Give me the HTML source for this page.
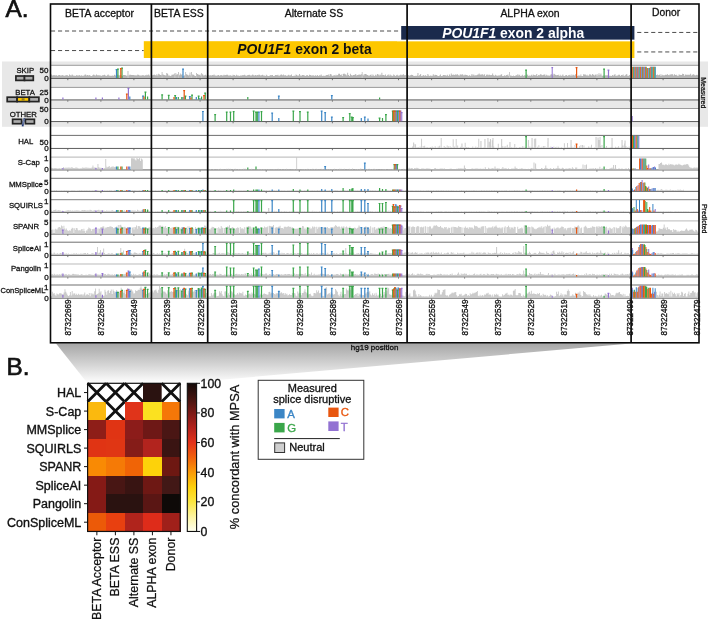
<!DOCTYPE html>
<html lang="en"><head><meta charset="utf-8"><title>POU1F1 exon 2 splice predictor comparison</title>
<style>
html,body{margin:0;padding:0;background:#fff;}
body{width:708px;height:620px;overflow:hidden;font-family:"Liberation Sans", Arial, Helvetica, sans-serif;}
svg{display:block;position:absolute;left:0;top:0;}
</style></head><body>
<svg width="708" height="620" viewBox="0 0 708 620" font-family='"Liberation Sans", Arial, Helvetica, sans-serif'><rect x="0" y="0" width="708" height="620" fill="#fff"/>
<rect x="2" y="61.5" width="706" height="65.3" fill="#e8e8e8"/>
<rect x="50.5" y="65.3" width="648.5" height="12.700000000000003" fill="#fff"/>
<rect x="50.5" y="87.4" width="648.5" height="12.099999999999994" fill="#fff"/>
<rect x="50.5" y="108.5" width="648.5" height="12.599999999999994" fill="#fff"/>
<defs><linearGradient id="wg" x1="0" y1="0" x2="0" y2="1"><stop offset="0" stop-color="#a6a6a6"/><stop offset="0.55" stop-color="#d6d6d6"/><stop offset="1" stop-color="#ffffff"/></linearGradient><linearGradient id="cb" x1="0" y1="0" x2="0" y2="1"><stop offset="0" stop-color="#140a08"/><stop offset="0.1" stop-color="#42140f"/><stop offset="0.2" stop-color="#7c1a16"/><stop offset="0.3" stop-color="#b2221c"/><stop offset="0.4" stop-color="#e2321a"/><stop offset="0.5" stop-color="#f0600c"/><stop offset="0.6" stop-color="#fa9a08"/><stop offset="0.7" stop-color="#fdd00c"/><stop offset="0.8" stop-color="#fbe640"/><stop offset="0.9" stop-color="#fdf4a0"/><stop offset="1" stop-color="#fffff0"/></linearGradient></defs>
<polygon points="56,343.5 631,343.5 180.5,383.3 87.5,383.3" fill="url(#wg)"/>
<line x1="50.5" x2="699.0" y1="65.3" y2="65.3" stroke="#8a8a8a" stroke-width="0.85"/>
<line x1="50.5" x2="699.0" y1="78.45" y2="78.45" stroke="#5e5e5e" stroke-width="1.0"/>
<line x1="67.8" x2="67.8" y1="78.9" y2="80.2" stroke="#444" stroke-width="0.7"/>
<line x1="100.9" x2="100.9" y1="78.9" y2="80.2" stroke="#444" stroke-width="0.7"/>
<line x1="133.9" x2="133.9" y1="78.9" y2="80.2" stroke="#444" stroke-width="0.7"/>
<line x1="167.0" x2="167.0" y1="78.9" y2="80.2" stroke="#444" stroke-width="0.7"/>
<line x1="200.1" x2="200.1" y1="78.9" y2="80.2" stroke="#444" stroke-width="0.7"/>
<line x1="233.1" x2="233.1" y1="78.9" y2="80.2" stroke="#444" stroke-width="0.7"/>
<line x1="266.2" x2="266.2" y1="78.9" y2="80.2" stroke="#444" stroke-width="0.7"/>
<line x1="299.3" x2="299.3" y1="78.9" y2="80.2" stroke="#444" stroke-width="0.7"/>
<line x1="332.4" x2="332.4" y1="78.9" y2="80.2" stroke="#444" stroke-width="0.7"/>
<line x1="365.4" x2="365.4" y1="78.9" y2="80.2" stroke="#444" stroke-width="0.7"/>
<line x1="398.5" x2="398.5" y1="78.9" y2="80.2" stroke="#444" stroke-width="0.7"/>
<line x1="431.6" x2="431.6" y1="78.9" y2="80.2" stroke="#444" stroke-width="0.7"/>
<line x1="464.6" x2="464.6" y1="78.9" y2="80.2" stroke="#444" stroke-width="0.7"/>
<line x1="497.7" x2="497.7" y1="78.9" y2="80.2" stroke="#444" stroke-width="0.7"/>
<line x1="530.8" x2="530.8" y1="78.9" y2="80.2" stroke="#444" stroke-width="0.7"/>
<line x1="563.9" x2="563.9" y1="78.9" y2="80.2" stroke="#444" stroke-width="0.7"/>
<line x1="596.9" x2="596.9" y1="78.9" y2="80.2" stroke="#444" stroke-width="0.7"/>
<line x1="630.0" x2="630.0" y1="78.9" y2="80.2" stroke="#444" stroke-width="0.7"/>
<line x1="663.1" x2="663.1" y1="78.9" y2="80.2" stroke="#444" stroke-width="0.7"/>
<line x1="50.5" x2="699.0" y1="87.4" y2="87.4" stroke="#8a8a8a" stroke-width="0.85"/>
<line x1="50.5" x2="699.0" y1="99.95" y2="99.95" stroke="#5e5e5e" stroke-width="1.0"/>
<line x1="67.8" x2="67.8" y1="100.4" y2="101.7" stroke="#444" stroke-width="0.7"/>
<line x1="100.9" x2="100.9" y1="100.4" y2="101.7" stroke="#444" stroke-width="0.7"/>
<line x1="133.9" x2="133.9" y1="100.4" y2="101.7" stroke="#444" stroke-width="0.7"/>
<line x1="167.0" x2="167.0" y1="100.4" y2="101.7" stroke="#444" stroke-width="0.7"/>
<line x1="200.1" x2="200.1" y1="100.4" y2="101.7" stroke="#444" stroke-width="0.7"/>
<line x1="233.1" x2="233.1" y1="100.4" y2="101.7" stroke="#444" stroke-width="0.7"/>
<line x1="266.2" x2="266.2" y1="100.4" y2="101.7" stroke="#444" stroke-width="0.7"/>
<line x1="299.3" x2="299.3" y1="100.4" y2="101.7" stroke="#444" stroke-width="0.7"/>
<line x1="332.4" x2="332.4" y1="100.4" y2="101.7" stroke="#444" stroke-width="0.7"/>
<line x1="365.4" x2="365.4" y1="100.4" y2="101.7" stroke="#444" stroke-width="0.7"/>
<line x1="398.5" x2="398.5" y1="100.4" y2="101.7" stroke="#444" stroke-width="0.7"/>
<line x1="431.6" x2="431.6" y1="100.4" y2="101.7" stroke="#444" stroke-width="0.7"/>
<line x1="464.6" x2="464.6" y1="100.4" y2="101.7" stroke="#444" stroke-width="0.7"/>
<line x1="497.7" x2="497.7" y1="100.4" y2="101.7" stroke="#444" stroke-width="0.7"/>
<line x1="530.8" x2="530.8" y1="100.4" y2="101.7" stroke="#444" stroke-width="0.7"/>
<line x1="563.9" x2="563.9" y1="100.4" y2="101.7" stroke="#444" stroke-width="0.7"/>
<line x1="596.9" x2="596.9" y1="100.4" y2="101.7" stroke="#444" stroke-width="0.7"/>
<line x1="630.0" x2="630.0" y1="100.4" y2="101.7" stroke="#444" stroke-width="0.7"/>
<line x1="663.1" x2="663.1" y1="100.4" y2="101.7" stroke="#444" stroke-width="0.7"/>
<line x1="50.5" x2="699.0" y1="108.5" y2="108.5" stroke="#8a8a8a" stroke-width="0.85"/>
<line x1="50.5" x2="699.0" y1="121.55" y2="121.55" stroke="#5e5e5e" stroke-width="1.0"/>
<line x1="67.8" x2="67.8" y1="122.0" y2="123.3" stroke="#444" stroke-width="0.7"/>
<line x1="100.9" x2="100.9" y1="122.0" y2="123.3" stroke="#444" stroke-width="0.7"/>
<line x1="133.9" x2="133.9" y1="122.0" y2="123.3" stroke="#444" stroke-width="0.7"/>
<line x1="167.0" x2="167.0" y1="122.0" y2="123.3" stroke="#444" stroke-width="0.7"/>
<line x1="200.1" x2="200.1" y1="122.0" y2="123.3" stroke="#444" stroke-width="0.7"/>
<line x1="233.1" x2="233.1" y1="122.0" y2="123.3" stroke="#444" stroke-width="0.7"/>
<line x1="266.2" x2="266.2" y1="122.0" y2="123.3" stroke="#444" stroke-width="0.7"/>
<line x1="299.3" x2="299.3" y1="122.0" y2="123.3" stroke="#444" stroke-width="0.7"/>
<line x1="332.4" x2="332.4" y1="122.0" y2="123.3" stroke="#444" stroke-width="0.7"/>
<line x1="365.4" x2="365.4" y1="122.0" y2="123.3" stroke="#444" stroke-width="0.7"/>
<line x1="398.5" x2="398.5" y1="122.0" y2="123.3" stroke="#444" stroke-width="0.7"/>
<line x1="431.6" x2="431.6" y1="122.0" y2="123.3" stroke="#444" stroke-width="0.7"/>
<line x1="464.6" x2="464.6" y1="122.0" y2="123.3" stroke="#444" stroke-width="0.7"/>
<line x1="497.7" x2="497.7" y1="122.0" y2="123.3" stroke="#444" stroke-width="0.7"/>
<line x1="530.8" x2="530.8" y1="122.0" y2="123.3" stroke="#444" stroke-width="0.7"/>
<line x1="563.9" x2="563.9" y1="122.0" y2="123.3" stroke="#444" stroke-width="0.7"/>
<line x1="596.9" x2="596.9" y1="122.0" y2="123.3" stroke="#444" stroke-width="0.7"/>
<line x1="630.0" x2="630.0" y1="122.0" y2="123.3" stroke="#444" stroke-width="0.7"/>
<line x1="663.1" x2="663.1" y1="122.0" y2="123.3" stroke="#444" stroke-width="0.7"/>
<line x1="50.5" x2="699.0" y1="135.4" y2="135.4" stroke="#555" stroke-width="0.85"/>
<line x1="50.5" x2="699.0" y1="148.45" y2="148.45" stroke="#5e5e5e" stroke-width="1.0"/>
<line x1="67.8" x2="67.8" y1="148.9" y2="150.2" stroke="#444" stroke-width="0.7"/>
<line x1="100.9" x2="100.9" y1="148.9" y2="150.2" stroke="#444" stroke-width="0.7"/>
<line x1="133.9" x2="133.9" y1="148.9" y2="150.2" stroke="#444" stroke-width="0.7"/>
<line x1="167.0" x2="167.0" y1="148.9" y2="150.2" stroke="#444" stroke-width="0.7"/>
<line x1="200.1" x2="200.1" y1="148.9" y2="150.2" stroke="#444" stroke-width="0.7"/>
<line x1="233.1" x2="233.1" y1="148.9" y2="150.2" stroke="#444" stroke-width="0.7"/>
<line x1="266.2" x2="266.2" y1="148.9" y2="150.2" stroke="#444" stroke-width="0.7"/>
<line x1="299.3" x2="299.3" y1="148.9" y2="150.2" stroke="#444" stroke-width="0.7"/>
<line x1="332.4" x2="332.4" y1="148.9" y2="150.2" stroke="#444" stroke-width="0.7"/>
<line x1="365.4" x2="365.4" y1="148.9" y2="150.2" stroke="#444" stroke-width="0.7"/>
<line x1="398.5" x2="398.5" y1="148.9" y2="150.2" stroke="#444" stroke-width="0.7"/>
<line x1="431.6" x2="431.6" y1="148.9" y2="150.2" stroke="#444" stroke-width="0.7"/>
<line x1="464.6" x2="464.6" y1="148.9" y2="150.2" stroke="#444" stroke-width="0.7"/>
<line x1="497.7" x2="497.7" y1="148.9" y2="150.2" stroke="#444" stroke-width="0.7"/>
<line x1="530.8" x2="530.8" y1="148.9" y2="150.2" stroke="#444" stroke-width="0.7"/>
<line x1="563.9" x2="563.9" y1="148.9" y2="150.2" stroke="#444" stroke-width="0.7"/>
<line x1="596.9" x2="596.9" y1="148.9" y2="150.2" stroke="#444" stroke-width="0.7"/>
<line x1="630.0" x2="630.0" y1="148.9" y2="150.2" stroke="#444" stroke-width="0.7"/>
<line x1="663.1" x2="663.1" y1="148.9" y2="150.2" stroke="#444" stroke-width="0.7"/>
<line x1="50.5" x2="699.0" y1="157.1" y2="157.1" stroke="#a8a8a8" stroke-width="0.85"/>
<line x1="50.5" x2="699.0" y1="169.95" y2="169.95" stroke="#5e5e5e" stroke-width="1.0"/>
<line x1="67.8" x2="67.8" y1="170.4" y2="171.7" stroke="#444" stroke-width="0.7"/>
<line x1="100.9" x2="100.9" y1="170.4" y2="171.7" stroke="#444" stroke-width="0.7"/>
<line x1="133.9" x2="133.9" y1="170.4" y2="171.7" stroke="#444" stroke-width="0.7"/>
<line x1="167.0" x2="167.0" y1="170.4" y2="171.7" stroke="#444" stroke-width="0.7"/>
<line x1="200.1" x2="200.1" y1="170.4" y2="171.7" stroke="#444" stroke-width="0.7"/>
<line x1="233.1" x2="233.1" y1="170.4" y2="171.7" stroke="#444" stroke-width="0.7"/>
<line x1="266.2" x2="266.2" y1="170.4" y2="171.7" stroke="#444" stroke-width="0.7"/>
<line x1="299.3" x2="299.3" y1="170.4" y2="171.7" stroke="#444" stroke-width="0.7"/>
<line x1="332.4" x2="332.4" y1="170.4" y2="171.7" stroke="#444" stroke-width="0.7"/>
<line x1="365.4" x2="365.4" y1="170.4" y2="171.7" stroke="#444" stroke-width="0.7"/>
<line x1="398.5" x2="398.5" y1="170.4" y2="171.7" stroke="#444" stroke-width="0.7"/>
<line x1="431.6" x2="431.6" y1="170.4" y2="171.7" stroke="#444" stroke-width="0.7"/>
<line x1="464.6" x2="464.6" y1="170.4" y2="171.7" stroke="#444" stroke-width="0.7"/>
<line x1="497.7" x2="497.7" y1="170.4" y2="171.7" stroke="#444" stroke-width="0.7"/>
<line x1="530.8" x2="530.8" y1="170.4" y2="171.7" stroke="#444" stroke-width="0.7"/>
<line x1="563.9" x2="563.9" y1="170.4" y2="171.7" stroke="#444" stroke-width="0.7"/>
<line x1="596.9" x2="596.9" y1="170.4" y2="171.7" stroke="#444" stroke-width="0.7"/>
<line x1="630.0" x2="630.0" y1="170.4" y2="171.7" stroke="#444" stroke-width="0.7"/>
<line x1="663.1" x2="663.1" y1="170.4" y2="171.7" stroke="#444" stroke-width="0.7"/>
<line x1="50.5" x2="699.0" y1="178.3" y2="178.3" stroke="#555" stroke-width="0.85"/>
<line x1="50.5" x2="699.0" y1="191.35" y2="191.35" stroke="#5e5e5e" stroke-width="1.0"/>
<line x1="67.8" x2="67.8" y1="191.8" y2="193.1" stroke="#444" stroke-width="0.7"/>
<line x1="100.9" x2="100.9" y1="191.8" y2="193.1" stroke="#444" stroke-width="0.7"/>
<line x1="133.9" x2="133.9" y1="191.8" y2="193.1" stroke="#444" stroke-width="0.7"/>
<line x1="167.0" x2="167.0" y1="191.8" y2="193.1" stroke="#444" stroke-width="0.7"/>
<line x1="200.1" x2="200.1" y1="191.8" y2="193.1" stroke="#444" stroke-width="0.7"/>
<line x1="233.1" x2="233.1" y1="191.8" y2="193.1" stroke="#444" stroke-width="0.7"/>
<line x1="266.2" x2="266.2" y1="191.8" y2="193.1" stroke="#444" stroke-width="0.7"/>
<line x1="299.3" x2="299.3" y1="191.8" y2="193.1" stroke="#444" stroke-width="0.7"/>
<line x1="332.4" x2="332.4" y1="191.8" y2="193.1" stroke="#444" stroke-width="0.7"/>
<line x1="365.4" x2="365.4" y1="191.8" y2="193.1" stroke="#444" stroke-width="0.7"/>
<line x1="398.5" x2="398.5" y1="191.8" y2="193.1" stroke="#444" stroke-width="0.7"/>
<line x1="431.6" x2="431.6" y1="191.8" y2="193.1" stroke="#444" stroke-width="0.7"/>
<line x1="464.6" x2="464.6" y1="191.8" y2="193.1" stroke="#444" stroke-width="0.7"/>
<line x1="497.7" x2="497.7" y1="191.8" y2="193.1" stroke="#444" stroke-width="0.7"/>
<line x1="530.8" x2="530.8" y1="191.8" y2="193.1" stroke="#444" stroke-width="0.7"/>
<line x1="563.9" x2="563.9" y1="191.8" y2="193.1" stroke="#444" stroke-width="0.7"/>
<line x1="596.9" x2="596.9" y1="191.8" y2="193.1" stroke="#444" stroke-width="0.7"/>
<line x1="630.0" x2="630.0" y1="191.8" y2="193.1" stroke="#444" stroke-width="0.7"/>
<line x1="663.1" x2="663.1" y1="191.8" y2="193.1" stroke="#444" stroke-width="0.7"/>
<line x1="50.5" x2="699.0" y1="199.7" y2="199.7" stroke="#666" stroke-width="0.85"/>
<line x1="50.5" x2="699.0" y1="212.35" y2="212.35" stroke="#5e5e5e" stroke-width="1.0"/>
<line x1="67.8" x2="67.8" y1="212.8" y2="214.1" stroke="#444" stroke-width="0.7"/>
<line x1="100.9" x2="100.9" y1="212.8" y2="214.1" stroke="#444" stroke-width="0.7"/>
<line x1="133.9" x2="133.9" y1="212.8" y2="214.1" stroke="#444" stroke-width="0.7"/>
<line x1="167.0" x2="167.0" y1="212.8" y2="214.1" stroke="#444" stroke-width="0.7"/>
<line x1="200.1" x2="200.1" y1="212.8" y2="214.1" stroke="#444" stroke-width="0.7"/>
<line x1="233.1" x2="233.1" y1="212.8" y2="214.1" stroke="#444" stroke-width="0.7"/>
<line x1="266.2" x2="266.2" y1="212.8" y2="214.1" stroke="#444" stroke-width="0.7"/>
<line x1="299.3" x2="299.3" y1="212.8" y2="214.1" stroke="#444" stroke-width="0.7"/>
<line x1="332.4" x2="332.4" y1="212.8" y2="214.1" stroke="#444" stroke-width="0.7"/>
<line x1="365.4" x2="365.4" y1="212.8" y2="214.1" stroke="#444" stroke-width="0.7"/>
<line x1="398.5" x2="398.5" y1="212.8" y2="214.1" stroke="#444" stroke-width="0.7"/>
<line x1="431.6" x2="431.6" y1="212.8" y2="214.1" stroke="#444" stroke-width="0.7"/>
<line x1="464.6" x2="464.6" y1="212.8" y2="214.1" stroke="#444" stroke-width="0.7"/>
<line x1="497.7" x2="497.7" y1="212.8" y2="214.1" stroke="#444" stroke-width="0.7"/>
<line x1="530.8" x2="530.8" y1="212.8" y2="214.1" stroke="#444" stroke-width="0.7"/>
<line x1="563.9" x2="563.9" y1="212.8" y2="214.1" stroke="#444" stroke-width="0.7"/>
<line x1="596.9" x2="596.9" y1="212.8" y2="214.1" stroke="#444" stroke-width="0.7"/>
<line x1="630.0" x2="630.0" y1="212.8" y2="214.1" stroke="#444" stroke-width="0.7"/>
<line x1="663.1" x2="663.1" y1="212.8" y2="214.1" stroke="#444" stroke-width="0.7"/>
<line x1="50.5" x2="699.0" y1="220.9" y2="220.9" stroke="#aeaeae" stroke-width="0.85"/>
<line x1="50.5" x2="699.0" y1="234.04999999999998" y2="234.04999999999998" stroke="#5e5e5e" stroke-width="1.0"/>
<line x1="67.8" x2="67.8" y1="234.5" y2="235.79999999999998" stroke="#444" stroke-width="0.7"/>
<line x1="100.9" x2="100.9" y1="234.5" y2="235.79999999999998" stroke="#444" stroke-width="0.7"/>
<line x1="133.9" x2="133.9" y1="234.5" y2="235.79999999999998" stroke="#444" stroke-width="0.7"/>
<line x1="167.0" x2="167.0" y1="234.5" y2="235.79999999999998" stroke="#444" stroke-width="0.7"/>
<line x1="200.1" x2="200.1" y1="234.5" y2="235.79999999999998" stroke="#444" stroke-width="0.7"/>
<line x1="233.1" x2="233.1" y1="234.5" y2="235.79999999999998" stroke="#444" stroke-width="0.7"/>
<line x1="266.2" x2="266.2" y1="234.5" y2="235.79999999999998" stroke="#444" stroke-width="0.7"/>
<line x1="299.3" x2="299.3" y1="234.5" y2="235.79999999999998" stroke="#444" stroke-width="0.7"/>
<line x1="332.4" x2="332.4" y1="234.5" y2="235.79999999999998" stroke="#444" stroke-width="0.7"/>
<line x1="365.4" x2="365.4" y1="234.5" y2="235.79999999999998" stroke="#444" stroke-width="0.7"/>
<line x1="398.5" x2="398.5" y1="234.5" y2="235.79999999999998" stroke="#444" stroke-width="0.7"/>
<line x1="431.6" x2="431.6" y1="234.5" y2="235.79999999999998" stroke="#444" stroke-width="0.7"/>
<line x1="464.6" x2="464.6" y1="234.5" y2="235.79999999999998" stroke="#444" stroke-width="0.7"/>
<line x1="497.7" x2="497.7" y1="234.5" y2="235.79999999999998" stroke="#444" stroke-width="0.7"/>
<line x1="530.8" x2="530.8" y1="234.5" y2="235.79999999999998" stroke="#444" stroke-width="0.7"/>
<line x1="563.9" x2="563.9" y1="234.5" y2="235.79999999999998" stroke="#444" stroke-width="0.7"/>
<line x1="596.9" x2="596.9" y1="234.5" y2="235.79999999999998" stroke="#444" stroke-width="0.7"/>
<line x1="630.0" x2="630.0" y1="234.5" y2="235.79999999999998" stroke="#444" stroke-width="0.7"/>
<line x1="663.1" x2="663.1" y1="234.5" y2="235.79999999999998" stroke="#444" stroke-width="0.7"/>
<line x1="50.5" x2="699.0" y1="242.2" y2="242.2" stroke="#555" stroke-width="0.85"/>
<line x1="50.5" x2="699.0" y1="255.35" y2="255.35" stroke="#5e5e5e" stroke-width="1.0"/>
<line x1="67.8" x2="67.8" y1="255.8" y2="257.1" stroke="#444" stroke-width="0.7"/>
<line x1="100.9" x2="100.9" y1="255.8" y2="257.1" stroke="#444" stroke-width="0.7"/>
<line x1="133.9" x2="133.9" y1="255.8" y2="257.1" stroke="#444" stroke-width="0.7"/>
<line x1="167.0" x2="167.0" y1="255.8" y2="257.1" stroke="#444" stroke-width="0.7"/>
<line x1="200.1" x2="200.1" y1="255.8" y2="257.1" stroke="#444" stroke-width="0.7"/>
<line x1="233.1" x2="233.1" y1="255.8" y2="257.1" stroke="#444" stroke-width="0.7"/>
<line x1="266.2" x2="266.2" y1="255.8" y2="257.1" stroke="#444" stroke-width="0.7"/>
<line x1="299.3" x2="299.3" y1="255.8" y2="257.1" stroke="#444" stroke-width="0.7"/>
<line x1="332.4" x2="332.4" y1="255.8" y2="257.1" stroke="#444" stroke-width="0.7"/>
<line x1="365.4" x2="365.4" y1="255.8" y2="257.1" stroke="#444" stroke-width="0.7"/>
<line x1="398.5" x2="398.5" y1="255.8" y2="257.1" stroke="#444" stroke-width="0.7"/>
<line x1="431.6" x2="431.6" y1="255.8" y2="257.1" stroke="#444" stroke-width="0.7"/>
<line x1="464.6" x2="464.6" y1="255.8" y2="257.1" stroke="#444" stroke-width="0.7"/>
<line x1="497.7" x2="497.7" y1="255.8" y2="257.1" stroke="#444" stroke-width="0.7"/>
<line x1="530.8" x2="530.8" y1="255.8" y2="257.1" stroke="#444" stroke-width="0.7"/>
<line x1="563.9" x2="563.9" y1="255.8" y2="257.1" stroke="#444" stroke-width="0.7"/>
<line x1="596.9" x2="596.9" y1="255.8" y2="257.1" stroke="#444" stroke-width="0.7"/>
<line x1="630.0" x2="630.0" y1="255.8" y2="257.1" stroke="#444" stroke-width="0.7"/>
<line x1="663.1" x2="663.1" y1="255.8" y2="257.1" stroke="#444" stroke-width="0.7"/>
<line x1="50.5" x2="699.0" y1="264.0" y2="264.0" stroke="#aeaeae" stroke-width="0.85"/>
<line x1="50.5" x2="699.0" y1="276.84999999999997" y2="276.84999999999997" stroke="#5e5e5e" stroke-width="1.0"/>
<line x1="67.8" x2="67.8" y1="277.29999999999995" y2="278.59999999999997" stroke="#444" stroke-width="0.7"/>
<line x1="100.9" x2="100.9" y1="277.29999999999995" y2="278.59999999999997" stroke="#444" stroke-width="0.7"/>
<line x1="133.9" x2="133.9" y1="277.29999999999995" y2="278.59999999999997" stroke="#444" stroke-width="0.7"/>
<line x1="167.0" x2="167.0" y1="277.29999999999995" y2="278.59999999999997" stroke="#444" stroke-width="0.7"/>
<line x1="200.1" x2="200.1" y1="277.29999999999995" y2="278.59999999999997" stroke="#444" stroke-width="0.7"/>
<line x1="233.1" x2="233.1" y1="277.29999999999995" y2="278.59999999999997" stroke="#444" stroke-width="0.7"/>
<line x1="266.2" x2="266.2" y1="277.29999999999995" y2="278.59999999999997" stroke="#444" stroke-width="0.7"/>
<line x1="299.3" x2="299.3" y1="277.29999999999995" y2="278.59999999999997" stroke="#444" stroke-width="0.7"/>
<line x1="332.4" x2="332.4" y1="277.29999999999995" y2="278.59999999999997" stroke="#444" stroke-width="0.7"/>
<line x1="365.4" x2="365.4" y1="277.29999999999995" y2="278.59999999999997" stroke="#444" stroke-width="0.7"/>
<line x1="398.5" x2="398.5" y1="277.29999999999995" y2="278.59999999999997" stroke="#444" stroke-width="0.7"/>
<line x1="431.6" x2="431.6" y1="277.29999999999995" y2="278.59999999999997" stroke="#444" stroke-width="0.7"/>
<line x1="464.6" x2="464.6" y1="277.29999999999995" y2="278.59999999999997" stroke="#444" stroke-width="0.7"/>
<line x1="497.7" x2="497.7" y1="277.29999999999995" y2="278.59999999999997" stroke="#444" stroke-width="0.7"/>
<line x1="530.8" x2="530.8" y1="277.29999999999995" y2="278.59999999999997" stroke="#444" stroke-width="0.7"/>
<line x1="563.9" x2="563.9" y1="277.29999999999995" y2="278.59999999999997" stroke="#444" stroke-width="0.7"/>
<line x1="596.9" x2="596.9" y1="277.29999999999995" y2="278.59999999999997" stroke="#444" stroke-width="0.7"/>
<line x1="630.0" x2="630.0" y1="277.29999999999995" y2="278.59999999999997" stroke="#444" stroke-width="0.7"/>
<line x1="663.1" x2="663.1" y1="277.29999999999995" y2="278.59999999999997" stroke="#444" stroke-width="0.7"/>
<line x1="50.5" x2="699.0" y1="285.0" y2="285.0" stroke="#555" stroke-width="0.85"/>
<line x1="50.5" x2="699.0" y1="298.15" y2="298.15" stroke="#5e5e5e" stroke-width="1.0"/>
<line x1="67.8" x2="67.8" y1="298.59999999999997" y2="299.9" stroke="#444" stroke-width="0.7"/>
<line x1="100.9" x2="100.9" y1="298.59999999999997" y2="299.9" stroke="#444" stroke-width="0.7"/>
<line x1="133.9" x2="133.9" y1="298.59999999999997" y2="299.9" stroke="#444" stroke-width="0.7"/>
<line x1="167.0" x2="167.0" y1="298.59999999999997" y2="299.9" stroke="#444" stroke-width="0.7"/>
<line x1="200.1" x2="200.1" y1="298.59999999999997" y2="299.9" stroke="#444" stroke-width="0.7"/>
<line x1="233.1" x2="233.1" y1="298.59999999999997" y2="299.9" stroke="#444" stroke-width="0.7"/>
<line x1="266.2" x2="266.2" y1="298.59999999999997" y2="299.9" stroke="#444" stroke-width="0.7"/>
<line x1="299.3" x2="299.3" y1="298.59999999999997" y2="299.9" stroke="#444" stroke-width="0.7"/>
<line x1="332.4" x2="332.4" y1="298.59999999999997" y2="299.9" stroke="#444" stroke-width="0.7"/>
<line x1="365.4" x2="365.4" y1="298.59999999999997" y2="299.9" stroke="#444" stroke-width="0.7"/>
<line x1="398.5" x2="398.5" y1="298.59999999999997" y2="299.9" stroke="#444" stroke-width="0.7"/>
<line x1="431.6" x2="431.6" y1="298.59999999999997" y2="299.9" stroke="#444" stroke-width="0.7"/>
<line x1="464.6" x2="464.6" y1="298.59999999999997" y2="299.9" stroke="#444" stroke-width="0.7"/>
<line x1="497.7" x2="497.7" y1="298.59999999999997" y2="299.9" stroke="#444" stroke-width="0.7"/>
<line x1="530.8" x2="530.8" y1="298.59999999999997" y2="299.9" stroke="#444" stroke-width="0.7"/>
<line x1="563.9" x2="563.9" y1="298.59999999999997" y2="299.9" stroke="#444" stroke-width="0.7"/>
<line x1="596.9" x2="596.9" y1="298.59999999999997" y2="299.9" stroke="#444" stroke-width="0.7"/>
<line x1="630.0" x2="630.0" y1="298.59999999999997" y2="299.9" stroke="#444" stroke-width="0.7"/>
<line x1="663.1" x2="663.1" y1="298.59999999999997" y2="299.9" stroke="#444" stroke-width="0.7"/>
<path fill="#b6b6b6" d="M51.0 74.6h0.95v3.5h-0.95zM51.9 75.5h0.95v2.6h-0.95zM52.8 75.3h0.95v2.8h-0.95zM53.7 75.1h0.95v3.0h-0.95zM54.6 75.6h0.95v2.5h-0.95zM55.5 75.3h0.95v2.8h-0.95zM56.4 75.3h0.95v2.8h-0.95zM57.3 75.9h0.95v2.2h-0.95zM58.2 74.9h0.95v3.2h-0.95zM59.1 75.1h0.95v3.0h-0.95zM60.0 75.6h0.95v2.5h-0.95zM60.9 75.4h0.95v2.7h-0.95zM61.8 75.1h0.95v3.0h-0.95zM62.7 75.4h0.95v2.7h-0.95zM63.6 75.4h0.95v2.7h-0.95zM64.5 75.9h0.95v2.2h-0.95zM65.4 75.1h0.95v3.0h-0.95zM66.3 75.3h0.95v2.8h-0.95zM67.2 75.2h0.95v2.9h-0.95zM68.1 75.9h0.95v2.2h-0.95zM69.0 74.6h0.95v3.5h-0.95zM69.9 75.2h0.95v2.9h-0.95zM70.8 75.5h0.95v2.6h-0.95zM71.7 74.5h0.95v3.6h-0.95zM72.6 75.3h0.95v2.8h-0.95zM73.5 75.9h0.95v2.2h-0.95zM74.4 75.5h0.95v2.6h-0.95zM75.3 75.9h0.95v2.2h-0.95zM76.2 74.9h0.95v3.2h-0.95zM77.1 75.5h0.95v2.6h-0.95zM78.0 75.6h0.95v2.5h-0.95zM78.9 74.9h0.95v3.2h-0.95zM79.8 75.9h0.95v2.2h-0.95zM80.7 75.1h0.95v3.0h-0.95zM81.6 75.9h0.95v2.2h-0.95zM82.5 75.6h0.95v2.5h-0.95zM83.4 75.8h0.95v2.3h-0.95zM84.3 74.7h0.95v3.4h-0.95zM85.2 74.6h0.95v3.5h-0.95zM86.1 75.4h0.95v2.7h-0.95zM87.0 75.0h0.95v3.1h-0.95zM87.9 75.4h0.95v2.7h-0.95zM88.8 75.1h0.95v3.0h-0.95zM89.7 75.6h0.95v2.5h-0.95zM90.6 75.9h0.95v2.2h-0.95zM91.5 75.9h0.95v2.2h-0.95zM92.4 75.1h0.95v3.0h-0.95zM93.3 74.4h0.95v3.7h-0.95zM94.2 75.2h0.95v2.9h-0.95zM95.1 75.5h0.95v2.6h-0.95zM96.0 74.5h0.95v3.6h-0.95zM96.9 75.2h0.95v2.9h-0.95zM97.8 75.3h0.95v2.8h-0.95zM98.7 75.2h0.95v2.9h-0.95zM99.6 75.4h0.95v2.7h-0.95zM100.5 75.4h0.95v2.7h-0.95zM101.4 75.9h0.95v2.2h-0.95zM102.3 75.1h0.95v3.0h-0.95zM103.2 75.3h0.95v2.8h-0.95zM104.1 74.8h0.95v3.3h-0.95zM105.0 75.4h0.95v2.7h-0.95zM105.9 75.9h0.95v2.2h-0.95zM106.8 75.3h0.95v2.8h-0.95zM107.7 74.6h0.95v3.5h-0.95zM108.6 75.5h0.95v2.6h-0.95zM109.5 75.7h0.95v2.4h-0.95zM110.4 75.8h0.95v2.3h-0.95zM111.3 75.7h0.95v2.4h-0.95zM112.2 75.4h0.95v2.7h-0.95zM113.1 75.8h0.95v2.3h-0.95zM114.0 74.7h0.95v3.4h-0.95zM114.9 75.4h0.95v2.7h-0.95zM115.8 75.3h0.95v2.8h-0.95zM116.7 74.7h0.95v3.4h-0.95zM117.6 74.7h0.95v3.4h-0.95zM118.5 75.4h0.95v2.7h-0.95zM119.4 75.2h0.95v2.9h-0.95zM120.3 75.0h0.95v3.1h-0.95zM121.2 75.4h0.95v2.7h-0.95zM122.1 75.9h0.95v2.2h-0.95zM123.0 75.0h0.95v3.1h-0.95zM123.9 74.9h0.95v3.2h-0.95zM124.8 75.1h0.95v3.0h-0.95zM125.7 75.7h0.95v2.4h-0.95zM126.6 75.4h0.95v2.7h-0.95zM127.5 75.5h0.95v2.6h-0.95zM128.4 75.4h0.95v2.7h-0.95zM129.3 74.8h0.95v3.3h-0.95zM130.2 74.7h0.95v3.4h-0.95zM131.1 75.0h0.95v3.1h-0.95zM132.0 75.1h0.95v3.0h-0.95zM132.9 75.0h0.95v3.1h-0.95zM133.8 75.3h0.95v2.8h-0.95zM134.7 75.3h0.95v2.8h-0.95zM135.6 75.6h0.95v2.5h-0.95zM136.5 75.3h0.95v2.8h-0.95zM137.4 74.4h0.95v3.7h-0.95zM138.3 75.0h0.95v3.1h-0.95zM139.2 75.4h0.95v2.7h-0.95zM140.1 75.5h0.95v2.6h-0.95zM141.0 75.6h0.95v2.5h-0.95zM141.9 75.2h0.95v2.9h-0.95zM142.8 75.1h0.95v3.0h-0.95zM143.7 75.9h0.95v2.2h-0.95zM144.6 75.1h0.95v3.0h-0.95zM145.5 75.5h0.95v2.6h-0.95zM146.4 74.7h0.95v3.4h-0.95zM147.3 75.2h0.95v2.9h-0.95zM148.2 74.6h0.95v3.5h-0.95zM149.1 75.5h0.95v2.6h-0.95zM151.9 75.3h0.95v2.8h-0.95zM152.8 74.9h0.95v3.2h-0.95zM153.7 74.6h0.95v3.5h-0.95zM154.6 75.0h0.95v3.1h-0.95zM155.5 75.6h0.95v2.5h-0.95zM156.4 74.2h0.95v3.9h-0.95zM157.3 75.6h0.95v2.5h-0.95zM158.2 73.7h0.95v4.4h-0.95zM159.1 74.6h0.95v3.5h-0.95zM160.0 75.0h0.95v3.1h-0.95zM160.9 75.2h0.95v2.9h-0.95zM161.8 74.5h0.95v3.6h-0.95zM162.7 74.6h0.95v3.5h-0.95zM163.6 74.9h0.95v3.2h-0.95zM164.5 75.3h0.95v2.8h-0.95zM165.4 75.6h0.95v2.5h-0.95zM166.3 72.9h0.95v5.2h-0.95zM167.2 73.8h0.95v4.3h-0.95zM168.1 75.4h0.95v2.7h-0.95zM169.0 75.5h0.95v2.6h-0.95zM169.9 75.9h0.95v2.2h-0.95zM170.8 75.6h0.95v2.5h-0.95zM171.7 74.4h0.95v3.7h-0.95zM172.6 75.1h0.95v3.0h-0.95zM173.5 73.9h0.95v4.2h-0.95zM174.4 74.7h0.95v3.4h-0.95zM175.3 75.0h0.95v3.1h-0.95zM176.2 74.6h0.95v3.5h-0.95zM177.1 74.3h0.95v3.8h-0.95zM178.0 74.1h0.95v4.0h-0.95zM178.9 75.2h0.95v2.9h-0.95zM179.8 73.5h0.95v4.6h-0.95zM180.7 74.7h0.95v3.4h-0.95zM181.6 74.2h0.95v3.9h-0.95zM182.5 75.9h0.95v2.2h-0.95zM183.4 75.7h0.95v2.4h-0.95zM184.3 75.2h0.95v2.9h-0.95zM185.2 74.3h0.95v3.8h-0.95zM186.1 74.3h0.95v3.8h-0.95zM187.0 74.7h0.95v3.4h-0.95zM187.9 75.5h0.95v2.6h-0.95zM188.8 74.8h0.95v3.3h-0.95zM189.7 75.0h0.95v3.1h-0.95zM190.6 75.9h0.95v2.2h-0.95zM191.5 75.3h0.95v2.8h-0.95zM192.4 74.2h0.95v3.9h-0.95zM193.3 74.9h0.95v3.2h-0.95zM194.2 75.7h0.95v2.4h-0.95zM195.1 75.9h0.95v2.2h-0.95zM196.0 73.4h0.95v4.7h-0.95zM196.9 73.9h0.95v4.2h-0.95zM197.8 74.6h0.95v3.5h-0.95zM198.7 74.9h0.95v3.2h-0.95zM199.6 74.4h0.95v3.7h-0.95zM200.5 75.7h0.95v2.4h-0.95zM201.4 74.0h0.95v4.1h-0.95zM202.3 74.5h0.95v3.6h-0.95zM203.2 75.4h0.95v2.7h-0.95zM204.1 75.2h0.95v2.9h-0.95zM205.0 74.8h0.95v3.3h-0.95zM205.9 75.5h0.95v2.6h-0.95zM208.2 75.1h0.95v3.0h-0.95zM209.1 75.6h0.95v2.5h-0.95zM210.0 75.3h0.95v2.8h-0.95zM210.9 75.4h0.95v2.7h-0.95zM211.8 75.0h0.95v3.1h-0.95zM212.7 75.2h0.95v2.9h-0.95zM213.6 74.4h0.95v3.7h-0.95zM214.5 75.4h0.95v2.7h-0.95zM215.4 75.4h0.95v2.7h-0.95zM216.3 75.8h0.95v2.3h-0.95zM217.2 75.3h0.95v2.8h-0.95zM218.1 75.0h0.95v3.1h-0.95zM219.0 75.7h0.95v2.4h-0.95zM219.9 75.3h0.95v2.8h-0.95zM220.8 74.9h0.95v3.2h-0.95zM221.7 75.4h0.95v2.7h-0.95zM222.6 75.6h0.95v2.5h-0.95zM223.5 74.8h0.95v3.3h-0.95zM224.4 75.3h0.95v2.8h-0.95zM225.3 75.1h0.95v3.0h-0.95zM226.2 74.7h0.95v3.4h-0.95zM227.1 74.7h0.95v3.4h-0.95zM228.0 75.5h0.95v2.6h-0.95zM228.9 75.6h0.95v2.5h-0.95zM229.8 75.2h0.95v2.9h-0.95zM230.7 75.4h0.95v2.7h-0.95zM231.6 75.9h0.95v2.2h-0.95zM232.5 74.7h0.95v3.4h-0.95zM233.4 75.3h0.95v2.8h-0.95zM234.3 74.9h0.95v3.2h-0.95zM235.2 75.9h0.95v2.2h-0.95zM236.1 74.7h0.95v3.4h-0.95zM237.0 75.6h0.95v2.5h-0.95zM237.9 75.4h0.95v2.7h-0.95zM238.8 75.9h0.95v2.2h-0.95zM239.7 75.4h0.95v2.7h-0.95zM240.6 75.4h0.95v2.7h-0.95zM241.5 75.4h0.95v2.7h-0.95zM242.4 75.1h0.95v3.0h-0.95zM243.3 75.3h0.95v2.8h-0.95zM244.2 74.8h0.95v3.3h-0.95zM245.1 75.5h0.95v2.6h-0.95zM246.0 75.8h0.95v2.3h-0.95zM246.9 75.3h0.95v2.8h-0.95zM247.8 75.0h0.95v3.1h-0.95zM248.7 74.7h0.95v3.4h-0.95zM249.6 74.9h0.95v3.2h-0.95zM250.5 75.9h0.95v2.2h-0.95zM251.4 75.1h0.95v3.0h-0.95zM252.3 74.6h0.95v3.5h-0.95zM253.2 75.3h0.95v2.8h-0.95zM254.1 75.6h0.95v2.5h-0.95zM255.0 75.1h0.95v3.0h-0.95zM255.9 75.6h0.95v2.5h-0.95zM256.8 75.0h0.95v3.1h-0.95zM257.7 75.3h0.95v2.8h-0.95zM258.6 74.6h0.95v3.5h-0.95zM259.5 75.1h0.95v3.0h-0.95zM260.4 75.7h0.95v2.4h-0.95zM261.3 75.0h0.95v3.1h-0.95zM262.2 74.8h0.95v3.3h-0.95zM263.1 75.6h0.95v2.5h-0.95zM264.0 75.5h0.95v2.6h-0.95zM264.9 75.9h0.95v2.2h-0.95zM265.8 74.8h0.95v3.3h-0.95zM266.7 75.6h0.95v2.5h-0.95zM267.6 75.9h0.95v2.2h-0.95zM268.5 75.9h0.95v2.2h-0.95zM269.4 75.4h0.95v2.7h-0.95zM270.3 74.9h0.95v3.2h-0.95zM271.2 75.3h0.95v2.8h-0.95zM272.1 75.1h0.95v3.0h-0.95zM273.0 75.9h0.95v2.2h-0.95zM273.9 75.9h0.95v2.2h-0.95zM274.8 74.9h0.95v3.2h-0.95zM275.7 75.1h0.95v3.0h-0.95zM276.6 75.3h0.95v2.8h-0.95zM277.5 74.7h0.95v3.4h-0.95zM278.4 75.8h0.95v2.3h-0.95zM279.3 75.5h0.95v2.6h-0.95zM280.2 74.8h0.95v3.3h-0.95zM281.1 74.4h0.95v3.7h-0.95zM282.0 75.3h0.95v2.8h-0.95zM282.9 74.5h0.95v3.6h-0.95zM283.8 75.6h0.95v2.5h-0.95zM284.7 75.1h0.95v3.0h-0.95zM285.6 75.4h0.95v2.7h-0.95zM286.5 75.9h0.95v2.2h-0.95zM287.4 75.2h0.95v2.9h-0.95zM288.3 74.8h0.95v3.3h-0.95zM289.2 75.4h0.95v2.7h-0.95zM290.1 75.3h0.95v2.8h-0.95zM291.0 74.6h0.95v3.5h-0.95zM291.9 75.9h0.95v2.2h-0.95zM292.8 75.9h0.95v2.2h-0.95zM293.7 75.6h0.95v2.5h-0.95zM294.6 75.9h0.95v2.2h-0.95zM295.5 74.6h0.95v3.5h-0.95zM296.4 75.1h0.95v3.0h-0.95zM297.3 75.7h0.95v2.4h-0.95zM298.2 75.6h0.95v2.5h-0.95zM299.1 73.9h0.95v4.2h-0.95zM300.0 75.6h0.95v2.5h-0.95zM300.9 75.7h0.95v2.4h-0.95zM301.8 75.1h0.95v3.0h-0.95zM302.7 75.0h0.95v3.1h-0.95zM303.6 75.2h0.95v2.9h-0.95zM304.5 75.8h0.95v2.3h-0.95zM305.4 75.9h0.95v2.2h-0.95zM306.3 75.0h0.95v3.1h-0.95zM307.2 75.3h0.95v2.8h-0.95zM308.1 75.9h0.95v2.2h-0.95zM309.0 74.7h0.95v3.4h-0.95zM309.9 74.9h0.95v3.2h-0.95zM310.8 75.4h0.95v2.7h-0.95zM311.7 75.4h0.95v2.7h-0.95zM312.6 75.2h0.95v2.9h-0.95zM313.5 75.6h0.95v2.5h-0.95zM314.4 75.9h0.95v2.2h-0.95zM315.3 75.1h0.95v3.0h-0.95zM316.2 75.9h0.95v2.2h-0.95zM317.1 75.1h0.95v3.0h-0.95zM318.0 75.9h0.95v2.2h-0.95zM318.9 75.3h0.95v2.8h-0.95zM319.8 75.4h0.95v2.7h-0.95zM320.7 74.4h0.95v3.7h-0.95zM321.6 75.8h0.95v2.3h-0.95zM322.5 75.9h0.95v2.2h-0.95zM323.4 75.6h0.95v2.5h-0.95zM324.3 75.9h0.95v2.2h-0.95zM325.2 75.6h0.95v2.5h-0.95zM326.1 75.1h0.95v3.0h-0.95zM327.0 74.9h0.95v3.2h-0.95zM327.9 74.5h0.95v3.6h-0.95zM328.8 75.7h0.95v2.4h-0.95zM329.7 74.0h0.95v4.1h-0.95zM330.6 74.3h0.95v3.8h-0.95zM331.5 75.4h0.95v2.7h-0.95zM332.4 75.9h0.95v2.2h-0.95zM333.3 75.3h0.95v2.8h-0.95zM334.2 75.3h0.95v2.8h-0.95zM335.1 75.9h0.95v2.2h-0.95zM335.5 74.7h0.95v3.4h-0.95zM336.4 75.4h0.95v2.7h-0.95zM337.3 75.0h0.95v3.1h-0.95zM338.2 73.8h0.95v4.3h-0.95zM339.1 73.8h0.95v4.3h-0.95zM340.0 74.9h0.95v3.2h-0.95zM340.9 74.6h0.95v3.5h-0.95zM341.8 75.9h0.95v2.2h-0.95zM342.7 73.9h0.95v4.2h-0.95zM343.6 73.4h0.95v4.7h-0.95zM344.5 74.3h0.95v3.8h-0.95zM345.4 74.6h0.95v3.5h-0.95zM346.3 75.6h0.95v2.5h-0.95zM347.2 72.7h0.95v5.4h-0.95zM348.1 74.9h0.95v3.2h-0.95zM349.0 75.9h0.95v2.2h-0.95zM349.9 73.7h0.95v4.4h-0.95zM350.8 75.1h0.95v3.0h-0.95zM351.7 75.7h0.95v2.4h-0.95zM352.6 74.9h0.95v3.2h-0.95zM353.5 75.0h0.95v3.1h-0.95zM354.4 74.7h0.95v3.4h-0.95zM355.3 74.1h0.95v4.0h-0.95zM356.2 75.6h0.95v2.5h-0.95zM357.1 75.1h0.95v3.0h-0.95zM358.0 74.8h0.95v3.3h-0.95zM358.9 74.4h0.95v3.7h-0.95zM359.8 74.9h0.95v3.2h-0.95zM360.7 74.1h0.95v4.0h-0.95zM361.6 74.7h0.95v3.4h-0.95zM362.5 74.4h0.95v3.7h-0.95zM363.4 75.6h0.95v2.5h-0.95zM364.3 73.9h0.95v4.2h-0.95zM365.2 74.1h0.95v4.0h-0.95zM366.1 74.5h0.95v3.6h-0.95zM367.0 75.1h0.95v3.0h-0.95zM367.9 75.4h0.95v2.7h-0.95zM368.8 75.7h0.95v2.4h-0.95zM369.7 75.0h0.95v3.1h-0.95zM370.6 74.4h0.95v3.7h-0.95zM371.5 75.9h0.95v2.2h-0.95zM372.4 74.5h0.95v3.6h-0.95zM373.3 75.5h0.95v2.6h-0.95zM374.2 75.9h0.95v2.2h-0.95zM375.1 74.8h0.95v3.3h-0.95zM376.0 75.4h0.95v2.7h-0.95zM376.9 74.0h0.95v4.1h-0.95zM377.8 74.4h0.95v3.7h-0.95zM378.7 75.5h0.95v2.6h-0.95zM379.6 74.5h0.95v3.6h-0.95zM380.5 75.2h0.95v2.9h-0.95zM381.4 72.8h0.95v5.3h-0.95zM381.5 75.8h0.95v2.3h-0.95zM382.4 75.1h0.95v3.0h-0.95zM383.3 74.9h0.95v3.2h-0.95zM384.2 75.4h0.95v2.7h-0.95zM385.1 74.6h0.95v3.5h-0.95zM386.0 75.9h0.95v2.2h-0.95zM386.9 75.2h0.95v2.9h-0.95zM387.8 74.6h0.95v3.5h-0.95zM388.7 75.8h0.95v2.3h-0.95zM389.6 74.5h0.95v3.6h-0.95zM390.5 75.5h0.95v2.6h-0.95zM391.4 75.4h0.95v2.7h-0.95zM392.3 75.9h0.95v2.2h-0.95zM393.2 74.6h0.95v3.5h-0.95zM394.1 75.3h0.95v2.8h-0.95zM395.0 75.9h0.95v2.2h-0.95zM395.9 75.2h0.95v2.9h-0.95zM396.8 74.7h0.95v3.4h-0.95zM397.7 75.7h0.95v2.4h-0.95zM398.6 75.6h0.95v2.5h-0.95zM399.5 75.2h0.95v2.9h-0.95zM400.4 74.5h0.95v3.6h-0.95zM401.3 75.2h0.95v2.9h-0.95zM402.2 74.8h0.95v3.3h-0.95zM403.1 74.3h0.95v3.8h-0.95zM404.0 75.2h0.95v2.9h-0.95zM404.9 75.0h0.95v3.1h-0.95zM407.6 75.1h0.95v3.0h-0.95zM408.5 75.6h0.95v2.5h-0.95zM409.4 75.8h0.95v2.3h-0.95zM410.3 74.9h0.95v3.2h-0.95zM411.2 74.8h0.95v3.3h-0.95zM412.1 74.9h0.95v3.2h-0.95zM413.0 75.7h0.95v2.4h-0.95zM413.9 75.9h0.95v2.2h-0.95zM414.8 75.8h0.95v2.3h-0.95zM415.7 75.9h0.95v2.2h-0.95zM416.6 75.5h0.95v2.6h-0.95zM417.5 73.0h0.95v5.1h-0.95zM418.4 75.9h0.95v2.2h-0.95zM419.3 75.0h0.95v3.1h-0.95zM420.2 74.1h0.95v4.0h-0.95zM421.1 75.9h0.95v2.2h-0.95zM422.0 75.8h0.95v2.3h-0.95zM422.9 74.9h0.95v3.2h-0.95zM423.8 75.9h0.95v2.2h-0.95zM424.7 75.0h0.95v3.1h-0.95zM425.6 75.8h0.95v2.3h-0.95zM426.5 75.9h0.95v2.2h-0.95zM427.4 74.1h0.95v4.0h-0.95zM428.3 75.4h0.95v2.7h-0.95zM429.2 75.9h0.95v2.2h-0.95zM430.1 75.4h0.95v2.7h-0.95zM431.0 75.7h0.95v2.4h-0.95zM431.9 75.7h0.95v2.4h-0.95zM432.8 74.3h0.95v3.8h-0.95zM433.7 75.5h0.95v2.6h-0.95zM434.6 74.8h0.95v3.3h-0.95zM435.5 75.0h0.95v3.1h-0.95zM436.4 75.1h0.95v3.0h-0.95zM437.3 75.9h0.95v2.2h-0.95zM438.2 75.9h0.95v2.2h-0.95zM439.1 75.4h0.95v2.7h-0.95zM440.0 74.5h0.95v3.6h-0.95zM440.9 75.9h0.95v2.2h-0.95zM441.8 75.9h0.95v2.2h-0.95zM442.7 75.0h0.95v3.1h-0.95zM443.6 74.9h0.95v3.2h-0.95zM444.5 75.3h0.95v2.8h-0.95zM445.4 75.2h0.95v2.9h-0.95zM446.3 75.8h0.95v2.3h-0.95zM447.2 74.8h0.95v3.3h-0.95zM448.1 75.9h0.95v2.2h-0.95zM449.0 74.5h0.95v3.6h-0.95zM449.9 75.7h0.95v2.4h-0.95zM450.8 73.4h0.95v4.7h-0.95zM451.7 74.9h0.95v3.2h-0.95zM452.6 74.5h0.95v3.6h-0.95zM453.5 74.8h0.95v3.3h-0.95zM454.4 75.1h0.95v3.0h-0.95zM455.3 74.3h0.95v3.8h-0.95zM456.2 74.7h0.95v3.4h-0.95zM457.1 74.3h0.95v3.8h-0.95zM458.0 75.3h0.95v2.8h-0.95zM458.9 75.5h0.95v2.6h-0.95zM459.8 74.3h0.95v3.8h-0.95zM460.7 75.0h0.95v3.1h-0.95zM461.6 74.0h0.95v4.1h-0.95zM462.5 74.8h0.95v3.3h-0.95zM463.4 75.5h0.95v2.6h-0.95zM464.3 74.7h0.95v3.4h-0.95zM465.2 74.8h0.95v3.3h-0.95zM466.1 75.0h0.95v3.1h-0.95zM467.0 75.2h0.95v2.9h-0.95zM467.9 75.9h0.95v2.2h-0.95zM468.8 74.9h0.95v3.2h-0.95zM469.7 75.9h0.95v2.2h-0.95zM470.6 75.4h0.95v2.7h-0.95zM471.5 74.0h0.95v4.1h-0.95zM472.4 75.4h0.95v2.7h-0.95zM473.3 74.5h0.95v3.6h-0.95zM474.2 75.5h0.95v2.6h-0.95zM475.1 75.3h0.95v2.8h-0.95zM476.0 75.3h0.95v2.8h-0.95zM476.9 74.7h0.95v3.4h-0.95zM477.8 74.6h0.95v3.5h-0.95zM478.7 73.4h0.95v4.7h-0.95zM479.6 74.7h0.95v3.4h-0.95zM480.5 74.5h0.95v3.6h-0.95zM481.4 74.6h0.95v3.5h-0.95zM482.3 74.3h0.95v3.8h-0.95zM483.2 75.3h0.95v2.8h-0.95zM484.1 74.3h0.95v3.8h-0.95zM485.0 75.9h0.95v2.2h-0.95zM485.9 74.7h0.95v3.4h-0.95zM486.8 74.6h0.95v3.5h-0.95zM487.7 75.3h0.95v2.8h-0.95zM488.6 74.4h0.95v3.7h-0.95zM489.5 75.0h0.95v3.1h-0.95zM490.4 75.2h0.95v2.9h-0.95zM491.3 75.1h0.95v3.0h-0.95zM492.2 73.6h0.95v4.5h-0.95zM493.1 75.3h0.95v2.8h-0.95zM494.0 75.7h0.95v2.4h-0.95zM494.9 74.7h0.95v3.4h-0.95zM495.8 75.5h0.95v2.6h-0.95zM496.7 75.6h0.95v2.5h-0.95zM497.6 75.9h0.95v2.2h-0.95zM498.5 74.9h0.95v3.2h-0.95zM499.4 75.7h0.95v2.4h-0.95zM500.3 74.8h0.95v3.3h-0.95zM501.2 74.3h0.95v3.8h-0.95zM502.1 75.9h0.95v2.2h-0.95zM503.0 75.9h0.95v2.2h-0.95zM503.9 75.2h0.95v2.9h-0.95zM504.8 75.9h0.95v2.2h-0.95zM505.7 75.0h0.95v3.1h-0.95zM506.6 75.3h0.95v2.8h-0.95zM507.5 74.4h0.95v3.7h-0.95zM508.4 75.9h0.95v2.2h-0.95zM509.3 75.5h0.95v2.6h-0.95zM510.2 75.5h0.95v2.6h-0.95zM511.1 75.7h0.95v2.4h-0.95zM512.0 75.9h0.95v2.2h-0.95zM512.9 75.4h0.95v2.7h-0.95zM513.8 75.9h0.95v2.2h-0.95zM514.7 75.9h0.95v2.2h-0.95zM515.6 75.1h0.95v3.0h-0.95zM516.5 75.5h0.95v2.6h-0.95zM517.4 74.3h0.95v3.8h-0.95zM518.3 75.4h0.95v2.7h-0.95zM519.2 74.7h0.95v3.4h-0.95zM520.1 75.9h0.95v2.2h-0.95zM521.0 75.8h0.95v2.3h-0.95zM521.9 74.7h0.95v3.4h-0.95zM522.8 75.9h0.95v2.2h-0.95zM523.7 75.4h0.95v2.7h-0.95zM524.6 75.1h0.95v3.0h-0.95zM525.5 75.9h0.95v2.2h-0.95zM526.4 74.4h0.95v3.7h-0.95zM527.3 74.8h0.95v3.3h-0.95zM528.2 75.9h0.95v2.2h-0.95zM529.1 75.6h0.95v2.5h-0.95zM530.0 75.7h0.95v2.4h-0.95zM530.9 74.8h0.95v3.3h-0.95zM531.8 75.8h0.95v2.3h-0.95zM532.7 74.6h0.95v3.5h-0.95zM533.6 75.3h0.95v2.8h-0.95zM534.5 75.0h0.95v3.1h-0.95zM535.4 75.4h0.95v2.7h-0.95zM536.3 74.0h0.95v4.1h-0.95zM537.2 75.9h0.95v2.2h-0.95zM538.1 75.1h0.95v3.0h-0.95zM539.0 75.2h0.95v2.9h-0.95zM539.9 74.2h0.95v3.9h-0.95zM540.8 74.6h0.95v3.5h-0.95zM541.7 75.3h0.95v2.8h-0.95zM542.6 74.9h0.95v3.2h-0.95zM543.5 74.6h0.95v3.5h-0.95zM544.4 74.5h0.95v3.6h-0.95zM545.3 75.8h0.95v2.3h-0.95zM546.2 74.8h0.95v3.3h-0.95zM547.1 75.6h0.95v2.5h-0.95zM548.0 75.6h0.95v2.5h-0.95zM548.9 75.7h0.95v2.4h-0.95zM549.8 75.2h0.95v2.9h-0.95zM550.7 74.0h0.95v4.1h-0.95zM551.6 74.7h0.95v3.4h-0.95zM552.5 75.4h0.95v2.7h-0.95zM553.4 73.8h0.95v4.3h-0.95zM554.3 74.2h0.95v3.9h-0.95zM555.2 75.0h0.95v3.1h-0.95zM556.1 75.3h0.95v2.8h-0.95zM557.0 75.0h0.95v3.1h-0.95zM557.9 74.8h0.95v3.3h-0.95zM558.8 75.9h0.95v2.2h-0.95zM559.7 74.8h0.95v3.3h-0.95zM560.6 75.9h0.95v2.2h-0.95zM561.5 75.4h0.95v2.7h-0.95zM562.4 74.6h0.95v3.5h-0.95zM563.3 75.7h0.95v2.4h-0.95zM564.2 75.9h0.95v2.2h-0.95zM565.1 75.2h0.95v2.9h-0.95zM566.0 75.1h0.95v3.0h-0.95zM566.9 75.9h0.95v2.2h-0.95zM567.8 75.3h0.95v2.8h-0.95zM568.7 75.3h0.95v2.8h-0.95zM569.6 74.8h0.95v3.3h-0.95zM570.5 75.9h0.95v2.2h-0.95zM571.4 74.6h0.95v3.5h-0.95zM572.3 75.5h0.95v2.6h-0.95zM573.2 74.8h0.95v3.3h-0.95zM574.1 75.6h0.95v2.5h-0.95zM575.0 74.3h0.95v3.8h-0.95zM575.9 74.8h0.95v3.3h-0.95zM576.8 75.9h0.95v2.2h-0.95zM577.7 75.8h0.95v2.3h-0.95zM578.6 75.2h0.95v2.9h-0.95zM579.5 75.9h0.95v2.2h-0.95zM580.4 74.5h0.95v3.6h-0.95zM581.3 75.9h0.95v2.2h-0.95zM582.2 75.9h0.95v2.2h-0.95zM583.1 74.2h0.95v3.9h-0.95zM584.0 74.5h0.95v3.6h-0.95zM584.9 74.6h0.95v3.5h-0.95zM585.8 75.5h0.95v2.6h-0.95zM586.7 74.8h0.95v3.3h-0.95zM587.6 75.9h0.95v2.2h-0.95zM588.5 75.2h0.95v2.9h-0.95zM589.4 73.9h0.95v4.2h-0.95zM590.3 74.8h0.95v3.3h-0.95zM591.2 75.5h0.95v2.6h-0.95zM592.1 74.1h0.95v4.0h-0.95zM593.0 74.7h0.95v3.4h-0.95zM593.9 75.4h0.95v2.7h-0.95zM594.8 74.5h0.95v3.6h-0.95zM595.7 74.9h0.95v3.2h-0.95zM596.6 75.9h0.95v2.2h-0.95zM597.5 74.5h0.95v3.6h-0.95zM598.4 75.2h0.95v2.9h-0.95zM599.3 74.7h0.95v3.4h-0.95zM600.2 74.6h0.95v3.5h-0.95zM601.1 75.5h0.95v2.6h-0.95zM602.0 75.7h0.95v2.4h-0.95zM602.9 75.6h0.95v2.5h-0.95zM603.8 75.8h0.95v2.3h-0.95zM604.7 75.4h0.95v2.7h-0.95zM605.6 75.0h0.95v3.1h-0.95zM606.5 75.8h0.95v2.3h-0.95zM607.4 74.9h0.95v3.2h-0.95zM608.3 75.0h0.95v3.1h-0.95zM609.2 75.9h0.95v2.2h-0.95zM610.1 75.7h0.95v2.4h-0.95zM611.0 75.9h0.95v2.2h-0.95zM611.9 74.9h0.95v3.2h-0.95zM612.8 75.7h0.95v2.4h-0.95zM613.7 74.7h0.95v3.4h-0.95zM614.6 74.3h0.95v3.8h-0.95zM615.5 75.9h0.95v2.2h-0.95zM616.4 75.5h0.95v2.6h-0.95zM617.3 75.6h0.95v2.5h-0.95zM618.2 74.7h0.95v3.4h-0.95zM619.1 74.7h0.95v3.4h-0.95zM620.0 75.9h0.95v2.2h-0.95zM620.9 75.0h0.95v3.1h-0.95zM621.8 75.3h0.95v2.8h-0.95zM622.7 74.6h0.95v3.5h-0.95zM623.6 75.9h0.95v2.2h-0.95zM624.5 75.4h0.95v2.7h-0.95zM625.4 74.7h0.95v3.4h-0.95zM626.3 73.9h0.95v4.2h-0.95zM627.2 75.7h0.95v2.4h-0.95zM628.1 75.7h0.95v2.4h-0.95zM629.0 74.9h0.95v3.2h-0.95zM656.0 75.0h0.95v3.1h-0.95zM656.9 74.5h0.95v3.6h-0.95zM657.8 75.2h0.95v2.9h-0.95zM658.7 74.9h0.95v3.2h-0.95zM659.6 74.3h0.95v3.8h-0.95zM660.5 75.9h0.95v2.2h-0.95zM661.4 74.5h0.95v3.6h-0.95zM662.3 75.2h0.95v2.9h-0.95zM663.2 75.2h0.95v2.9h-0.95zM664.1 75.3h0.95v2.8h-0.95zM665.0 74.7h0.95v3.4h-0.95zM665.9 75.0h0.95v3.1h-0.95zM666.8 74.1h0.95v4.0h-0.95zM667.7 75.0h0.95v3.1h-0.95zM668.6 75.3h0.95v2.8h-0.95zM669.5 74.4h0.95v3.7h-0.95zM670.4 74.4h0.95v3.7h-0.95zM671.3 74.3h0.95v3.8h-0.95zM672.2 74.3h0.95v3.8h-0.95zM673.1 75.5h0.95v2.6h-0.95zM674.0 74.2h0.95v3.9h-0.95zM674.9 75.1h0.95v3.0h-0.95zM675.8 74.7h0.95v3.4h-0.95zM676.7 75.4h0.95v2.7h-0.95zM677.6 75.9h0.95v2.2h-0.95zM678.5 74.4h0.95v3.7h-0.95zM679.4 74.7h0.95v3.4h-0.95zM680.3 75.1h0.95v3.0h-0.95zM681.2 75.1h0.95v3.0h-0.95zM682.1 73.8h0.95v4.3h-0.95zM683.0 74.0h0.95v4.1h-0.95zM683.9 75.7h0.95v2.4h-0.95zM684.8 74.5h0.95v3.6h-0.95zM685.7 74.7h0.95v3.4h-0.95zM686.6 74.7h0.95v3.4h-0.95zM687.5 74.8h0.95v3.3h-0.95zM688.4 74.7h0.95v3.4h-0.95zM689.3 74.7h0.95v3.4h-0.95zM690.2 73.8h0.95v4.3h-0.95zM691.1 75.4h0.95v2.7h-0.95zM692.0 74.7h0.95v3.4h-0.95zM692.9 74.3h0.95v3.8h-0.95zM693.8 74.7h0.95v3.4h-0.95zM694.7 75.4h0.95v2.7h-0.95zM695.6 74.9h0.95v3.2h-0.95zM696.5 74.8h0.95v3.3h-0.95zM697.4 75.2h0.95v2.9h-0.95z"/>
<path fill="#c4c4c4" d="M161.6 72.0h1v6.1h-1zM174.0 73.5h1v4.6h-1zM175.3 73.0h1v5.1h-1zM178.0 72.0h1v6.1h-1zM185.1 72.0h1v6.1h-1zM189.5 72.5h1v5.6h-1zM191.0 72.0h1v6.1h-1zM196.0 73.0h1v5.1h-1zM201.1 73.0h1v5.1h-1z"/>
<path fill="#cbcbcb" d="M127.4 71.0h1.2v7.1h-1.2zM361.7 72.0h1v6.1h-1zM509.0 72.0h1v6.1h-1zM596.5 74.0h1v4.1h-1zM598.5 73.0h1v5.1h-1zM600.5 73.5h1v4.6h-1zM410.6 147.4h0.95v0.7h-0.95zM412.1 146.6h0.95v1.5h-0.95zM413.6 143.9h0.95v4.2h-0.95zM415.1 144.3h0.95v3.8h-0.95zM416.6 146.9h0.95v1.2h-0.95zM418.1 147.3h0.95v0.8h-0.95zM419.6 146.6h0.95v1.5h-0.95zM421.1 138.7h0.95v9.4h-0.95zM422.7 145.9h0.95v2.2h-0.95zM424.2 145.7h0.95v2.4h-0.95zM425.7 147.2h0.95v0.9h-0.95zM427.2 147.3h0.95v0.8h-0.95zM428.7 147.5h0.95v0.6h-0.95zM430.2 147.0h0.95v1.1h-0.95zM431.7 146.6h0.95v1.5h-0.95zM433.2 147.4h0.95v0.7h-0.95zM434.7 146.3h0.95v1.8h-0.95zM436.2 147.7h0.95v0.4h-0.95zM437.7 146.4h0.95v1.7h-0.95zM439.2 145.8h0.95v2.3h-0.95zM440.7 138.0h0.95v10.1h-0.95zM442.2 147.7h0.95v0.4h-0.95zM443.7 146.1h0.95v2.0h-0.95zM445.2 146.9h0.95v1.2h-0.95zM446.7 145.5h0.95v2.6h-0.95zM448.2 146.3h0.95v1.8h-0.95zM449.7 146.3h0.95v1.8h-0.95zM451.2 147.3h0.95v0.8h-0.95zM452.7 139.2h0.95v8.9h-0.95zM454.2 146.5h0.95v1.6h-0.95zM455.7 139.1h0.95v9.0h-0.95zM457.2 145.6h0.95v2.5h-0.95zM458.7 147.7h0.95v0.4h-0.95zM460.2 146.7h0.95v1.4h-0.95zM461.7 147.2h0.95v0.9h-0.95zM463.2 147.3h0.95v0.8h-0.95zM464.7 142.7h0.95v5.4h-0.95zM466.2 147.1h0.95v1.0h-0.95zM467.7 147.1h0.95v1.0h-0.95zM469.2 147.7h0.95v0.4h-0.95zM470.8 147.7h0.95v0.4h-0.95zM472.3 146.5h0.95v1.6h-0.95zM473.8 147.7h0.95v0.4h-0.95zM475.3 146.4h0.95v1.7h-0.95zM476.8 147.0h0.95v1.1h-0.95zM478.3 138.7h0.95v9.4h-0.95zM479.8 147.7h0.95v0.4h-0.95zM481.3 147.7h0.95v0.4h-0.95zM482.8 147.4h0.95v0.7h-0.95zM484.3 147.3h0.95v0.8h-0.95zM485.8 147.7h0.95v0.4h-0.95zM487.3 145.5h0.95v2.6h-0.95zM488.8 141.7h0.95v6.4h-0.95zM490.3 145.7h0.95v2.4h-0.95zM491.8 140.2h0.95v7.9h-0.95zM493.3 146.5h0.95v1.6h-0.95zM494.8 147.7h0.95v0.4h-0.95zM496.3 147.7h0.95v0.4h-0.95zM497.8 143.8h0.95v4.3h-0.95zM499.3 147.7h0.95v0.4h-0.95zM500.8 147.1h0.95v1.0h-0.95zM502.3 146.2h0.95v1.9h-0.95zM503.8 146.5h0.95v1.6h-0.95zM505.3 146.3h0.95v1.8h-0.95zM506.8 144.8h0.95v3.3h-0.95zM508.3 147.2h0.95v0.9h-0.95zM509.8 147.4h0.95v0.7h-0.95zM511.3 146.9h0.95v1.2h-0.95zM512.8 147.6h0.95v0.5h-0.95zM514.3 143.9h0.95v4.2h-0.95zM515.8 147.2h0.95v0.9h-0.95zM517.4 147.7h0.95v0.4h-0.95zM518.9 147.0h0.95v1.1h-0.95zM520.4 147.1h0.95v1.0h-0.95zM521.9 146.2h0.95v1.9h-0.95zM523.4 146.6h0.95v1.5h-0.95zM524.9 146.9h0.95v1.2h-0.95zM526.4 147.7h0.95v0.4h-0.95zM527.9 140.0h0.95v8.1h-0.95zM529.4 146.4h0.95v1.7h-0.95zM530.9 147.3h0.95v0.8h-0.95zM532.4 146.9h0.95v1.2h-0.95zM533.9 138.8h0.95v9.3h-0.95zM535.4 147.6h0.95v0.5h-0.95zM536.9 146.7h0.95v1.4h-0.95zM538.4 145.2h0.95v2.9h-0.95zM539.9 147.4h0.95v0.7h-0.95zM541.4 146.8h0.95v1.3h-0.95zM542.9 146.1h0.95v2.0h-0.95zM544.4 146.0h0.95v2.1h-0.95zM545.9 147.5h0.95v0.6h-0.95zM547.4 141.9h0.95v6.2h-0.95zM548.9 147.4h0.95v0.7h-0.95zM550.4 146.4h0.95v1.7h-0.95zM551.9 147.7h0.95v0.4h-0.95zM553.4 146.6h0.95v1.5h-0.95zM554.9 147.1h0.95v1.0h-0.95zM556.4 146.8h0.95v1.3h-0.95zM557.9 146.7h0.95v1.4h-0.95zM559.4 147.4h0.95v0.7h-0.95zM560.9 147.2h0.95v0.9h-0.95zM562.4 147.7h0.95v0.4h-0.95zM563.9 143.2h0.95v4.9h-0.95zM565.5 147.2h0.95v0.9h-0.95zM567.0 142.9h0.95v5.2h-0.95zM568.5 146.9h0.95v1.2h-0.95zM570.0 147.5h0.95v0.6h-0.95zM571.5 146.8h0.95v1.3h-0.95zM573.0 147.5h0.95v0.6h-0.95zM574.5 145.1h0.95v3.0h-0.95zM576.0 147.7h0.95v0.4h-0.95zM577.5 147.7h0.95v0.4h-0.95zM579.0 146.2h0.95v1.9h-0.95zM580.5 145.1h0.95v3.0h-0.95zM582.0 145.1h0.95v3.0h-0.95zM583.5 145.6h0.95v2.5h-0.95zM585.0 147.7h0.95v0.4h-0.95zM586.5 147.4h0.95v0.7h-0.95zM588.0 146.4h0.95v1.7h-0.95zM589.5 146.7h0.95v1.4h-0.95zM591.0 144.7h0.95v3.4h-0.95zM592.5 147.7h0.95v0.4h-0.95zM594.0 147.4h0.95v0.7h-0.95zM595.5 147.1h0.95v1.0h-0.95zM597.0 147.7h0.95v0.4h-0.95zM598.5 140.0h0.95v8.1h-0.95zM600.0 146.0h0.95v2.1h-0.95zM601.5 145.0h0.95v3.1h-0.95zM603.0 147.5h0.95v0.6h-0.95zM604.5 147.0h0.95v1.1h-0.95zM606.0 146.1h0.95v2.0h-0.95zM607.5 147.6h0.95v0.5h-0.95zM609.0 147.7h0.95v0.4h-0.95zM610.5 147.0h0.95v1.1h-0.95zM612.1 147.2h0.95v0.9h-0.95zM613.6 147.7h0.95v0.4h-0.95zM615.1 146.7h0.95v1.4h-0.95zM616.6 146.9h0.95v1.2h-0.95zM618.1 146.3h0.95v1.8h-0.95zM619.6 147.4h0.95v0.7h-0.95zM621.1 146.9h0.95v1.2h-0.95zM622.6 145.5h0.95v2.6h-0.95zM624.1 143.6h0.95v4.5h-0.95zM625.6 146.2h0.95v1.9h-0.95zM627.1 147.3h0.95v0.8h-0.95zM628.6 146.6h0.95v1.5h-0.95zM413.1 142.5h1.1v5.6h-1.1zM461.4 143.5h1.1v4.6h-1.1zM480.4 141.0h1.1v7.1h-1.1zM484.4 139.0h1.1v9.1h-1.1zM487.4 138.0h1.1v10.1h-1.1zM489.9 139.0h1.1v9.1h-1.1zM492.4 138.0h1.1v10.1h-1.1zM501.1 139.0h1.1v9.1h-1.1zM509.4 142.0h1.1v6.1h-1.1zM531.5 138.0h1.1v10.1h-1.1zM535.1 138.5h1.1v9.6h-1.1zM547.5 138.0h1.1v10.1h-1.1zM570.5 140.0h1.1v8.1h-1.1zM595.5 137.0h1.1v11.1h-1.1zM597.5 137.5h1.1v10.6h-1.1zM599.5 137.0h1.1v11.1h-1.1zM611.5 138.0h1.1v10.1h-1.1zM621.5 140.0h1.1v8.1h-1.1zM624.5 140.5h1.1v7.6h-1.1zM51.0 167.7h0.95v1.9h-0.95zM52.1 168.0h0.95v1.6h-0.95zM53.2 168.2h0.95v1.4h-0.95zM54.3 167.9h0.95v1.7h-0.95zM55.4 168.0h0.95v1.6h-0.95zM56.5 168.3h0.95v1.3h-0.95zM57.6 168.5h0.95v1.1h-0.95zM58.7 168.0h0.95v1.6h-0.95zM59.8 168.5h0.95v1.1h-0.95zM60.9 168.0h0.95v1.6h-0.95zM62.0 168.4h0.95v1.2h-0.95zM63.2 167.1h0.95v2.5h-0.95zM64.3 167.9h0.95v1.7h-0.95zM65.4 167.6h0.95v2.0h-0.95zM66.5 167.7h0.95v1.9h-0.95zM67.6 167.6h0.95v2.0h-0.95zM68.7 167.6h0.95v2.0h-0.95zM69.8 167.8h0.95v1.8h-0.95zM70.9 167.2h0.95v2.4h-0.95zM72.0 167.5h0.95v2.1h-0.95zM73.1 168.0h0.95v1.6h-0.95zM74.2 168.1h0.95v1.5h-0.95zM75.3 167.4h0.95v2.2h-0.95zM76.4 167.6h0.95v2.0h-0.95zM77.5 167.9h0.95v1.7h-0.95zM78.6 168.5h0.95v1.1h-0.95zM79.7 168.2h0.95v1.4h-0.95zM80.8 168.2h0.95v1.4h-0.95zM81.9 167.5h0.95v2.1h-0.95zM83.0 167.7h0.95v1.9h-0.95zM84.1 167.8h0.95v1.8h-0.95zM85.2 167.6h0.95v2.0h-0.95zM86.3 167.6h0.95v2.0h-0.95zM87.4 167.7h0.95v1.9h-0.95zM88.5 167.7h0.95v1.9h-0.95zM89.6 167.9h0.95v1.7h-0.95zM90.7 167.7h0.95v1.9h-0.95zM91.8 167.5h0.95v2.1h-0.95zM92.9 167.6h0.95v2.0h-0.95zM94.0 167.4h0.95v2.2h-0.95zM95.1 167.5h0.95v2.1h-0.95zM96.2 167.7h0.95v1.9h-0.95zM97.3 168.0h0.95v1.6h-0.95zM98.4 167.2h0.95v2.4h-0.95zM99.5 167.7h0.95v1.9h-0.95zM100.6 167.8h0.95v1.8h-0.95zM101.7 168.1h0.95v1.5h-0.95zM102.8 168.4h0.95v1.2h-0.95zM103.9 168.0h0.95v1.6h-0.95zM105.0 168.2h0.95v1.4h-0.95zM106.1 168.3h0.95v1.3h-0.95zM107.2 167.7h0.95v1.9h-0.95zM108.3 167.0h0.95v2.6h-0.95zM109.4 168.3h0.95v1.3h-0.95zM110.6 167.2h0.95v2.4h-0.95zM111.7 168.0h0.95v1.6h-0.95zM112.8 168.5h0.95v1.1h-0.95zM113.9 167.7h0.95v1.9h-0.95zM115.0 167.6h0.95v2.0h-0.95zM105.5 165.8h0.95v3.8h-0.95zM106.6 167.3h0.95v2.3h-0.95zM107.7 166.8h0.95v2.8h-0.95zM108.8 166.0h0.95v3.6h-0.95zM109.9 167.6h0.95v2.0h-0.95zM111.0 166.8h0.95v2.8h-0.95zM112.1 166.5h0.95v3.1h-0.95zM113.2 166.5h0.95v3.1h-0.95zM114.3 167.0h0.95v2.6h-0.95zM115.4 166.7h0.95v2.9h-0.95zM92.5 165.5h0.9v4.1h-0.9zM97.5 164.0h0.9v5.6h-0.9zM105.3 159.0h0.9v10.6h-0.9zM131.0 158.3h1v11.3h-1zM131.9 158.2h1v11.4h-1zM132.8 158.6h1v11.0h-1zM133.7 158.2h1v11.4h-1zM134.6 159.4h1v10.2h-1zM135.5 160.6h1v9.0h-1zM136.4 158.0h1v11.6h-1zM137.3 158.8h1v10.8h-1zM138.2 159.2h1v10.4h-1zM139.1 158.1h1v11.5h-1zM140.0 161.1h1v8.5h-1zM140.9 158.6h1v11.0h-1zM141.8 159.6h1v10.0h-1zM208.2 169.1h0.95v0.5h-0.95zM209.9 169.1h0.95v0.5h-0.95zM213.2 168.9h0.95v0.7h-0.95zM216.5 169.2h0.95v0.4h-0.95zM218.1 169.1h0.95v0.5h-0.95zM219.8 168.7h0.95v0.9h-0.95zM221.5 168.9h0.95v0.7h-0.95zM223.1 169.2h0.95v0.4h-0.95zM224.8 169.3h0.95v0.3h-0.95zM226.4 168.8h0.95v0.8h-0.95zM228.1 168.8h0.95v0.8h-0.95zM229.7 168.8h0.95v0.8h-0.95zM233.0 169.1h0.95v0.5h-0.95zM234.7 168.8h0.95v0.8h-0.95zM236.3 169.3h0.95v0.3h-0.95zM238.0 168.9h0.95v0.7h-0.95zM239.6 168.9h0.95v0.7h-0.95zM241.3 168.9h0.95v0.7h-0.95zM242.9 168.8h0.95v0.8h-0.95zM244.6 168.6h0.95v1.0h-0.95zM246.3 169.0h0.95v0.6h-0.95zM247.9 169.2h0.95v0.4h-0.95zM249.6 169.2h0.95v0.4h-0.95zM251.2 168.8h0.95v0.8h-0.95zM254.5 169.2h0.95v0.4h-0.95zM256.2 168.9h0.95v0.7h-0.95zM257.8 169.1h0.95v0.5h-0.95zM259.5 169.1h0.95v0.5h-0.95zM261.1 168.9h0.95v0.7h-0.95zM262.8 169.0h0.95v0.6h-0.95zM264.4 168.9h0.95v0.7h-0.95zM266.1 169.0h0.95v0.6h-0.95zM267.8 169.1h0.95v0.5h-0.95zM269.4 169.1h0.95v0.5h-0.95zM271.1 169.2h0.95v0.4h-0.95zM272.7 169.0h0.95v0.6h-0.95zM274.4 168.9h0.95v0.7h-0.95zM276.0 169.2h0.95v0.4h-0.95zM277.7 168.7h0.95v0.9h-0.95zM279.3 169.2h0.95v0.4h-0.95zM281.0 169.1h0.95v0.5h-0.95zM282.6 169.2h0.95v0.4h-0.95zM284.3 169.0h0.95v0.6h-0.95zM285.9 168.8h0.95v0.8h-0.95zM287.6 169.0h0.95v0.6h-0.95zM289.2 169.2h0.95v0.4h-0.95zM290.9 169.2h0.95v0.4h-0.95zM292.6 169.0h0.95v0.6h-0.95zM294.2 169.0h0.95v0.6h-0.95zM295.9 169.2h0.95v0.4h-0.95zM297.5 169.1h0.95v0.5h-0.95zM299.2 169.2h0.95v0.4h-0.95zM300.8 169.3h0.95v0.3h-0.95zM302.5 169.1h0.95v0.5h-0.95zM304.1 169.0h0.95v0.6h-0.95zM305.8 168.9h0.95v0.7h-0.95zM307.4 168.7h0.95v0.9h-0.95zM309.1 169.1h0.95v0.5h-0.95zM310.7 168.9h0.95v0.7h-0.95zM312.4 168.8h0.95v0.8h-0.95zM314.0 169.0h0.95v0.6h-0.95zM315.7 168.8h0.95v0.8h-0.95zM317.4 168.9h0.95v0.7h-0.95zM319.0 169.2h0.95v0.4h-0.95zM320.7 168.7h0.95v0.9h-0.95zM322.3 169.0h0.95v0.6h-0.95zM324.0 168.8h0.95v0.8h-0.95zM325.6 169.2h0.95v0.4h-0.95zM327.3 169.1h0.95v0.5h-0.95zM328.9 169.1h0.95v0.5h-0.95zM330.6 168.9h0.95v0.7h-0.95zM332.2 168.9h0.95v0.7h-0.95zM333.9 168.8h0.95v0.8h-0.95zM335.5 169.2h0.95v0.4h-0.95zM337.2 169.0h0.95v0.6h-0.95zM338.9 168.8h0.95v0.8h-0.95zM340.5 168.7h0.95v0.9h-0.95zM342.2 169.2h0.95v0.4h-0.95zM343.8 168.7h0.95v0.9h-0.95zM347.1 169.3h0.95v0.3h-0.95zM348.8 168.8h0.95v0.8h-0.95zM350.4 169.0h0.95v0.6h-0.95zM352.1 168.6h0.95v1.0h-0.95zM355.4 168.9h0.95v0.7h-0.95zM357.0 169.1h0.95v0.5h-0.95zM358.7 168.9h0.95v0.7h-0.95zM360.3 168.4h0.95v1.2h-0.95zM363.7 169.2h0.95v0.4h-0.95zM365.3 169.0h0.95v0.6h-0.95zM367.0 168.9h0.95v0.7h-0.95zM368.6 168.8h0.95v0.8h-0.95zM370.3 168.9h0.95v0.7h-0.95zM371.9 168.9h0.95v0.7h-0.95zM373.6 168.7h0.95v0.9h-0.95zM375.2 169.0h0.95v0.6h-0.95zM376.9 169.2h0.95v0.4h-0.95zM380.2 169.3h0.95v0.3h-0.95zM381.8 169.2h0.95v0.4h-0.95zM383.5 169.0h0.95v0.6h-0.95zM385.1 168.9h0.95v0.7h-0.95zM388.5 169.0h0.95v0.6h-0.95zM390.1 169.2h0.95v0.4h-0.95zM391.8 169.1h0.95v0.5h-0.95zM393.4 168.5h0.95v1.1h-0.95zM395.1 169.1h0.95v0.5h-0.95zM396.7 169.1h0.95v0.5h-0.95zM398.4 168.8h0.95v0.8h-0.95zM400.0 169.0h0.95v0.6h-0.95zM403.3 168.7h0.95v0.9h-0.95zM405.0 169.0h0.95v0.6h-0.95zM407.6 168.5h0.95v1.1h-0.95zM408.7 167.8h0.95v1.8h-0.95zM409.8 168.6h0.95v1.0h-0.95zM410.9 168.1h0.95v1.5h-0.95zM412.0 168.3h0.95v1.3h-0.95zM413.1 169.1h0.95v0.5h-0.95zM414.2 167.9h0.95v1.7h-0.95zM415.3 168.2h0.95v1.4h-0.95zM416.4 167.8h0.95v1.8h-0.95zM417.5 168.1h0.95v1.5h-0.95zM418.6 168.8h0.95v0.8h-0.95zM419.8 168.9h0.95v0.7h-0.95zM420.9 168.5h0.95v1.1h-0.95zM422.0 168.6h0.95v1.0h-0.95zM423.1 168.4h0.95v1.2h-0.95zM424.2 168.7h0.95v0.9h-0.95zM425.3 168.7h0.95v0.9h-0.95zM426.4 168.3h0.95v1.3h-0.95zM427.5 168.6h0.95v1.0h-0.95zM428.6 168.4h0.95v1.2h-0.95zM429.7 168.7h0.95v0.9h-0.95zM430.8 169.1h0.95v0.5h-0.95zM431.9 168.9h0.95v0.7h-0.95zM433.0 169.0h0.95v0.6h-0.95zM434.1 168.3h0.95v1.3h-0.95zM435.2 168.1h0.95v1.5h-0.95zM436.3 169.1h0.95v0.5h-0.95zM437.4 168.7h0.95v0.9h-0.95zM438.5 168.9h0.95v0.7h-0.95zM439.6 168.5h0.95v1.1h-0.95zM440.7 168.4h0.95v1.2h-0.95zM441.8 168.4h0.95v1.2h-0.95zM442.9 168.8h0.95v0.8h-0.95zM444.0 168.5h0.95v1.1h-0.95zM445.1 168.9h0.95v0.7h-0.95zM446.2 168.9h0.95v0.7h-0.95zM447.3 169.1h0.95v0.5h-0.95zM448.4 169.1h0.95v0.5h-0.95zM449.5 168.7h0.95v0.9h-0.95zM450.6 168.6h0.95v1.0h-0.95zM451.7 169.1h0.95v0.5h-0.95zM452.8 169.1h0.95v0.5h-0.95zM453.9 168.9h0.95v0.7h-0.95zM455.0 169.1h0.95v0.5h-0.95zM456.1 168.8h0.95v0.8h-0.95zM457.2 168.7h0.95v0.9h-0.95zM458.3 168.2h0.95v1.4h-0.95zM459.4 168.4h0.95v1.2h-0.95zM460.5 168.3h0.95v1.3h-0.95zM461.6 168.5h0.95v1.1h-0.95zM462.7 168.6h0.95v1.0h-0.95zM463.8 168.7h0.95v0.9h-0.95zM464.9 167.9h0.95v1.7h-0.95zM466.0 169.1h0.95v0.5h-0.95zM467.2 169.0h0.95v0.6h-0.95zM468.3 168.9h0.95v0.7h-0.95zM469.4 169.1h0.95v0.5h-0.95zM470.5 169.0h0.95v0.6h-0.95zM471.6 168.3h0.95v1.3h-0.95zM472.7 168.8h0.95v0.8h-0.95zM473.8 168.7h0.95v0.9h-0.95zM474.9 168.4h0.95v1.2h-0.95zM476.0 168.6h0.95v1.0h-0.95zM477.1 168.6h0.95v1.0h-0.95zM478.2 168.7h0.95v0.9h-0.95zM479.3 168.8h0.95v0.8h-0.95zM480.4 168.6h0.95v1.0h-0.95zM481.5 168.9h0.95v0.7h-0.95zM482.6 168.5h0.95v1.1h-0.95zM483.7 169.1h0.95v0.5h-0.95zM484.8 167.3h0.95v2.3h-0.95zM485.9 169.0h0.95v0.6h-0.95zM487.0 169.1h0.95v0.5h-0.95zM488.1 167.7h0.95v1.9h-0.95zM489.2 168.6h0.95v1.0h-0.95zM490.3 168.7h0.95v0.9h-0.95zM491.4 168.3h0.95v1.3h-0.95zM492.5 168.1h0.95v1.5h-0.95zM493.6 168.7h0.95v0.9h-0.95zM494.7 168.5h0.95v1.1h-0.95zM495.8 168.5h0.95v1.1h-0.95zM496.9 168.3h0.95v1.3h-0.95zM498.0 168.6h0.95v1.0h-0.95zM499.1 168.4h0.95v1.2h-0.95zM500.2 169.1h0.95v0.5h-0.95zM501.3 168.5h0.95v1.1h-0.95zM502.4 167.1h0.95v2.5h-0.95zM503.5 168.5h0.95v1.1h-0.95zM504.6 168.2h0.95v1.4h-0.95zM505.7 168.3h0.95v1.3h-0.95zM506.8 169.1h0.95v0.5h-0.95zM507.9 168.2h0.95v1.4h-0.95zM509.0 169.1h0.95v0.5h-0.95zM510.1 169.1h0.95v0.5h-0.95zM511.2 168.4h0.95v1.2h-0.95zM512.3 168.5h0.95v1.1h-0.95zM513.4 168.5h0.95v1.1h-0.95zM514.6 166.5h0.95v3.1h-0.95zM515.7 167.9h0.95v1.7h-0.95zM516.8 168.5h0.95v1.1h-0.95zM517.9 168.9h0.95v0.7h-0.95zM519.0 168.7h0.95v0.9h-0.95zM520.1 168.7h0.95v0.9h-0.95zM521.2 168.3h0.95v1.3h-0.95zM522.3 168.5h0.95v1.1h-0.95zM523.4 169.1h0.95v0.5h-0.95zM524.5 168.7h0.95v0.9h-0.95zM525.6 169.0h0.95v0.6h-0.95zM526.7 169.1h0.95v0.5h-0.95zM527.8 168.8h0.95v0.8h-0.95zM528.9 168.9h0.95v0.7h-0.95zM530.0 168.8h0.95v0.8h-0.95zM531.1 168.3h0.95v1.3h-0.95zM532.2 168.4h0.95v1.2h-0.95zM533.3 169.0h0.95v0.6h-0.95zM534.4 168.9h0.95v0.7h-0.95zM535.5 168.3h0.95v1.3h-0.95zM536.6 168.9h0.95v0.7h-0.95zM537.7 169.0h0.95v0.6h-0.95zM538.8 168.9h0.95v0.7h-0.95zM539.9 168.9h0.95v0.7h-0.95zM541.0 168.0h0.95v1.6h-0.95zM542.1 168.4h0.95v1.2h-0.95zM543.2 168.9h0.95v0.7h-0.95zM544.3 168.1h0.95v1.5h-0.95zM545.4 168.0h0.95v1.6h-0.95zM546.5 167.9h0.95v1.7h-0.95zM547.6 168.7h0.95v0.9h-0.95zM548.7 169.0h0.95v0.6h-0.95zM549.8 168.1h0.95v1.5h-0.95zM550.9 168.7h0.95v0.9h-0.95zM552.0 169.1h0.95v0.5h-0.95zM553.1 168.1h0.95v1.5h-0.95zM554.2 168.8h0.95v0.8h-0.95zM555.3 168.4h0.95v1.2h-0.95zM556.4 167.9h0.95v1.7h-0.95zM557.5 165.7h0.95v3.9h-0.95zM558.6 168.1h0.95v1.5h-0.95zM559.7 168.8h0.95v0.8h-0.95zM560.8 168.4h0.95v1.2h-0.95zM562.0 167.8h0.95v1.8h-0.95zM563.1 168.3h0.95v1.3h-0.95zM564.2 168.9h0.95v0.7h-0.95zM565.3 168.6h0.95v1.0h-0.95zM566.4 168.4h0.95v1.2h-0.95zM567.5 168.7h0.95v0.9h-0.95zM568.6 168.1h0.95v1.5h-0.95zM569.7 168.2h0.95v1.4h-0.95zM570.8 168.7h0.95v0.9h-0.95zM571.9 167.3h0.95v2.3h-0.95zM573.0 168.4h0.95v1.2h-0.95zM574.1 168.9h0.95v0.7h-0.95zM575.2 167.6h0.95v2.0h-0.95zM576.3 167.6h0.95v2.0h-0.95zM577.4 169.1h0.95v0.5h-0.95zM578.5 168.7h0.95v0.9h-0.95zM579.6 169.0h0.95v0.6h-0.95zM580.7 168.4h0.95v1.2h-0.95zM581.8 169.0h0.95v0.6h-0.95zM582.9 168.9h0.95v0.7h-0.95zM584.0 169.1h0.95v0.5h-0.95zM585.1 169.1h0.95v0.5h-0.95zM586.2 169.1h0.95v0.5h-0.95zM587.3 168.9h0.95v0.7h-0.95zM588.4 168.8h0.95v0.8h-0.95zM589.5 168.5h0.95v1.1h-0.95zM590.6 168.5h0.95v1.1h-0.95zM591.7 168.6h0.95v1.0h-0.95zM592.8 168.2h0.95v1.4h-0.95zM593.9 168.8h0.95v0.8h-0.95zM595.0 168.0h0.95v1.6h-0.95zM596.1 168.8h0.95v0.8h-0.95zM597.2 168.6h0.95v1.0h-0.95zM598.3 168.8h0.95v0.8h-0.95zM599.4 166.8h0.95v2.8h-0.95zM600.5 169.0h0.95v0.6h-0.95zM601.6 168.1h0.95v1.5h-0.95zM602.7 169.1h0.95v0.5h-0.95zM603.8 168.7h0.95v0.9h-0.95zM604.9 169.1h0.95v0.5h-0.95zM606.0 168.7h0.95v0.9h-0.95zM607.1 169.0h0.95v0.6h-0.95zM608.2 169.1h0.95v0.5h-0.95zM609.4 168.5h0.95v1.1h-0.95zM610.5 168.1h0.95v1.5h-0.95zM611.6 167.4h0.95v2.2h-0.95zM612.7 168.4h0.95v1.2h-0.95zM613.8 168.6h0.95v1.0h-0.95zM614.9 169.1h0.95v0.5h-0.95zM616.0 168.8h0.95v0.8h-0.95zM617.1 168.9h0.95v0.7h-0.95zM618.2 168.4h0.95v1.2h-0.95zM619.3 168.4h0.95v1.2h-0.95zM620.4 169.1h0.95v0.5h-0.95zM621.5 168.3h0.95v1.3h-0.95zM622.6 169.0h0.95v0.6h-0.95zM623.7 169.1h0.95v0.5h-0.95zM624.8 168.5h0.95v1.1h-0.95zM625.9 168.4h0.95v1.2h-0.95zM627.0 168.9h0.95v0.7h-0.95zM628.1 168.0h0.95v1.6h-0.95zM629.2 169.1h0.95v0.5h-0.95zM463.9 165.5h1v4.1h-1zM494.5 166.5h1v3.1h-1zM533.5 162.5h1v7.1h-1zM535.1 163.5h1v6.1h-1zM545.3 165.5h1v4.1h-1zM582.5 164.5h1v5.1h-1zM584.5 165.0h1v4.6h-1zM586.0 164.5h1v5.1h-1zM613.1 165.0h1v4.6h-1zM615.0 165.0h1v4.6h-1zM658.5 164.1h1v5.5h-1zM659.4 164.1h1v5.5h-1zM660.3 164.6h1v5.0h-1zM661.2 163.4h1v6.2h-1zM662.1 164.7h1v4.9h-1zM663.0 164.7h1v4.9h-1zM663.9 165.3h1v4.3h-1zM664.8 164.5h1v5.1h-1zM665.7 164.3h1v5.3h-1zM666.6 164.9h1v4.7h-1zM667.5 165.3h1v4.3h-1zM668.4 163.8h1v5.8h-1zM669.3 165.0h1v4.6h-1zM670.2 163.9h1v5.7h-1zM671.1 164.5h1v5.1h-1zM672.0 164.4h1v5.2h-1zM672.9 164.7h1v4.9h-1zM673.8 165.6h1v4.0h-1zM674.7 164.8h1v4.8h-1zM675.6 164.4h1v5.2h-1zM676.5 164.4h1v5.2h-1zM677.4 165.0h1v4.6h-1zM678.3 163.7h1v5.9h-1zM679.2 164.5h1v5.1h-1zM680.1 164.8h1v4.8h-1zM681.0 165.2h1v4.4h-1zM681.9 165.5h1v4.1h-1zM682.8 165.1h1v4.5h-1zM683.7 164.6h1v5.0h-1zM684.6 164.8h1v4.8h-1zM685.5 164.5h1v5.1h-1zM686.4 163.9h1v5.7h-1zM687.3 164.3h1v5.3h-1zM688.2 165.4h1v4.2h-1zM660.0 163.0h1v6.6h-1zM661.0 162.5h1v7.1h-1zM688.5 167.0h1v2.6h-1zM689.4 167.2h1v2.4h-1zM690.3 167.7h1v1.9h-1zM691.2 167.8h1v1.8h-1zM692.1 168.2h1v1.4h-1zM693.0 167.7h1v1.9h-1zM693.9 167.5h1v2.1h-1zM694.8 167.8h1v1.8h-1zM695.7 167.6h1v2.0h-1zM696.6 167.7h1v1.9h-1zM697.5 167.6h1v2.0h-1zM51.0 190.5h0.95v0.5h-0.95zM52.7 190.4h0.95v0.6h-0.95zM54.3 190.0h0.95v1.0h-0.95zM56.0 190.1h0.95v0.9h-0.95zM57.6 190.4h0.95v0.6h-0.95zM59.3 190.6h0.95v0.4h-0.95zM60.9 190.6h0.95v0.4h-0.95zM62.6 190.5h0.95v0.5h-0.95zM64.3 190.3h0.95v0.7h-0.95zM65.9 190.4h0.95v0.6h-0.95zM67.6 190.6h0.95v0.4h-0.95zM70.9 190.6h0.95v0.4h-0.95zM72.5 190.3h0.95v0.7h-0.95zM74.2 190.5h0.95v0.5h-0.95zM77.5 190.6h0.95v0.4h-0.95zM79.1 190.3h0.95v0.7h-0.95zM80.8 190.3h0.95v0.7h-0.95zM82.4 190.4h0.95v0.6h-0.95zM84.1 190.6h0.95v0.4h-0.95zM85.7 190.3h0.95v0.7h-0.95zM87.4 190.6h0.95v0.4h-0.95zM89.1 190.5h0.95v0.5h-0.95zM90.7 190.7h0.95v0.3h-0.95zM92.4 190.2h0.95v0.8h-0.95zM94.0 190.2h0.95v0.8h-0.95zM95.7 190.4h0.95v0.6h-0.95zM97.3 190.3h0.95v0.7h-0.95zM100.6 190.3h0.95v0.7h-0.95zM103.9 190.5h0.95v0.5h-0.95zM105.6 190.5h0.95v0.5h-0.95zM107.2 190.5h0.95v0.5h-0.95zM108.9 190.2h0.95v0.8h-0.95zM110.6 189.9h0.95v1.1h-0.95zM113.9 190.3h0.95v0.7h-0.95zM115.5 190.2h0.95v0.8h-0.95zM117.2 190.4h0.95v0.6h-0.95zM118.8 190.3h0.95v0.7h-0.95zM120.5 190.7h0.95v0.3h-0.95zM122.1 190.5h0.95v0.5h-0.95zM123.8 190.2h0.95v0.8h-0.95zM125.4 190.2h0.95v0.8h-0.95zM127.1 190.4h0.95v0.6h-0.95zM128.7 190.2h0.95v0.8h-0.95zM130.4 190.2h0.95v0.8h-0.95zM132.0 190.3h0.95v0.7h-0.95zM133.7 190.0h0.95v1.0h-0.95zM135.4 190.3h0.95v0.7h-0.95zM137.0 190.7h0.95v0.3h-0.95zM138.7 190.1h0.95v0.9h-0.95zM140.3 190.7h0.95v0.3h-0.95zM142.0 190.3h0.95v0.7h-0.95zM143.6 190.6h0.95v0.4h-0.95zM145.3 190.5h0.95v0.5h-0.95zM146.9 190.2h0.95v0.8h-0.95zM148.6 190.6h0.95v0.4h-0.95zM150.2 190.5h0.95v0.5h-0.95zM151.9 190.5h0.95v0.5h-0.95zM153.5 190.7h0.95v0.3h-0.95zM155.2 190.4h0.95v0.6h-0.95zM158.5 190.5h0.95v0.5h-0.95zM161.8 190.4h0.95v0.6h-0.95zM163.5 190.5h0.95v0.5h-0.95zM165.1 190.2h0.95v0.8h-0.95zM166.8 190.4h0.95v0.6h-0.95zM168.4 190.5h0.95v0.5h-0.95zM170.1 190.4h0.95v0.6h-0.95zM171.7 190.1h0.95v0.9h-0.95zM173.4 190.5h0.95v0.5h-0.95zM175.0 190.4h0.95v0.6h-0.95zM176.7 190.4h0.95v0.6h-0.95zM178.3 190.4h0.95v0.6h-0.95zM180.0 190.5h0.95v0.5h-0.95zM181.7 190.6h0.95v0.4h-0.95zM183.3 190.4h0.95v0.6h-0.95zM185.0 190.6h0.95v0.4h-0.95zM186.6 190.7h0.95v0.3h-0.95zM188.3 190.5h0.95v0.5h-0.95zM189.9 190.2h0.95v0.8h-0.95zM191.6 190.3h0.95v0.7h-0.95zM193.2 190.3h0.95v0.7h-0.95zM194.9 190.3h0.95v0.7h-0.95zM196.5 190.5h0.95v0.5h-0.95zM198.2 190.4h0.95v0.6h-0.95zM199.8 190.5h0.95v0.5h-0.95zM201.5 190.5h0.95v0.5h-0.95zM203.1 190.5h0.95v0.5h-0.95zM204.8 190.2h0.95v0.8h-0.95zM206.5 190.6h0.95v0.4h-0.95zM208.1 190.5h0.95v0.5h-0.95zM209.8 190.2h0.95v0.8h-0.95zM211.4 190.4h0.95v0.6h-0.95zM213.1 190.4h0.95v0.6h-0.95zM214.7 190.4h0.95v0.6h-0.95zM216.4 190.6h0.95v0.4h-0.95zM218.0 190.1h0.95v0.9h-0.95zM219.7 190.2h0.95v0.8h-0.95zM221.3 190.5h0.95v0.5h-0.95zM223.0 190.6h0.95v0.4h-0.95zM224.6 190.3h0.95v0.7h-0.95zM226.3 190.5h0.95v0.5h-0.95zM227.9 190.2h0.95v0.8h-0.95zM229.6 190.3h0.95v0.7h-0.95zM231.3 190.5h0.95v0.5h-0.95zM232.9 190.4h0.95v0.6h-0.95zM234.6 190.1h0.95v0.9h-0.95zM236.2 190.6h0.95v0.4h-0.95zM237.9 190.4h0.95v0.6h-0.95zM239.5 190.2h0.95v0.8h-0.95zM241.2 190.4h0.95v0.6h-0.95zM242.8 190.4h0.95v0.6h-0.95zM244.5 190.3h0.95v0.7h-0.95zM246.1 190.5h0.95v0.5h-0.95zM247.8 190.2h0.95v0.8h-0.95zM249.4 190.5h0.95v0.5h-0.95zM251.1 190.6h0.95v0.4h-0.95zM252.8 189.9h0.95v1.1h-0.95zM254.4 190.5h0.95v0.5h-0.95zM256.1 190.3h0.95v0.7h-0.95zM257.7 190.3h0.95v0.7h-0.95zM259.4 190.4h0.95v0.6h-0.95zM262.7 190.1h0.95v0.9h-0.95zM264.3 190.1h0.95v0.9h-0.95zM266.0 190.3h0.95v0.7h-0.95zM267.6 190.4h0.95v0.6h-0.95zM269.3 190.0h0.95v1.0h-0.95zM270.9 190.7h0.95v0.3h-0.95zM272.6 190.3h0.95v0.7h-0.95zM274.2 190.2h0.95v0.8h-0.95zM275.9 190.4h0.95v0.6h-0.95zM277.6 190.6h0.95v0.4h-0.95zM279.2 190.6h0.95v0.4h-0.95zM280.9 190.6h0.95v0.4h-0.95zM282.5 190.6h0.95v0.4h-0.95zM284.2 190.4h0.95v0.6h-0.95zM287.5 190.2h0.95v0.8h-0.95zM289.1 190.6h0.95v0.4h-0.95zM290.8 190.3h0.95v0.7h-0.95zM292.4 190.3h0.95v0.7h-0.95zM295.7 190.5h0.95v0.5h-0.95zM297.4 190.6h0.95v0.4h-0.95zM299.1 190.3h0.95v0.7h-0.95zM300.7 190.2h0.95v0.8h-0.95zM304.0 190.4h0.95v0.6h-0.95zM305.7 190.5h0.95v0.5h-0.95zM307.3 190.0h0.95v1.0h-0.95zM310.6 190.3h0.95v0.7h-0.95zM312.3 190.3h0.95v0.7h-0.95zM313.9 190.5h0.95v0.5h-0.95zM315.6 190.5h0.95v0.5h-0.95zM317.2 190.1h0.95v0.9h-0.95zM318.9 190.5h0.95v0.5h-0.95zM320.5 190.3h0.95v0.7h-0.95zM322.2 190.6h0.95v0.4h-0.95zM323.9 190.1h0.95v0.9h-0.95zM325.5 190.7h0.95v0.3h-0.95zM327.2 190.7h0.95v0.3h-0.95zM328.8 190.3h0.95v0.7h-0.95zM330.5 190.4h0.95v0.6h-0.95zM332.1 190.4h0.95v0.6h-0.95zM333.8 190.4h0.95v0.6h-0.95zM335.4 190.1h0.95v0.9h-0.95zM337.1 190.5h0.95v0.5h-0.95zM340.4 190.6h0.95v0.4h-0.95zM342.0 190.5h0.95v0.5h-0.95zM343.7 190.1h0.95v0.9h-0.95zM345.3 190.6h0.95v0.4h-0.95zM347.0 190.4h0.95v0.6h-0.95zM348.7 190.4h0.95v0.6h-0.95zM350.3 190.3h0.95v0.7h-0.95zM352.0 190.3h0.95v0.7h-0.95zM353.6 190.4h0.95v0.6h-0.95zM355.3 190.6h0.95v0.4h-0.95zM356.9 190.6h0.95v0.4h-0.95zM358.6 190.6h0.95v0.4h-0.95zM360.2 190.2h0.95v0.8h-0.95zM365.2 190.7h0.95v0.3h-0.95zM366.8 190.2h0.95v0.8h-0.95zM368.5 190.4h0.95v0.6h-0.95zM370.2 190.3h0.95v0.7h-0.95zM371.8 190.2h0.95v0.8h-0.95zM373.5 190.5h0.95v0.5h-0.95zM375.1 190.5h0.95v0.5h-0.95zM378.4 190.2h0.95v0.8h-0.95zM380.1 190.6h0.95v0.4h-0.95zM381.7 190.2h0.95v0.8h-0.95zM385.0 190.1h0.95v0.9h-0.95zM386.7 190.3h0.95v0.7h-0.95zM388.3 190.5h0.95v0.5h-0.95zM390.0 190.4h0.95v0.6h-0.95zM393.3 190.2h0.95v0.8h-0.95zM395.0 190.7h0.95v0.3h-0.95zM396.6 190.4h0.95v0.6h-0.95zM398.3 189.9h0.95v1.1h-0.95zM399.9 190.5h0.95v0.5h-0.95zM401.6 190.4h0.95v0.6h-0.95zM403.2 190.5h0.95v0.5h-0.95zM404.9 190.2h0.95v0.8h-0.95zM406.5 190.2h0.95v0.8h-0.95zM408.2 190.1h0.95v0.9h-0.95zM409.8 190.5h0.95v0.5h-0.95zM411.5 190.0h0.95v1.0h-0.95zM413.1 190.7h0.95v0.3h-0.95zM414.8 190.4h0.95v0.6h-0.95zM416.4 190.3h0.95v0.7h-0.95zM418.1 190.5h0.95v0.5h-0.95zM419.8 190.3h0.95v0.7h-0.95zM421.4 190.4h0.95v0.6h-0.95zM423.1 190.4h0.95v0.6h-0.95zM424.7 190.7h0.95v0.3h-0.95zM426.4 190.1h0.95v0.9h-0.95zM428.0 190.2h0.95v0.8h-0.95zM429.7 190.3h0.95v0.7h-0.95zM431.3 190.3h0.95v0.7h-0.95zM433.0 190.3h0.95v0.7h-0.95zM434.6 190.6h0.95v0.4h-0.95zM436.3 190.0h0.95v1.0h-0.95zM437.9 190.3h0.95v0.7h-0.95zM439.6 190.2h0.95v0.8h-0.95zM441.3 190.0h0.95v1.0h-0.95zM442.9 190.3h0.95v0.7h-0.95zM444.6 190.5h0.95v0.5h-0.95zM446.2 190.3h0.95v0.7h-0.95zM447.9 190.2h0.95v0.8h-0.95zM449.5 190.4h0.95v0.6h-0.95zM451.2 190.3h0.95v0.7h-0.95zM452.8 190.6h0.95v0.4h-0.95zM456.1 190.4h0.95v0.6h-0.95zM459.4 190.2h0.95v0.8h-0.95zM461.1 190.0h0.95v1.0h-0.95zM462.7 190.3h0.95v0.7h-0.95zM464.4 190.6h0.95v0.4h-0.95zM466.1 190.2h0.95v0.8h-0.95zM467.7 190.5h0.95v0.5h-0.95zM469.4 190.3h0.95v0.7h-0.95zM471.0 190.5h0.95v0.5h-0.95zM472.7 190.1h0.95v0.9h-0.95zM474.3 190.3h0.95v0.7h-0.95zM476.0 190.5h0.95v0.5h-0.95zM477.6 190.4h0.95v0.6h-0.95zM479.3 190.4h0.95v0.6h-0.95zM480.9 190.1h0.95v0.9h-0.95zM482.6 190.3h0.95v0.7h-0.95zM484.2 190.2h0.95v0.8h-0.95zM485.9 190.2h0.95v0.8h-0.95zM487.5 190.3h0.95v0.7h-0.95zM489.2 190.3h0.95v0.7h-0.95zM490.9 190.1h0.95v0.9h-0.95zM492.5 190.3h0.95v0.7h-0.95zM494.2 190.1h0.95v0.9h-0.95zM495.8 190.3h0.95v0.7h-0.95zM497.5 190.4h0.95v0.6h-0.95zM499.1 190.6h0.95v0.4h-0.95zM500.8 190.4h0.95v0.6h-0.95zM502.4 190.4h0.95v0.6h-0.95zM504.1 190.5h0.95v0.5h-0.95zM505.7 190.0h0.95v1.0h-0.95zM509.0 190.4h0.95v0.6h-0.95zM510.7 190.6h0.95v0.4h-0.95zM512.4 190.4h0.95v0.6h-0.95zM514.0 190.0h0.95v1.0h-0.95zM515.7 190.3h0.95v0.7h-0.95zM517.3 190.2h0.95v0.8h-0.95zM519.0 190.4h0.95v0.6h-0.95zM522.3 190.6h0.95v0.4h-0.95zM523.9 190.7h0.95v0.3h-0.95zM527.2 190.3h0.95v0.7h-0.95zM528.9 190.4h0.95v0.6h-0.95zM530.5 190.1h0.95v0.9h-0.95zM532.2 190.3h0.95v0.7h-0.95zM533.8 190.5h0.95v0.5h-0.95zM535.5 190.6h0.95v0.4h-0.95zM537.2 190.4h0.95v0.6h-0.95zM538.8 190.5h0.95v0.5h-0.95zM540.5 190.3h0.95v0.7h-0.95zM542.1 190.0h0.95v1.0h-0.95zM543.8 190.3h0.95v0.7h-0.95zM545.4 190.2h0.95v0.8h-0.95zM547.1 190.2h0.95v0.8h-0.95zM548.7 190.3h0.95v0.7h-0.95zM550.4 190.3h0.95v0.7h-0.95zM552.0 190.4h0.95v0.6h-0.95zM553.7 190.7h0.95v0.3h-0.95zM555.3 190.6h0.95v0.4h-0.95zM557.0 190.4h0.95v0.6h-0.95zM558.6 190.1h0.95v0.9h-0.95zM560.3 190.5h0.95v0.5h-0.95zM563.6 190.6h0.95v0.4h-0.95zM565.3 189.9h0.95v1.1h-0.95zM566.9 190.6h0.95v0.4h-0.95zM568.6 190.3h0.95v0.7h-0.95zM570.2 190.3h0.95v0.7h-0.95zM571.9 190.6h0.95v0.4h-0.95zM573.5 190.6h0.95v0.4h-0.95zM575.2 190.2h0.95v0.8h-0.95zM576.8 190.5h0.95v0.5h-0.95zM578.5 190.5h0.95v0.5h-0.95zM580.1 190.3h0.95v0.7h-0.95zM581.8 190.4h0.95v0.6h-0.95zM583.5 190.2h0.95v0.8h-0.95zM585.1 190.4h0.95v0.6h-0.95zM586.8 190.3h0.95v0.7h-0.95zM588.4 190.4h0.95v0.6h-0.95zM590.1 190.2h0.95v0.8h-0.95zM591.7 190.2h0.95v0.8h-0.95zM593.4 190.5h0.95v0.5h-0.95zM595.0 190.2h0.95v0.8h-0.95zM596.7 190.5h0.95v0.5h-0.95zM600.0 190.3h0.95v0.7h-0.95zM601.6 190.2h0.95v0.8h-0.95zM603.3 190.4h0.95v0.6h-0.95zM604.9 190.5h0.95v0.5h-0.95zM606.6 190.5h0.95v0.5h-0.95zM608.3 190.4h0.95v0.6h-0.95zM611.6 190.5h0.95v0.5h-0.95zM613.2 190.5h0.95v0.5h-0.95zM614.9 190.5h0.95v0.5h-0.95zM616.5 190.2h0.95v0.8h-0.95zM618.2 190.3h0.95v0.7h-0.95zM619.8 190.5h0.95v0.5h-0.95zM621.5 190.5h0.95v0.5h-0.95zM623.1 190.6h0.95v0.4h-0.95zM624.8 190.7h0.95v0.3h-0.95zM626.4 190.6h0.95v0.4h-0.95zM628.1 190.5h0.95v0.5h-0.95zM656.5 190.2h0.95v0.8h-0.95zM657.6 189.8h0.95v1.2h-0.95zM658.7 190.4h0.95v0.6h-0.95zM659.8 189.8h0.95v1.2h-0.95zM660.9 189.1h0.95v1.9h-0.95zM662.0 189.8h0.95v1.2h-0.95zM663.1 190.2h0.95v0.8h-0.95zM664.2 190.2h0.95v0.8h-0.95zM665.3 189.7h0.95v1.3h-0.95zM666.4 189.7h0.95v1.3h-0.95zM667.5 189.9h0.95v1.1h-0.95zM668.7 190.0h0.95v1.0h-0.95zM669.8 189.4h0.95v1.6h-0.95zM670.9 190.2h0.95v0.8h-0.95zM672.0 190.1h0.95v0.9h-0.95zM673.1 190.1h0.95v0.9h-0.95zM674.2 190.4h0.95v0.6h-0.95zM675.3 190.0h0.95v1.0h-0.95zM676.4 190.4h0.95v0.6h-0.95zM677.5 189.4h0.95v1.6h-0.95zM678.6 190.0h0.95v1.0h-0.95zM679.7 189.4h0.95v1.6h-0.95zM680.8 189.9h0.95v1.1h-0.95zM681.9 190.2h0.95v0.8h-0.95zM683.0 189.8h0.95v1.2h-0.95zM51.0 210.5h0.95v1.5h-0.95zM52.1 210.9h0.95v1.1h-0.95zM53.2 210.2h0.95v1.8h-0.95zM54.3 210.1h0.95v1.9h-0.95zM55.4 209.6h0.95v2.4h-0.95zM56.5 210.8h0.95v1.2h-0.95zM57.6 210.1h0.95v1.9h-0.95zM58.7 210.2h0.95v1.8h-0.95zM59.8 210.6h0.95v1.4h-0.95zM60.9 211.1h0.95v0.9h-0.95zM62.0 210.7h0.95v1.3h-0.95zM63.2 211.1h0.95v0.9h-0.95zM64.3 210.9h0.95v1.1h-0.95zM65.4 210.7h0.95v1.3h-0.95zM66.5 210.6h0.95v1.4h-0.95zM67.6 210.0h0.95v2.0h-0.95zM68.7 210.6h0.95v1.4h-0.95zM69.8 210.2h0.95v1.8h-0.95zM70.9 210.7h0.95v1.3h-0.95zM72.0 210.5h0.95v1.5h-0.95zM73.1 210.7h0.95v1.3h-0.95zM74.2 210.5h0.95v1.5h-0.95zM75.3 210.6h0.95v1.4h-0.95zM76.4 210.2h0.95v1.8h-0.95zM77.5 210.6h0.95v1.4h-0.95zM78.6 210.4h0.95v1.6h-0.95zM79.7 211.1h0.95v0.9h-0.95zM80.8 210.5h0.95v1.5h-0.95zM81.9 210.1h0.95v1.9h-0.95zM83.0 210.3h0.95v1.7h-0.95zM84.1 210.0h0.95v2.0h-0.95zM85.2 210.2h0.95v1.8h-0.95zM86.3 210.5h0.95v1.5h-0.95zM87.4 210.3h0.95v1.7h-0.95zM88.5 210.4h0.95v1.6h-0.95zM89.6 209.7h0.95v2.3h-0.95zM90.7 209.9h0.95v2.1h-0.95zM91.8 210.7h0.95v1.3h-0.95zM92.9 210.4h0.95v1.6h-0.95zM94.0 210.3h0.95v1.7h-0.95zM95.1 210.7h0.95v1.3h-0.95zM96.2 210.8h0.95v1.2h-0.95zM97.3 210.1h0.95v1.9h-0.95zM98.4 209.8h0.95v2.2h-0.95zM99.5 210.5h0.95v1.5h-0.95zM100.6 210.3h0.95v1.7h-0.95zM101.7 210.3h0.95v1.7h-0.95zM102.8 210.4h0.95v1.6h-0.95zM103.9 210.8h0.95v1.2h-0.95zM105.0 210.9h0.95v1.1h-0.95zM106.1 210.6h0.95v1.4h-0.95zM107.2 210.7h0.95v1.3h-0.95zM108.3 210.7h0.95v1.3h-0.95zM109.4 210.7h0.95v1.3h-0.95zM110.6 210.8h0.95v1.2h-0.95zM111.7 210.1h0.95v1.9h-0.95zM112.8 210.8h0.95v1.2h-0.95zM113.9 211.1h0.95v0.9h-0.95zM115.0 210.9h0.95v1.1h-0.95zM116.1 210.9h0.95v1.1h-0.95zM117.2 209.9h0.95v2.1h-0.95zM118.3 210.3h0.95v1.7h-0.95zM119.4 210.5h0.95v1.5h-0.95zM120.5 211.1h0.95v0.9h-0.95zM121.6 210.5h0.95v1.5h-0.95zM122.7 211.0h0.95v1.0h-0.95zM123.8 210.2h0.95v1.8h-0.95zM124.9 211.0h0.95v1.0h-0.95zM126.0 211.1h0.95v0.9h-0.95zM127.1 210.7h0.95v1.3h-0.95zM128.2 210.1h0.95v1.9h-0.95zM129.3 210.5h0.95v1.5h-0.95zM130.4 211.1h0.95v0.9h-0.95zM131.5 210.3h0.95v1.7h-0.95zM132.6 210.4h0.95v1.6h-0.95zM133.7 210.5h0.95v1.5h-0.95zM134.8 210.4h0.95v1.6h-0.95zM135.9 211.0h0.95v1.0h-0.95zM137.0 209.8h0.95v2.2h-0.95zM138.1 210.6h0.95v1.4h-0.95zM139.2 210.8h0.95v1.2h-0.95zM140.3 210.8h0.95v1.2h-0.95zM141.4 210.2h0.95v1.8h-0.95zM142.5 210.8h0.95v1.2h-0.95zM143.6 211.1h0.95v0.9h-0.95zM144.7 211.0h0.95v1.0h-0.95zM145.8 210.8h0.95v1.2h-0.95zM146.9 210.4h0.95v1.6h-0.95zM148.0 210.4h0.95v1.6h-0.95zM149.1 211.1h0.95v0.9h-0.95zM151.9 211.0h0.95v1.0h-0.95zM155.2 211.6h0.95v0.4h-0.95zM156.9 211.2h0.95v0.8h-0.95zM158.5 211.2h0.95v0.8h-0.95zM160.2 211.4h0.95v0.6h-0.95zM161.8 211.6h0.95v0.4h-0.95zM163.5 211.4h0.95v0.6h-0.95zM165.2 211.3h0.95v0.7h-0.95zM166.8 211.5h0.95v0.5h-0.95zM168.5 211.4h0.95v0.6h-0.95zM170.1 211.2h0.95v0.8h-0.95zM171.8 210.9h0.95v1.1h-0.95zM173.4 211.1h0.95v0.9h-0.95zM176.7 211.2h0.95v0.8h-0.95zM178.4 211.2h0.95v0.8h-0.95zM181.7 211.3h0.95v0.7h-0.95zM183.3 211.1h0.95v0.9h-0.95zM185.0 211.6h0.95v0.4h-0.95zM188.3 211.2h0.95v0.8h-0.95zM190.0 211.3h0.95v0.7h-0.95zM191.6 211.1h0.95v0.9h-0.95zM193.3 211.4h0.95v0.6h-0.95zM194.9 211.3h0.95v0.7h-0.95zM196.6 211.3h0.95v0.7h-0.95zM198.2 211.4h0.95v0.6h-0.95zM201.5 211.2h0.95v0.8h-0.95zM203.2 211.0h0.95v1.0h-0.95zM206.5 211.4h0.95v0.6h-0.95zM208.1 211.4h0.95v0.6h-0.95zM209.8 210.9h0.95v1.1h-0.95zM211.5 211.4h0.95v0.6h-0.95zM213.1 211.7h0.95v0.3h-0.95zM214.8 211.0h0.95v1.0h-0.95zM216.4 211.5h0.95v0.5h-0.95zM218.1 211.6h0.95v0.4h-0.95zM219.7 210.8h0.95v1.2h-0.95zM221.4 210.9h0.95v1.1h-0.95zM223.0 211.5h0.95v0.5h-0.95zM224.7 211.2h0.95v0.8h-0.95zM226.3 211.4h0.95v0.6h-0.95zM228.0 211.5h0.95v0.5h-0.95zM229.6 210.8h0.95v1.2h-0.95zM231.3 211.5h0.95v0.5h-0.95zM232.9 211.0h0.95v1.0h-0.95zM234.6 211.4h0.95v0.6h-0.95zM236.3 211.1h0.95v0.9h-0.95zM237.9 211.1h0.95v0.9h-0.95zM239.6 211.3h0.95v0.7h-0.95zM241.2 211.3h0.95v0.7h-0.95zM242.9 211.3h0.95v0.7h-0.95zM244.5 211.1h0.95v0.9h-0.95zM246.2 211.3h0.95v0.7h-0.95zM247.8 211.3h0.95v0.7h-0.95zM249.5 211.5h0.95v0.5h-0.95zM251.1 211.4h0.95v0.6h-0.95zM252.8 210.9h0.95v1.1h-0.95zM254.4 211.1h0.95v0.9h-0.95zM256.1 211.3h0.95v0.7h-0.95zM257.7 210.8h0.95v1.2h-0.95zM259.4 211.2h0.95v0.8h-0.95zM261.1 211.1h0.95v0.9h-0.95zM262.7 211.2h0.95v0.8h-0.95zM264.4 211.2h0.95v0.8h-0.95zM267.7 211.5h0.95v0.5h-0.95zM269.3 211.6h0.95v0.4h-0.95zM271.0 211.0h0.95v1.0h-0.95zM272.6 211.5h0.95v0.5h-0.95zM274.3 210.8h0.95v1.2h-0.95zM275.9 211.2h0.95v0.8h-0.95zM277.6 211.7h0.95v0.3h-0.95zM279.2 211.6h0.95v0.4h-0.95zM280.9 211.3h0.95v0.7h-0.95zM282.6 211.7h0.95v0.3h-0.95zM284.2 211.1h0.95v0.9h-0.95zM285.9 211.6h0.95v0.4h-0.95zM289.2 211.3h0.95v0.7h-0.95zM290.8 211.4h0.95v0.6h-0.95zM292.5 211.2h0.95v0.8h-0.95zM294.1 210.8h0.95v1.2h-0.95zM295.8 211.4h0.95v0.6h-0.95zM297.4 211.2h0.95v0.8h-0.95zM299.1 211.4h0.95v0.6h-0.95zM300.7 211.4h0.95v0.6h-0.95zM302.4 211.3h0.95v0.7h-0.95zM304.0 211.2h0.95v0.8h-0.95zM305.7 211.4h0.95v0.6h-0.95zM307.4 211.2h0.95v0.8h-0.95zM309.0 211.6h0.95v0.4h-0.95zM310.7 211.5h0.95v0.5h-0.95zM312.3 210.8h0.95v1.2h-0.95zM314.0 211.4h0.95v0.6h-0.95zM315.6 211.2h0.95v0.8h-0.95zM317.3 211.7h0.95v0.3h-0.95zM318.9 210.9h0.95v1.1h-0.95zM320.6 211.4h0.95v0.6h-0.95zM322.2 211.0h0.95v1.0h-0.95zM323.9 211.4h0.95v0.6h-0.95zM325.5 211.6h0.95v0.4h-0.95zM327.2 211.5h0.95v0.5h-0.95zM328.8 211.3h0.95v0.7h-0.95zM330.5 211.2h0.95v0.8h-0.95zM332.2 211.1h0.95v0.9h-0.95zM333.8 211.1h0.95v0.9h-0.95zM335.5 211.7h0.95v0.3h-0.95zM337.1 211.3h0.95v0.7h-0.95zM338.8 211.2h0.95v0.8h-0.95zM340.4 210.9h0.95v1.1h-0.95zM342.1 211.5h0.95v0.5h-0.95zM343.7 211.1h0.95v0.9h-0.95zM345.4 211.0h0.95v1.0h-0.95zM347.0 211.5h0.95v0.5h-0.95zM350.3 211.5h0.95v0.5h-0.95zM355.3 211.4h0.95v0.6h-0.95zM357.0 211.3h0.95v0.7h-0.95zM358.6 211.2h0.95v0.8h-0.95zM360.3 211.1h0.95v0.9h-0.95zM363.6 211.1h0.95v0.9h-0.95zM365.2 211.2h0.95v0.8h-0.95zM366.9 211.3h0.95v0.7h-0.95zM368.5 211.1h0.95v0.9h-0.95zM370.2 210.9h0.95v1.1h-0.95zM371.8 211.2h0.95v0.8h-0.95zM375.1 211.4h0.95v0.6h-0.95zM376.8 211.6h0.95v0.4h-0.95zM378.5 211.6h0.95v0.4h-0.95zM380.1 210.8h0.95v1.2h-0.95zM381.8 211.1h0.95v0.9h-0.95zM383.4 211.1h0.95v0.9h-0.95zM385.1 211.1h0.95v0.9h-0.95zM386.7 211.2h0.95v0.8h-0.95zM388.4 210.6h0.95v1.4h-0.95zM390.0 210.9h0.95v1.1h-0.95zM391.7 211.1h0.95v0.9h-0.95zM393.3 211.4h0.95v0.6h-0.95zM395.0 211.1h0.95v0.9h-0.95zM396.6 211.4h0.95v0.6h-0.95zM398.3 211.2h0.95v0.8h-0.95zM400.0 211.2h0.95v0.8h-0.95zM401.6 211.4h0.95v0.6h-0.95zM403.3 211.6h0.95v0.4h-0.95zM404.9 211.6h0.95v0.4h-0.95zM406.6 211.2h0.95v0.8h-0.95zM408.2 211.2h0.95v0.8h-0.95zM409.9 211.1h0.95v0.9h-0.95zM411.5 211.6h0.95v0.4h-0.95zM413.2 211.1h0.95v0.9h-0.95zM414.8 211.3h0.95v0.7h-0.95zM416.5 211.6h0.95v0.4h-0.95zM418.1 211.1h0.95v0.9h-0.95zM419.8 211.3h0.95v0.7h-0.95zM421.4 211.2h0.95v0.8h-0.95zM423.1 211.5h0.95v0.5h-0.95zM426.4 211.2h0.95v0.8h-0.95zM428.1 211.6h0.95v0.4h-0.95zM429.7 211.6h0.95v0.4h-0.95zM431.4 211.2h0.95v0.8h-0.95zM433.0 211.7h0.95v0.3h-0.95zM434.7 211.4h0.95v0.6h-0.95zM436.3 211.3h0.95v0.7h-0.95zM438.0 211.3h0.95v0.7h-0.95zM439.6 210.9h0.95v1.1h-0.95zM441.3 211.0h0.95v1.0h-0.95zM444.6 211.0h0.95v1.0h-0.95zM446.2 211.2h0.95v0.8h-0.95zM447.9 211.4h0.95v0.6h-0.95zM449.6 211.2h0.95v0.8h-0.95zM452.9 211.4h0.95v0.6h-0.95zM454.5 211.3h0.95v0.7h-0.95zM456.2 211.3h0.95v0.7h-0.95zM457.8 211.3h0.95v0.7h-0.95zM461.1 211.5h0.95v0.5h-0.95zM464.4 211.1h0.95v0.9h-0.95zM466.1 211.5h0.95v0.5h-0.95zM467.7 211.6h0.95v0.4h-0.95zM469.4 211.2h0.95v0.8h-0.95zM471.1 211.4h0.95v0.6h-0.95zM472.7 211.4h0.95v0.6h-0.95zM474.4 211.4h0.95v0.6h-0.95zM476.0 211.2h0.95v0.8h-0.95zM477.7 211.4h0.95v0.6h-0.95zM479.3 211.1h0.95v0.9h-0.95zM481.0 211.4h0.95v0.6h-0.95zM482.6 211.3h0.95v0.7h-0.95zM484.3 211.5h0.95v0.5h-0.95zM487.6 210.8h0.95v1.2h-0.95zM489.2 210.9h0.95v1.1h-0.95zM490.9 211.3h0.95v0.7h-0.95zM492.5 211.4h0.95v0.6h-0.95zM494.2 211.2h0.95v0.8h-0.95zM495.9 211.6h0.95v0.4h-0.95zM497.5 211.6h0.95v0.4h-0.95zM499.2 211.4h0.95v0.6h-0.95zM500.8 211.4h0.95v0.6h-0.95zM502.5 211.3h0.95v0.7h-0.95zM504.1 211.7h0.95v0.3h-0.95zM505.8 211.3h0.95v0.7h-0.95zM507.4 211.3h0.95v0.7h-0.95zM509.1 211.5h0.95v0.5h-0.95zM510.7 211.1h0.95v0.9h-0.95zM512.4 211.2h0.95v0.8h-0.95zM514.0 211.0h0.95v1.0h-0.95zM515.7 211.0h0.95v1.0h-0.95zM517.3 211.1h0.95v0.9h-0.95zM519.0 211.6h0.95v0.4h-0.95zM520.7 211.2h0.95v0.8h-0.95zM522.3 211.2h0.95v0.8h-0.95zM524.0 211.0h0.95v1.0h-0.95zM525.6 211.2h0.95v0.8h-0.95zM527.3 211.6h0.95v0.4h-0.95zM528.9 211.4h0.95v0.6h-0.95zM530.6 211.0h0.95v1.0h-0.95zM532.2 211.3h0.95v0.7h-0.95zM533.9 211.4h0.95v0.6h-0.95zM535.5 211.6h0.95v0.4h-0.95zM537.2 211.6h0.95v0.4h-0.95zM540.5 211.0h0.95v1.0h-0.95zM542.2 211.0h0.95v1.0h-0.95zM543.8 211.5h0.95v0.5h-0.95zM545.5 211.2h0.95v0.8h-0.95zM547.1 211.2h0.95v0.8h-0.95zM548.8 211.1h0.95v0.9h-0.95zM550.4 211.5h0.95v0.5h-0.95zM553.7 211.0h0.95v1.0h-0.95zM555.4 211.3h0.95v0.7h-0.95zM557.0 211.0h0.95v1.0h-0.95zM558.7 211.1h0.95v0.9h-0.95zM560.3 211.3h0.95v0.7h-0.95zM562.0 211.2h0.95v0.8h-0.95zM563.6 210.7h0.95v1.3h-0.95zM565.3 211.0h0.95v1.0h-0.95zM567.0 210.9h0.95v1.1h-0.95zM568.6 211.7h0.95v0.3h-0.95zM570.3 211.4h0.95v0.6h-0.95zM571.9 211.1h0.95v0.9h-0.95zM573.6 211.3h0.95v0.7h-0.95zM575.2 211.2h0.95v0.8h-0.95zM576.9 211.1h0.95v0.9h-0.95zM578.5 211.7h0.95v0.3h-0.95zM580.2 211.5h0.95v0.5h-0.95zM581.8 211.3h0.95v0.7h-0.95zM583.5 211.4h0.95v0.6h-0.95zM585.1 211.2h0.95v0.8h-0.95zM586.8 211.3h0.95v0.7h-0.95zM588.4 210.8h0.95v1.2h-0.95zM590.1 210.9h0.95v1.1h-0.95zM591.8 211.4h0.95v0.6h-0.95zM593.4 211.3h0.95v0.7h-0.95zM595.1 211.1h0.95v0.9h-0.95zM596.7 211.6h0.95v0.4h-0.95zM598.4 211.3h0.95v0.7h-0.95zM600.0 211.3h0.95v0.7h-0.95zM601.7 210.8h0.95v1.2h-0.95zM603.3 211.3h0.95v0.7h-0.95zM605.0 211.1h0.95v0.9h-0.95zM606.6 211.1h0.95v0.9h-0.95zM608.3 211.1h0.95v0.9h-0.95zM609.9 211.0h0.95v1.0h-0.95zM611.6 211.5h0.95v0.5h-0.95zM613.3 211.2h0.95v0.8h-0.95zM614.9 211.6h0.95v0.4h-0.95zM616.6 211.2h0.95v0.8h-0.95zM618.2 211.3h0.95v0.7h-0.95zM619.9 211.4h0.95v0.6h-0.95zM621.5 211.3h0.95v0.7h-0.95zM623.2 210.9h0.95v1.1h-0.95zM624.8 211.4h0.95v0.6h-0.95zM626.5 211.5h0.95v0.5h-0.95zM628.1 211.4h0.95v0.6h-0.95zM268.1 207.9h1.2v4.1h-1.2zM656.5 211.6h0.95v0.4h-0.95zM658.2 211.5h0.95v0.5h-0.95zM659.8 211.6h0.95v0.4h-0.95zM661.5 211.5h0.95v0.5h-0.95zM663.1 211.2h0.95v0.8h-0.95zM664.8 211.7h0.95v0.3h-0.95zM666.4 211.4h0.95v0.6h-0.95zM668.1 211.5h0.95v0.5h-0.95zM669.8 211.3h0.95v0.7h-0.95zM671.4 211.5h0.95v0.5h-0.95zM674.7 211.3h0.95v0.7h-0.95zM676.4 211.5h0.95v0.5h-0.95zM678.0 211.6h0.95v0.4h-0.95zM679.7 211.5h0.95v0.5h-0.95zM681.3 211.6h0.95v0.4h-0.95zM683.0 211.5h0.95v0.5h-0.95zM684.6 211.2h0.95v0.8h-0.95zM686.3 211.5h0.95v0.5h-0.95zM687.9 211.4h0.95v0.6h-0.95zM691.2 211.7h0.95v0.3h-0.95zM692.9 211.5h0.95v0.5h-0.95zM694.6 211.4h0.95v0.6h-0.95zM696.2 211.4h0.95v0.6h-0.95zM656.0 231.6h0.95v2.1h-0.95zM656.9 231.6h0.95v2.1h-0.95zM657.7 230.5h0.95v3.2h-0.95zM658.6 228.1h0.95v5.6h-0.95zM659.4 229.1h0.95v4.6h-0.95zM660.3 228.7h0.95v5.0h-0.95zM661.1 229.1h0.95v4.6h-0.95zM662.0 229.3h0.95v4.4h-0.95zM662.8 227.7h0.95v6.0h-0.95zM663.7 224.4h0.95v9.3h-0.95zM664.5 228.7h0.95v5.0h-0.95zM665.4 227.6h0.95v6.1h-0.95zM666.2 230.0h0.95v3.7h-0.95zM667.1 227.2h0.95v6.5h-0.95zM667.9 229.3h0.95v4.4h-0.95zM668.8 229.1h0.95v4.6h-0.95zM669.6 230.0h0.95v3.7h-0.95zM670.5 230.4h0.95v3.3h-0.95zM671.3 230.1h0.95v3.6h-0.95zM671.5 231.8h0.95v1.9h-0.95zM672.4 232.1h0.95v1.6h-0.95zM673.2 229.0h0.95v4.7h-0.95zM674.1 230.3h0.95v3.4h-0.95zM674.9 229.8h0.95v3.9h-0.95zM675.8 230.3h0.95v3.4h-0.95zM676.6 232.1h0.95v1.6h-0.95zM677.5 230.8h0.95v2.9h-0.95zM678.3 231.7h0.95v2.0h-0.95zM679.2 231.6h0.95v2.1h-0.95zM680.0 230.9h0.95v2.8h-0.95zM680.9 230.6h0.95v3.1h-0.95zM681.7 230.7h0.95v3.0h-0.95zM682.6 230.7h0.95v3.0h-0.95zM683.4 231.1h0.95v2.6h-0.95zM684.3 230.8h0.95v2.9h-0.95zM685.1 229.5h0.95v4.2h-0.95zM686.0 228.6h0.95v5.1h-0.95zM686.8 229.7h0.95v4.0h-0.95zM687.7 231.0h0.95v2.7h-0.95zM688.5 230.4h0.95v3.3h-0.95zM689.4 229.8h0.95v3.9h-0.95zM690.2 229.8h0.95v3.9h-0.95zM691.1 229.6h0.95v4.1h-0.95zM691.9 229.6h0.95v4.1h-0.95zM692.8 230.4h0.95v3.3h-0.95zM693.6 231.1h0.95v2.6h-0.95zM694.5 232.1h0.95v1.6h-0.95zM695.3 229.7h0.95v4.0h-0.95zM696.2 230.2h0.95v3.5h-0.95zM697.0 231.6h0.95v2.1h-0.95zM51.0 253.5h0.95v1.5h-0.95zM51.9 253.7h0.95v1.3h-0.95zM52.8 253.7h0.95v1.3h-0.95zM53.7 252.6h0.95v2.4h-0.95zM54.6 253.6h0.95v1.4h-0.95zM55.5 253.9h0.95v1.1h-0.95zM56.4 253.6h0.95v1.4h-0.95zM57.3 253.2h0.95v1.8h-0.95zM58.2 254.0h0.95v1.0h-0.95zM59.1 253.6h0.95v1.4h-0.95zM60.0 253.1h0.95v1.9h-0.95zM60.9 253.6h0.95v1.4h-0.95zM61.8 253.0h0.95v2.0h-0.95zM62.7 253.5h0.95v1.5h-0.95zM63.6 253.5h0.95v1.5h-0.95zM64.5 254.0h0.95v1.0h-0.95zM65.4 253.6h0.95v1.4h-0.95zM66.3 253.4h0.95v1.6h-0.95zM67.2 253.9h0.95v1.1h-0.95zM68.1 253.4h0.95v1.6h-0.95zM69.0 254.0h0.95v1.0h-0.95zM69.9 253.9h0.95v1.1h-0.95zM70.8 253.7h0.95v1.3h-0.95zM71.7 254.0h0.95v1.0h-0.95zM72.6 253.7h0.95v1.3h-0.95zM73.5 253.2h0.95v1.8h-0.95zM74.4 253.8h0.95v1.2h-0.95zM75.3 253.8h0.95v1.2h-0.95zM76.2 253.3h0.95v1.7h-0.95zM77.1 254.0h0.95v1.0h-0.95zM78.0 253.7h0.95v1.3h-0.95zM78.9 254.0h0.95v1.0h-0.95zM79.8 253.4h0.95v1.6h-0.95zM80.7 253.8h0.95v1.2h-0.95zM81.6 253.4h0.95v1.6h-0.95zM82.5 253.9h0.95v1.1h-0.95zM83.4 253.0h0.95v2.0h-0.95zM84.3 253.2h0.95v1.8h-0.95zM85.2 252.9h0.95v2.1h-0.95zM86.1 254.0h0.95v1.0h-0.95zM87.0 253.0h0.95v2.0h-0.95zM87.9 253.7h0.95v1.3h-0.95zM88.8 254.0h0.95v1.0h-0.95zM89.7 254.0h0.95v1.0h-0.95zM90.6 254.0h0.95v1.0h-0.95zM91.5 253.1h0.95v1.9h-0.95zM92.4 253.4h0.95v1.6h-0.95zM93.3 253.4h0.95v1.6h-0.95zM94.2 254.0h0.95v1.0h-0.95zM95.1 253.4h0.95v1.6h-0.95zM96.0 253.3h0.95v1.7h-0.95zM96.9 253.1h0.95v1.9h-0.95zM97.8 253.4h0.95v1.6h-0.95zM98.7 252.8h0.95v2.2h-0.95zM99.6 252.4h0.95v2.6h-0.95zM100.5 253.4h0.95v1.6h-0.95zM101.4 253.7h0.95v1.3h-0.95zM102.3 254.0h0.95v1.0h-0.95zM103.2 248.4h0.95v6.6h-0.95zM104.1 253.0h0.95v2.0h-0.95zM105.0 253.9h0.95v1.1h-0.95zM105.9 253.9h0.95v1.1h-0.95zM106.8 254.0h0.95v1.0h-0.95zM107.7 253.2h0.95v1.8h-0.95zM108.6 253.4h0.95v1.6h-0.95zM109.5 253.4h0.95v1.6h-0.95zM110.4 254.0h0.95v1.0h-0.95zM111.3 253.1h0.95v1.9h-0.95zM112.2 253.6h0.95v1.4h-0.95zM113.1 254.0h0.95v1.0h-0.95zM114.0 254.0h0.95v1.0h-0.95zM114.9 253.7h0.95v1.3h-0.95zM115.8 253.8h0.95v1.2h-0.95zM116.7 253.8h0.95v1.2h-0.95zM117.6 254.0h0.95v1.0h-0.95zM118.5 253.0h0.95v2.0h-0.95zM119.4 253.7h0.95v1.3h-0.95zM120.3 247.9h0.95v7.1h-0.95zM121.2 253.7h0.95v1.3h-0.95zM122.1 254.0h0.95v1.0h-0.95zM123.0 250.4h0.95v4.6h-0.95zM123.9 254.0h0.95v1.0h-0.95zM124.8 253.8h0.95v1.2h-0.95zM125.7 253.9h0.95v1.1h-0.95zM126.6 254.0h0.95v1.0h-0.95zM127.5 253.4h0.95v1.6h-0.95zM128.4 253.5h0.95v1.5h-0.95zM129.3 253.5h0.95v1.5h-0.95zM130.2 253.3h0.95v1.7h-0.95zM131.1 253.2h0.95v1.8h-0.95zM132.0 253.8h0.95v1.2h-0.95zM132.9 253.6h0.95v1.4h-0.95zM133.8 252.5h0.95v2.5h-0.95zM134.7 252.5h0.95v2.5h-0.95zM135.6 253.1h0.95v1.9h-0.95zM136.5 253.1h0.95v1.9h-0.95zM137.4 254.0h0.95v1.0h-0.95zM138.3 253.5h0.95v1.5h-0.95zM139.2 253.2h0.95v1.8h-0.95zM140.1 253.4h0.95v1.6h-0.95zM141.0 253.6h0.95v1.4h-0.95zM141.9 253.8h0.95v1.2h-0.95zM142.8 253.3h0.95v1.7h-0.95zM143.7 253.6h0.95v1.4h-0.95zM144.6 249.2h0.95v5.8h-0.95zM145.5 253.5h0.95v1.5h-0.95zM146.4 253.6h0.95v1.4h-0.95zM147.3 254.0h0.95v1.0h-0.95zM148.2 253.4h0.95v1.6h-0.95zM149.1 253.8h0.95v1.2h-0.95zM150.0 253.9h0.95v1.1h-0.95zM150.9 253.8h0.95v1.2h-0.95zM151.8 254.0h0.95v1.0h-0.95zM152.7 252.9h0.95v2.1h-0.95zM153.6 253.2h0.95v1.8h-0.95zM154.5 254.0h0.95v1.0h-0.95zM155.4 254.0h0.95v1.0h-0.95zM156.3 253.8h0.95v1.2h-0.95zM157.2 253.2h0.95v1.8h-0.95zM158.1 253.9h0.95v1.1h-0.95zM159.0 253.4h0.95v1.6h-0.95zM159.9 254.0h0.95v1.0h-0.95zM160.8 254.0h0.95v1.0h-0.95zM161.7 253.7h0.95v1.3h-0.95zM162.6 253.6h0.95v1.4h-0.95zM163.5 253.2h0.95v1.8h-0.95zM164.4 253.6h0.95v1.4h-0.95zM165.3 253.5h0.95v1.5h-0.95zM166.2 254.0h0.95v1.0h-0.95zM167.1 253.6h0.95v1.4h-0.95zM168.0 254.0h0.95v1.0h-0.95zM168.9 252.6h0.95v2.4h-0.95zM169.8 253.9h0.95v1.1h-0.95zM170.7 253.7h0.95v1.3h-0.95zM171.6 253.3h0.95v1.7h-0.95zM172.5 253.0h0.95v2.0h-0.95zM173.4 253.7h0.95v1.3h-0.95zM174.3 253.0h0.95v2.0h-0.95zM175.2 253.7h0.95v1.3h-0.95zM176.1 253.8h0.95v1.2h-0.95zM177.0 253.8h0.95v1.2h-0.95zM177.9 253.6h0.95v1.4h-0.95zM178.8 254.0h0.95v1.0h-0.95zM179.7 253.9h0.95v1.1h-0.95zM180.6 253.7h0.95v1.3h-0.95zM181.5 253.8h0.95v1.2h-0.95zM182.4 253.7h0.95v1.3h-0.95zM183.3 253.7h0.95v1.3h-0.95zM184.2 248.8h0.95v6.2h-0.95zM185.1 252.9h0.95v2.1h-0.95zM186.0 253.0h0.95v2.0h-0.95zM186.9 253.1h0.95v1.9h-0.95zM187.8 253.6h0.95v1.4h-0.95zM188.7 254.0h0.95v1.0h-0.95zM189.6 253.3h0.95v1.7h-0.95zM190.5 252.9h0.95v2.1h-0.95zM191.4 253.9h0.95v1.1h-0.95zM192.3 252.6h0.95v2.4h-0.95zM193.2 253.0h0.95v2.0h-0.95zM194.1 253.2h0.95v1.8h-0.95zM195.0 253.6h0.95v1.4h-0.95zM195.9 253.0h0.95v2.0h-0.95zM196.8 253.4h0.95v1.6h-0.95zM197.7 254.0h0.95v1.0h-0.95zM198.6 253.3h0.95v1.7h-0.95zM199.5 253.7h0.95v1.3h-0.95zM200.4 253.3h0.95v1.7h-0.95zM201.3 253.7h0.95v1.3h-0.95zM202.2 253.9h0.95v1.1h-0.95zM203.1 253.6h0.95v1.4h-0.95zM204.0 253.3h0.95v1.7h-0.95zM204.9 252.9h0.95v2.1h-0.95zM205.8 254.0h0.95v1.0h-0.95zM206.7 253.0h0.95v2.0h-0.95zM207.6 253.1h0.95v1.9h-0.95zM208.5 253.7h0.95v1.3h-0.95zM209.4 254.0h0.95v1.0h-0.95zM210.3 254.0h0.95v1.0h-0.95zM211.2 254.0h0.95v1.0h-0.95zM212.1 253.6h0.95v1.4h-0.95zM213.0 253.1h0.95v1.9h-0.95zM213.9 253.3h0.95v1.7h-0.95zM214.8 253.5h0.95v1.5h-0.95zM215.7 253.4h0.95v1.6h-0.95zM216.6 254.0h0.95v1.0h-0.95zM217.5 253.2h0.95v1.8h-0.95zM218.4 253.4h0.95v1.6h-0.95zM219.3 252.7h0.95v2.3h-0.95zM220.2 254.0h0.95v1.0h-0.95zM221.1 253.3h0.95v1.7h-0.95zM222.0 253.3h0.95v1.7h-0.95zM222.9 253.3h0.95v1.7h-0.95zM223.8 253.6h0.95v1.4h-0.95zM224.7 253.6h0.95v1.4h-0.95zM225.6 253.9h0.95v1.1h-0.95zM226.5 253.8h0.95v1.2h-0.95zM227.4 252.1h0.95v2.9h-0.95zM228.3 253.2h0.95v1.8h-0.95zM229.2 253.3h0.95v1.7h-0.95zM230.1 251.7h0.95v3.3h-0.95zM231.0 254.0h0.95v1.0h-0.95zM231.9 252.9h0.95v2.1h-0.95zM232.8 253.2h0.95v1.8h-0.95zM233.7 254.0h0.95v1.0h-0.95zM234.6 252.9h0.95v2.1h-0.95zM235.5 253.6h0.95v1.4h-0.95zM236.4 253.2h0.95v1.8h-0.95zM237.3 253.6h0.95v1.4h-0.95zM238.2 253.0h0.95v2.0h-0.95zM239.1 253.2h0.95v1.8h-0.95zM240.0 253.4h0.95v1.6h-0.95zM240.9 253.6h0.95v1.4h-0.95zM241.8 253.1h0.95v1.9h-0.95zM242.7 253.2h0.95v1.8h-0.95zM243.6 254.0h0.95v1.0h-0.95zM244.5 253.5h0.95v1.5h-0.95zM245.4 253.6h0.95v1.4h-0.95zM246.3 254.0h0.95v1.0h-0.95zM247.2 253.2h0.95v1.8h-0.95zM248.1 253.0h0.95v2.0h-0.95zM249.0 253.1h0.95v1.9h-0.95zM249.9 253.3h0.95v1.7h-0.95zM250.8 253.6h0.95v1.4h-0.95zM251.7 253.0h0.95v2.0h-0.95zM252.6 253.7h0.95v1.3h-0.95zM253.5 253.1h0.95v1.9h-0.95zM254.4 252.9h0.95v2.1h-0.95zM255.3 253.7h0.95v1.3h-0.95zM256.2 254.0h0.95v1.0h-0.95zM257.1 253.3h0.95v1.7h-0.95zM258.0 253.7h0.95v1.3h-0.95zM258.9 253.2h0.95v1.8h-0.95zM259.8 253.4h0.95v1.6h-0.95zM260.7 253.5h0.95v1.5h-0.95zM261.6 252.9h0.95v2.1h-0.95zM262.5 253.0h0.95v2.0h-0.95zM263.4 252.7h0.95v2.3h-0.95zM264.3 253.5h0.95v1.5h-0.95zM265.2 252.8h0.95v2.2h-0.95zM266.1 253.5h0.95v1.5h-0.95zM267.0 253.8h0.95v1.2h-0.95zM267.9 253.4h0.95v1.6h-0.95zM268.8 253.4h0.95v1.6h-0.95zM269.7 252.8h0.95v2.2h-0.95zM270.6 253.4h0.95v1.6h-0.95zM271.5 252.6h0.95v2.4h-0.95zM272.4 253.7h0.95v1.3h-0.95zM273.3 252.0h0.95v3.0h-0.95zM274.2 253.4h0.95v1.6h-0.95zM275.1 254.0h0.95v1.0h-0.95zM276.0 253.3h0.95v1.7h-0.95zM276.9 253.6h0.95v1.4h-0.95zM277.8 254.0h0.95v1.0h-0.95zM278.7 254.0h0.95v1.0h-0.95zM279.6 253.0h0.95v2.0h-0.95zM280.5 254.0h0.95v1.0h-0.95zM281.4 252.7h0.95v2.3h-0.95zM282.3 253.4h0.95v1.6h-0.95zM283.2 253.3h0.95v1.7h-0.95zM284.1 253.2h0.95v1.8h-0.95zM285.0 254.0h0.95v1.0h-0.95zM285.9 253.6h0.95v1.4h-0.95zM286.8 252.9h0.95v2.1h-0.95zM287.7 253.2h0.95v1.8h-0.95zM288.6 253.5h0.95v1.5h-0.95zM289.5 253.9h0.95v1.1h-0.95zM290.4 253.1h0.95v1.9h-0.95zM291.3 253.4h0.95v1.6h-0.95zM292.2 254.0h0.95v1.0h-0.95zM293.1 253.5h0.95v1.5h-0.95zM294.0 253.2h0.95v1.8h-0.95zM294.9 253.2h0.95v1.8h-0.95zM295.8 254.0h0.95v1.0h-0.95zM296.7 252.9h0.95v2.1h-0.95zM297.6 252.9h0.95v2.1h-0.95zM298.5 253.1h0.95v1.9h-0.95zM299.4 253.3h0.95v1.7h-0.95zM300.3 253.5h0.95v1.5h-0.95zM301.2 253.0h0.95v2.0h-0.95zM302.1 253.8h0.95v1.2h-0.95zM303.0 254.0h0.95v1.0h-0.95zM303.9 253.8h0.95v1.2h-0.95zM304.8 253.9h0.95v1.1h-0.95zM305.7 253.6h0.95v1.4h-0.95zM306.6 254.0h0.95v1.0h-0.95zM307.5 253.0h0.95v2.0h-0.95zM308.4 253.9h0.95v1.1h-0.95zM309.3 253.1h0.95v1.9h-0.95zM310.2 254.0h0.95v1.0h-0.95zM311.1 253.3h0.95v1.7h-0.95zM312.0 253.9h0.95v1.1h-0.95zM312.9 252.9h0.95v2.1h-0.95zM313.8 253.4h0.95v1.6h-0.95zM314.7 253.9h0.95v1.1h-0.95zM315.6 253.5h0.95v1.5h-0.95zM316.5 253.3h0.95v1.7h-0.95zM317.4 253.5h0.95v1.5h-0.95zM318.3 254.0h0.95v1.0h-0.95zM319.2 253.4h0.95v1.6h-0.95zM320.1 253.5h0.95v1.5h-0.95zM321.0 253.4h0.95v1.6h-0.95zM321.9 253.0h0.95v2.0h-0.95zM322.8 253.0h0.95v2.0h-0.95zM323.7 253.7h0.95v1.3h-0.95zM324.6 253.6h0.95v1.4h-0.95zM325.5 253.5h0.95v1.5h-0.95zM326.4 254.0h0.95v1.0h-0.95zM327.3 252.8h0.95v2.2h-0.95zM328.2 254.0h0.95v1.0h-0.95zM329.1 253.9h0.95v1.1h-0.95zM330.0 253.4h0.95v1.6h-0.95zM330.9 253.7h0.95v1.3h-0.95zM331.8 253.5h0.95v1.5h-0.95zM332.7 253.3h0.95v1.7h-0.95zM333.6 253.2h0.95v1.8h-0.95zM334.5 253.4h0.95v1.6h-0.95zM335.4 254.0h0.95v1.0h-0.95zM336.3 253.1h0.95v1.9h-0.95zM337.2 254.0h0.95v1.0h-0.95zM338.1 253.9h0.95v1.1h-0.95zM339.0 253.4h0.95v1.6h-0.95zM339.9 253.2h0.95v1.8h-0.95zM340.8 253.3h0.95v1.7h-0.95zM341.7 253.3h0.95v1.7h-0.95zM342.6 254.0h0.95v1.0h-0.95zM343.5 253.1h0.95v1.9h-0.95zM344.4 253.6h0.95v1.4h-0.95zM345.3 248.0h0.95v7.0h-0.95zM346.2 253.2h0.95v1.8h-0.95zM347.1 253.9h0.95v1.1h-0.95zM348.0 253.9h0.95v1.1h-0.95zM348.9 252.6h0.95v2.4h-0.95zM349.8 252.8h0.95v2.2h-0.95zM350.7 253.2h0.95v1.8h-0.95zM351.6 253.3h0.95v1.7h-0.95zM352.5 252.3h0.95v2.7h-0.95zM353.4 253.5h0.95v1.5h-0.95zM354.3 254.0h0.95v1.0h-0.95zM355.2 253.9h0.95v1.1h-0.95zM356.1 253.4h0.95v1.6h-0.95zM357.0 253.6h0.95v1.4h-0.95zM357.9 253.0h0.95v2.0h-0.95zM358.8 253.9h0.95v1.1h-0.95zM359.7 253.3h0.95v1.7h-0.95zM360.6 253.3h0.95v1.7h-0.95zM361.5 253.6h0.95v1.4h-0.95zM362.4 253.6h0.95v1.4h-0.95zM363.3 253.7h0.95v1.3h-0.95zM364.2 253.6h0.95v1.4h-0.95zM365.1 253.3h0.95v1.7h-0.95zM366.0 253.1h0.95v1.9h-0.95zM366.9 252.5h0.95v2.5h-0.95zM367.8 252.8h0.95v2.2h-0.95zM368.7 254.0h0.95v1.0h-0.95zM369.6 253.3h0.95v1.7h-0.95zM370.5 252.9h0.95v2.1h-0.95zM371.4 253.6h0.95v1.4h-0.95zM372.3 253.4h0.95v1.6h-0.95zM373.2 253.8h0.95v1.2h-0.95zM374.1 253.8h0.95v1.2h-0.95zM375.0 253.7h0.95v1.3h-0.95zM375.9 253.9h0.95v1.1h-0.95zM376.8 254.0h0.95v1.0h-0.95zM377.7 253.7h0.95v1.3h-0.95zM378.6 253.7h0.95v1.3h-0.95zM379.5 253.4h0.95v1.6h-0.95zM380.4 253.5h0.95v1.5h-0.95zM381.3 253.1h0.95v1.9h-0.95zM382.2 253.5h0.95v1.5h-0.95zM383.1 253.8h0.95v1.2h-0.95zM384.0 253.6h0.95v1.4h-0.95zM384.9 252.6h0.95v2.4h-0.95zM385.8 253.6h0.95v1.4h-0.95zM386.7 254.0h0.95v1.0h-0.95zM387.6 253.0h0.95v2.0h-0.95zM388.5 253.4h0.95v1.6h-0.95zM389.4 252.9h0.95v2.1h-0.95zM390.3 253.6h0.95v1.4h-0.95zM391.2 253.3h0.95v1.7h-0.95zM392.1 253.6h0.95v1.4h-0.95zM393.0 253.7h0.95v1.3h-0.95zM393.9 253.8h0.95v1.2h-0.95zM394.8 253.7h0.95v1.3h-0.95zM395.7 253.3h0.95v1.7h-0.95zM396.6 253.5h0.95v1.5h-0.95zM397.5 253.2h0.95v1.8h-0.95zM398.4 253.4h0.95v1.6h-0.95zM399.3 253.7h0.95v1.3h-0.95zM400.2 253.9h0.95v1.1h-0.95zM401.1 253.6h0.95v1.4h-0.95zM402.0 253.6h0.95v1.4h-0.95zM402.9 253.5h0.95v1.5h-0.95zM403.8 252.7h0.95v2.3h-0.95zM404.7 252.3h0.95v2.7h-0.95zM405.6 252.7h0.95v2.3h-0.95zM407.6 252.3h0.95v2.7h-0.95zM408.5 252.3h0.95v2.7h-0.95zM409.4 254.0h0.95v1.0h-0.95zM410.3 252.7h0.95v2.3h-0.95zM411.2 252.8h0.95v2.2h-0.95zM412.1 252.3h0.95v2.7h-0.95zM413.0 253.6h0.95v1.4h-0.95zM413.9 253.3h0.95v1.7h-0.95zM414.8 252.1h0.95v2.9h-0.95zM415.7 253.1h0.95v1.9h-0.95zM416.6 252.5h0.95v2.5h-0.95zM417.5 254.0h0.95v1.0h-0.95zM418.4 253.7h0.95v1.3h-0.95zM419.3 253.4h0.95v1.6h-0.95zM420.2 253.4h0.95v1.6h-0.95zM421.1 253.3h0.95v1.7h-0.95zM422.0 253.5h0.95v1.5h-0.95zM422.9 253.9h0.95v1.1h-0.95zM423.8 253.2h0.95v1.8h-0.95zM424.7 253.8h0.95v1.2h-0.95zM425.6 252.4h0.95v2.6h-0.95zM426.5 253.2h0.95v1.8h-0.95zM427.4 252.3h0.95v2.7h-0.95zM428.3 252.8h0.95v2.2h-0.95zM429.2 253.8h0.95v1.2h-0.95zM430.1 252.7h0.95v2.3h-0.95zM431.0 252.3h0.95v2.7h-0.95zM431.9 253.4h0.95v1.6h-0.95zM432.8 251.7h0.95v3.3h-0.95zM433.7 253.2h0.95v1.8h-0.95zM434.6 252.9h0.95v2.1h-0.95zM435.5 252.3h0.95v2.7h-0.95zM436.4 252.7h0.95v2.3h-0.95zM437.3 253.3h0.95v1.7h-0.95zM438.2 252.2h0.95v2.8h-0.95zM439.1 253.6h0.95v1.4h-0.95zM440.0 253.7h0.95v1.3h-0.95zM440.9 252.6h0.95v2.4h-0.95zM441.8 254.0h0.95v1.0h-0.95zM442.7 254.0h0.95v1.0h-0.95zM443.6 253.6h0.95v1.4h-0.95zM444.5 253.1h0.95v1.9h-0.95zM445.4 254.0h0.95v1.0h-0.95zM446.3 253.1h0.95v1.9h-0.95zM447.2 252.4h0.95v2.6h-0.95zM448.1 252.8h0.95v2.2h-0.95zM449.0 254.0h0.95v1.0h-0.95zM449.9 253.7h0.95v1.3h-0.95zM450.8 252.1h0.95v2.9h-0.95zM451.7 253.2h0.95v1.8h-0.95zM452.6 252.5h0.95v2.5h-0.95zM453.5 254.0h0.95v1.0h-0.95zM454.4 253.5h0.95v1.5h-0.95zM455.3 254.0h0.95v1.0h-0.95zM456.2 253.9h0.95v1.1h-0.95zM457.1 252.7h0.95v2.3h-0.95zM458.0 253.5h0.95v1.5h-0.95zM458.9 253.4h0.95v1.6h-0.95zM459.8 253.3h0.95v1.7h-0.95zM460.7 253.3h0.95v1.7h-0.95zM461.6 253.5h0.95v1.5h-0.95zM462.5 253.3h0.95v1.7h-0.95zM463.4 252.6h0.95v2.4h-0.95zM464.3 253.7h0.95v1.3h-0.95zM465.2 253.7h0.95v1.3h-0.95zM466.1 253.7h0.95v1.3h-0.95zM467.0 253.8h0.95v1.2h-0.95zM467.9 253.7h0.95v1.3h-0.95zM468.8 253.5h0.95v1.5h-0.95zM469.7 253.5h0.95v1.5h-0.95zM470.6 253.4h0.95v1.6h-0.95zM471.5 251.8h0.95v3.2h-0.95zM472.4 253.6h0.95v1.4h-0.95zM473.3 252.4h0.95v2.6h-0.95zM474.2 253.8h0.95v1.2h-0.95zM475.1 253.4h0.95v1.6h-0.95zM476.0 252.8h0.95v2.2h-0.95zM476.9 252.4h0.95v2.6h-0.95zM477.8 253.4h0.95v1.6h-0.95zM478.7 252.3h0.95v2.7h-0.95zM479.6 253.4h0.95v1.6h-0.95zM480.5 252.6h0.95v2.4h-0.95zM481.4 253.9h0.95v1.1h-0.95zM482.3 252.9h0.95v2.1h-0.95zM483.2 252.6h0.95v2.4h-0.95zM484.1 252.4h0.95v2.6h-0.95zM485.0 252.8h0.95v2.2h-0.95zM485.9 253.8h0.95v1.2h-0.95zM486.8 254.0h0.95v1.0h-0.95zM487.7 252.6h0.95v2.4h-0.95zM488.6 253.2h0.95v1.8h-0.95zM489.5 253.2h0.95v1.8h-0.95zM490.4 253.2h0.95v1.8h-0.95zM491.3 254.0h0.95v1.0h-0.95zM492.2 252.9h0.95v2.1h-0.95zM493.1 253.3h0.95v1.7h-0.95zM494.0 252.8h0.95v2.2h-0.95zM494.9 252.9h0.95v2.1h-0.95zM495.8 252.5h0.95v2.5h-0.95zM496.7 253.3h0.95v1.7h-0.95zM497.6 254.0h0.95v1.0h-0.95zM498.5 253.2h0.95v1.8h-0.95zM499.4 253.8h0.95v1.2h-0.95zM500.3 252.2h0.95v2.8h-0.95zM501.2 254.0h0.95v1.0h-0.95zM502.1 252.9h0.95v2.1h-0.95zM503.0 254.0h0.95v1.0h-0.95zM503.9 252.5h0.95v2.5h-0.95zM504.8 253.8h0.95v1.2h-0.95zM505.7 253.0h0.95v2.0h-0.95zM506.6 253.5h0.95v1.5h-0.95zM507.5 253.4h0.95v1.6h-0.95zM508.4 253.2h0.95v1.8h-0.95zM509.3 253.3h0.95v1.7h-0.95zM510.2 254.0h0.95v1.0h-0.95zM511.1 254.0h0.95v1.0h-0.95zM512.0 253.3h0.95v1.7h-0.95zM512.9 252.7h0.95v2.3h-0.95zM513.8 254.0h0.95v1.0h-0.95zM514.7 252.1h0.95v2.9h-0.95zM515.6 253.4h0.95v1.6h-0.95zM516.5 252.4h0.95v2.6h-0.95zM517.4 253.3h0.95v1.7h-0.95zM518.3 251.0h0.95v4.0h-0.95zM519.2 252.3h0.95v2.7h-0.95zM520.1 252.4h0.95v2.6h-0.95zM521.0 252.6h0.95v2.4h-0.95zM521.9 254.0h0.95v1.0h-0.95zM522.8 254.0h0.95v1.0h-0.95zM523.7 253.2h0.95v1.8h-0.95zM524.6 252.7h0.95v2.3h-0.95zM525.5 252.8h0.95v2.2h-0.95zM526.4 253.7h0.95v1.3h-0.95zM527.3 253.4h0.95v1.6h-0.95zM528.2 253.2h0.95v1.8h-0.95zM529.1 251.8h0.95v3.2h-0.95zM530.0 252.9h0.95v2.1h-0.95zM530.9 253.9h0.95v1.1h-0.95zM531.8 253.7h0.95v1.3h-0.95zM532.7 253.8h0.95v1.2h-0.95zM533.6 253.0h0.95v2.0h-0.95zM534.5 252.8h0.95v2.2h-0.95zM535.4 252.9h0.95v2.1h-0.95zM536.3 253.9h0.95v1.1h-0.95zM537.2 254.0h0.95v1.0h-0.95zM538.1 252.9h0.95v2.1h-0.95zM539.0 251.5h0.95v3.5h-0.95zM539.9 252.5h0.95v2.5h-0.95zM540.8 252.8h0.95v2.2h-0.95zM541.7 252.9h0.95v2.1h-0.95zM542.6 252.7h0.95v2.3h-0.95zM543.5 253.2h0.95v1.8h-0.95zM544.4 253.6h0.95v1.4h-0.95zM545.3 254.0h0.95v1.0h-0.95zM546.2 251.6h0.95v3.4h-0.95zM547.1 253.1h0.95v1.9h-0.95zM548.0 252.9h0.95v2.1h-0.95zM548.9 253.8h0.95v1.2h-0.95zM549.8 253.9h0.95v1.1h-0.95zM550.7 252.4h0.95v2.6h-0.95zM551.6 253.7h0.95v1.3h-0.95zM552.5 251.1h0.95v3.9h-0.95zM553.4 250.4h0.95v4.6h-0.95zM554.3 252.8h0.95v2.2h-0.95zM555.2 254.0h0.95v1.0h-0.95zM556.1 254.0h0.95v1.0h-0.95zM557.0 252.6h0.95v2.4h-0.95zM557.9 253.1h0.95v1.9h-0.95zM558.8 251.8h0.95v3.2h-0.95zM559.7 253.2h0.95v1.8h-0.95zM560.6 252.7h0.95v2.3h-0.95zM561.5 251.2h0.95v3.8h-0.95zM562.4 253.4h0.95v1.6h-0.95zM563.3 252.3h0.95v2.7h-0.95zM564.2 254.0h0.95v1.0h-0.95zM565.1 253.0h0.95v2.0h-0.95zM566.0 252.8h0.95v2.2h-0.95zM566.9 252.9h0.95v2.1h-0.95zM567.8 252.8h0.95v2.2h-0.95zM568.7 254.0h0.95v1.0h-0.95zM569.6 252.0h0.95v3.0h-0.95zM570.5 253.4h0.95v1.6h-0.95zM571.4 253.3h0.95v1.7h-0.95zM572.3 252.6h0.95v2.4h-0.95zM573.2 251.2h0.95v3.8h-0.95zM574.1 254.0h0.95v1.0h-0.95zM575.0 253.9h0.95v1.1h-0.95zM575.9 253.6h0.95v1.4h-0.95zM576.8 253.2h0.95v1.8h-0.95zM577.7 253.8h0.95v1.2h-0.95zM578.6 253.4h0.95v1.6h-0.95zM579.5 253.4h0.95v1.6h-0.95zM580.4 251.8h0.95v3.2h-0.95zM581.3 252.3h0.95v2.7h-0.95zM582.2 253.5h0.95v1.5h-0.95zM583.1 252.7h0.95v2.3h-0.95zM584.0 252.8h0.95v2.2h-0.95zM584.9 252.4h0.95v2.6h-0.95zM585.8 251.3h0.95v3.7h-0.95zM586.7 253.1h0.95v1.9h-0.95zM587.6 253.0h0.95v2.0h-0.95zM588.5 253.3h0.95v1.7h-0.95zM589.4 252.5h0.95v2.5h-0.95zM590.3 253.2h0.95v1.8h-0.95zM591.2 253.9h0.95v1.1h-0.95zM592.1 252.4h0.95v2.6h-0.95zM593.0 253.5h0.95v1.5h-0.95zM593.9 253.1h0.95v1.9h-0.95zM594.8 253.7h0.95v1.3h-0.95zM595.7 253.1h0.95v1.9h-0.95zM596.6 252.6h0.95v2.4h-0.95zM597.5 252.4h0.95v2.6h-0.95zM598.4 253.6h0.95v1.4h-0.95zM599.3 253.0h0.95v2.0h-0.95zM600.2 250.5h0.95v4.5h-0.95zM601.1 252.7h0.95v2.3h-0.95zM602.0 253.1h0.95v1.9h-0.95zM602.9 253.9h0.95v1.1h-0.95zM603.8 252.9h0.95v2.1h-0.95zM604.7 252.6h0.95v2.4h-0.95zM605.6 253.7h0.95v1.3h-0.95zM606.5 254.0h0.95v1.0h-0.95zM607.4 252.4h0.95v2.6h-0.95zM608.3 253.6h0.95v1.4h-0.95zM609.2 253.7h0.95v1.3h-0.95zM610.1 254.0h0.95v1.0h-0.95zM611.0 253.9h0.95v1.1h-0.95zM611.9 253.0h0.95v2.0h-0.95zM612.8 254.0h0.95v1.0h-0.95zM613.7 252.7h0.95v2.3h-0.95zM614.6 253.3h0.95v1.7h-0.95zM615.5 254.0h0.95v1.0h-0.95zM616.4 252.6h0.95v2.4h-0.95zM617.3 253.3h0.95v1.7h-0.95zM618.2 250.3h0.95v4.7h-0.95zM619.1 253.6h0.95v1.4h-0.95zM620.0 253.6h0.95v1.4h-0.95zM620.9 252.2h0.95v2.8h-0.95zM621.8 254.0h0.95v1.0h-0.95zM622.7 254.0h0.95v1.0h-0.95zM623.6 253.7h0.95v1.3h-0.95zM624.5 252.8h0.95v2.2h-0.95zM625.4 253.4h0.95v1.6h-0.95zM626.3 253.4h0.95v1.6h-0.95zM627.2 253.3h0.95v1.7h-0.95zM628.1 253.3h0.95v1.7h-0.95zM629.0 254.0h0.95v1.0h-0.95zM496.1 246.9h1v8.1h-1zM523.2 245.9h1v9.1h-1zM97.0 246.9h0.9v8.1h-0.9zM100.0 249.9h0.9v5.1h-0.9zM656.0 253.7h0.95v1.3h-0.95zM656.9 253.6h0.95v1.4h-0.95zM657.8 253.1h0.95v1.9h-0.95zM658.7 253.9h0.95v1.1h-0.95zM659.6 253.1h0.95v1.9h-0.95zM660.5 253.8h0.95v1.2h-0.95zM661.4 253.1h0.95v1.9h-0.95zM662.3 254.0h0.95v1.0h-0.95zM663.2 253.7h0.95v1.3h-0.95zM664.1 254.0h0.95v1.0h-0.95zM665.0 254.0h0.95v1.0h-0.95zM665.9 253.7h0.95v1.3h-0.95zM666.8 253.5h0.95v1.5h-0.95zM667.7 253.8h0.95v1.2h-0.95zM668.6 253.5h0.95v1.5h-0.95zM669.5 253.9h0.95v1.1h-0.95zM670.4 253.1h0.95v1.9h-0.95zM671.3 253.8h0.95v1.2h-0.95zM672.2 253.0h0.95v2.0h-0.95zM673.1 253.1h0.95v1.9h-0.95zM674.0 253.9h0.95v1.1h-0.95zM674.9 253.5h0.95v1.5h-0.95zM675.8 253.8h0.95v1.2h-0.95zM676.7 253.2h0.95v1.8h-0.95zM677.6 253.5h0.95v1.5h-0.95zM678.5 253.1h0.95v1.9h-0.95zM679.4 253.7h0.95v1.3h-0.95zM680.3 253.7h0.95v1.3h-0.95zM681.2 253.8h0.95v1.2h-0.95zM682.1 253.6h0.95v1.4h-0.95zM683.0 253.5h0.95v1.5h-0.95zM683.9 253.6h0.95v1.4h-0.95zM684.8 253.5h0.95v1.5h-0.95zM685.7 253.4h0.95v1.6h-0.95zM686.6 253.6h0.95v1.4h-0.95zM687.5 253.8h0.95v1.2h-0.95zM688.4 253.9h0.95v1.1h-0.95zM689.3 253.8h0.95v1.2h-0.95zM690.2 253.7h0.95v1.3h-0.95zM691.1 253.3h0.95v1.7h-0.95zM692.0 253.3h0.95v1.7h-0.95zM692.9 253.8h0.95v1.2h-0.95zM693.8 253.4h0.95v1.6h-0.95zM694.7 253.9h0.95v1.1h-0.95zM695.6 253.4h0.95v1.6h-0.95zM696.5 254.0h0.95v1.0h-0.95zM697.4 253.3h0.95v1.7h-0.95zM51.0 274.6h0.95v1.9h-0.95zM51.9 274.1h0.95v2.4h-0.95zM52.8 275.1h0.95v1.4h-0.95zM53.7 273.8h0.95v2.7h-0.95zM54.6 274.5h0.95v2.0h-0.95zM55.5 275.1h0.95v1.4h-0.95zM56.4 274.2h0.95v2.3h-0.95zM57.3 274.6h0.95v1.9h-0.95zM58.2 274.7h0.95v1.8h-0.95zM59.1 274.2h0.95v2.3h-0.95zM60.0 274.7h0.95v1.8h-0.95zM60.9 273.8h0.95v2.7h-0.95zM61.8 275.1h0.95v1.4h-0.95zM62.7 274.2h0.95v2.3h-0.95zM63.6 274.5h0.95v2.0h-0.95zM64.5 274.8h0.95v1.7h-0.95zM65.4 273.9h0.95v2.6h-0.95zM66.3 274.5h0.95v2.0h-0.95zM67.2 275.1h0.95v1.4h-0.95zM68.1 274.2h0.95v2.3h-0.95zM69.0 274.6h0.95v1.9h-0.95zM69.9 274.7h0.95v1.8h-0.95zM70.8 275.0h0.95v1.5h-0.95zM71.7 274.2h0.95v2.3h-0.95zM72.6 273.8h0.95v2.7h-0.95zM73.5 274.0h0.95v2.5h-0.95zM74.4 274.5h0.95v2.0h-0.95zM75.3 274.2h0.95v2.3h-0.95zM76.2 274.5h0.95v2.0h-0.95zM77.1 274.5h0.95v2.0h-0.95zM78.0 274.4h0.95v2.1h-0.95zM78.9 274.9h0.95v1.6h-0.95zM79.8 275.0h0.95v1.5h-0.95zM80.7 274.2h0.95v2.3h-0.95zM81.6 274.3h0.95v2.2h-0.95zM82.5 274.9h0.95v1.6h-0.95zM83.4 274.9h0.95v1.6h-0.95zM84.3 275.0h0.95v1.5h-0.95zM85.2 274.7h0.95v1.8h-0.95zM86.1 274.7h0.95v1.8h-0.95zM87.0 274.9h0.95v1.6h-0.95zM87.9 274.6h0.95v1.9h-0.95zM88.8 274.2h0.95v2.3h-0.95zM89.7 274.4h0.95v2.1h-0.95zM90.6 274.6h0.95v1.9h-0.95zM91.5 275.1h0.95v1.4h-0.95zM92.4 274.8h0.95v1.7h-0.95zM93.3 275.1h0.95v1.4h-0.95zM94.2 274.3h0.95v2.2h-0.95zM95.1 274.3h0.95v2.2h-0.95zM96.0 274.8h0.95v1.7h-0.95zM96.9 274.6h0.95v1.9h-0.95zM97.8 274.5h0.95v2.0h-0.95zM98.7 275.1h0.95v1.4h-0.95zM99.6 274.2h0.95v2.3h-0.95zM100.5 275.0h0.95v1.5h-0.95zM101.4 274.6h0.95v1.9h-0.95zM102.3 274.3h0.95v2.2h-0.95zM103.2 274.0h0.95v2.5h-0.95zM104.1 274.3h0.95v2.2h-0.95zM105.0 273.9h0.95v2.6h-0.95zM105.9 274.9h0.95v1.6h-0.95zM106.8 274.5h0.95v2.0h-0.95zM107.7 273.8h0.95v2.7h-0.95zM108.6 274.4h0.95v2.1h-0.95zM109.5 274.2h0.95v2.3h-0.95zM110.4 275.1h0.95v1.4h-0.95zM111.3 274.4h0.95v2.1h-0.95zM112.2 274.6h0.95v1.9h-0.95zM113.1 274.9h0.95v1.6h-0.95zM114.0 274.2h0.95v2.3h-0.95zM114.9 275.1h0.95v1.4h-0.95zM115.8 274.2h0.95v2.3h-0.95zM116.7 274.4h0.95v2.1h-0.95zM117.6 275.0h0.95v1.5h-0.95zM118.5 274.5h0.95v2.0h-0.95zM119.4 275.1h0.95v1.4h-0.95zM120.3 274.8h0.95v1.7h-0.95zM121.2 274.7h0.95v1.8h-0.95zM122.1 274.6h0.95v1.9h-0.95zM123.0 274.2h0.95v2.3h-0.95zM123.9 274.3h0.95v2.2h-0.95zM124.8 273.8h0.95v2.7h-0.95zM125.7 273.8h0.95v2.7h-0.95zM126.6 275.1h0.95v1.4h-0.95zM127.5 273.9h0.95v2.6h-0.95zM128.4 274.0h0.95v2.5h-0.95zM129.3 274.7h0.95v1.8h-0.95zM130.2 274.8h0.95v1.7h-0.95zM131.1 274.3h0.95v2.2h-0.95zM132.0 274.9h0.95v1.6h-0.95zM132.9 273.8h0.95v2.7h-0.95zM133.8 275.0h0.95v1.5h-0.95zM134.7 274.3h0.95v2.2h-0.95zM135.6 274.8h0.95v1.7h-0.95zM136.5 274.9h0.95v1.6h-0.95zM137.4 275.1h0.95v1.4h-0.95zM138.3 274.4h0.95v2.1h-0.95zM139.2 274.3h0.95v2.2h-0.95zM140.1 274.6h0.95v1.9h-0.95zM141.0 274.9h0.95v1.6h-0.95zM141.9 275.1h0.95v1.4h-0.95zM142.8 274.3h0.95v2.2h-0.95zM143.7 274.6h0.95v1.9h-0.95zM144.6 274.7h0.95v1.8h-0.95zM145.5 273.6h0.95v2.9h-0.95zM146.4 274.6h0.95v1.9h-0.95zM147.3 274.1h0.95v2.4h-0.95zM148.2 274.9h0.95v1.6h-0.95zM149.1 273.5h0.95v3.0h-0.95zM150.0 274.7h0.95v1.8h-0.95zM150.9 274.1h0.95v2.4h-0.95zM151.8 275.1h0.95v1.4h-0.95zM152.7 274.9h0.95v1.6h-0.95zM153.6 273.9h0.95v2.6h-0.95zM154.5 275.1h0.95v1.4h-0.95zM155.4 274.8h0.95v1.7h-0.95zM156.3 274.4h0.95v2.1h-0.95zM157.2 274.6h0.95v1.9h-0.95zM158.1 275.1h0.95v1.4h-0.95zM159.0 275.0h0.95v1.5h-0.95zM159.9 274.8h0.95v1.7h-0.95zM160.8 275.1h0.95v1.4h-0.95zM161.7 274.6h0.95v1.9h-0.95zM162.6 275.1h0.95v1.4h-0.95zM163.5 274.4h0.95v2.1h-0.95zM164.4 274.3h0.95v2.2h-0.95zM165.3 275.1h0.95v1.4h-0.95zM166.2 274.0h0.95v2.5h-0.95zM167.1 274.3h0.95v2.2h-0.95zM168.0 274.4h0.95v2.1h-0.95zM168.9 274.6h0.95v1.9h-0.95zM169.8 274.6h0.95v1.9h-0.95zM170.7 275.1h0.95v1.4h-0.95zM171.6 274.0h0.95v2.5h-0.95zM172.5 273.8h0.95v2.7h-0.95zM173.4 275.1h0.95v1.4h-0.95zM174.3 274.1h0.95v2.4h-0.95zM175.2 274.3h0.95v2.2h-0.95zM176.1 274.8h0.95v1.7h-0.95zM177.0 273.9h0.95v2.6h-0.95zM177.9 274.3h0.95v2.2h-0.95zM178.8 274.6h0.95v1.9h-0.95zM179.7 274.2h0.95v2.3h-0.95zM180.6 275.1h0.95v1.4h-0.95zM181.5 273.3h0.95v3.2h-0.95zM182.4 274.7h0.95v1.8h-0.95zM183.3 274.3h0.95v2.2h-0.95zM184.2 273.8h0.95v2.7h-0.95zM185.1 274.4h0.95v2.1h-0.95zM186.0 274.3h0.95v2.2h-0.95zM186.9 275.1h0.95v1.4h-0.95zM187.8 274.2h0.95v2.3h-0.95zM188.7 274.5h0.95v2.0h-0.95zM189.6 274.2h0.95v2.3h-0.95zM190.5 274.8h0.95v1.7h-0.95zM191.4 273.5h0.95v3.0h-0.95zM192.3 274.0h0.95v2.5h-0.95zM193.2 274.7h0.95v1.8h-0.95zM194.1 274.7h0.95v1.8h-0.95zM195.0 274.3h0.95v2.2h-0.95zM195.9 274.8h0.95v1.7h-0.95zM196.8 273.7h0.95v2.8h-0.95zM197.7 275.1h0.95v1.4h-0.95zM198.6 274.8h0.95v1.7h-0.95zM199.5 273.8h0.95v2.7h-0.95zM200.4 274.0h0.95v2.5h-0.95zM201.3 275.1h0.95v1.4h-0.95zM202.2 273.8h0.95v2.7h-0.95zM203.1 274.5h0.95v2.0h-0.95zM204.0 275.1h0.95v1.4h-0.95zM204.9 275.1h0.95v1.4h-0.95zM205.8 274.3h0.95v2.2h-0.95zM206.7 275.0h0.95v1.5h-0.95zM207.6 274.7h0.95v1.8h-0.95zM208.5 274.7h0.95v1.8h-0.95zM209.4 274.2h0.95v2.3h-0.95zM210.3 273.9h0.95v2.6h-0.95zM211.2 275.0h0.95v1.5h-0.95zM212.1 274.1h0.95v2.4h-0.95zM213.0 274.2h0.95v2.3h-0.95zM213.9 273.1h0.95v3.4h-0.95zM214.8 274.9h0.95v1.6h-0.95zM215.7 274.5h0.95v2.0h-0.95zM216.6 274.7h0.95v1.8h-0.95zM217.5 274.4h0.95v2.1h-0.95zM218.4 274.9h0.95v1.6h-0.95zM219.3 273.8h0.95v2.7h-0.95zM220.2 274.1h0.95v2.4h-0.95zM221.1 274.4h0.95v2.1h-0.95zM222.0 274.9h0.95v1.6h-0.95zM222.9 275.1h0.95v1.4h-0.95zM223.8 274.4h0.95v2.1h-0.95zM224.7 274.6h0.95v1.9h-0.95zM225.6 275.0h0.95v1.5h-0.95zM226.5 275.0h0.95v1.5h-0.95zM227.4 274.8h0.95v1.7h-0.95zM228.3 274.4h0.95v2.1h-0.95zM229.2 275.0h0.95v1.5h-0.95zM230.1 274.4h0.95v2.1h-0.95zM231.0 274.1h0.95v2.4h-0.95zM231.9 275.1h0.95v1.4h-0.95zM232.8 273.2h0.95v3.3h-0.95zM233.7 274.9h0.95v1.6h-0.95zM234.6 274.3h0.95v2.2h-0.95zM235.5 274.1h0.95v2.4h-0.95zM236.4 273.8h0.95v2.7h-0.95zM237.3 274.5h0.95v2.0h-0.95zM238.2 274.3h0.95v2.2h-0.95zM239.1 274.2h0.95v2.3h-0.95zM240.0 274.7h0.95v1.8h-0.95zM240.9 274.0h0.95v2.5h-0.95zM241.8 274.6h0.95v1.9h-0.95zM242.7 274.1h0.95v2.4h-0.95zM243.6 274.9h0.95v1.6h-0.95zM244.5 273.6h0.95v2.9h-0.95zM245.4 273.5h0.95v3.0h-0.95zM246.3 275.1h0.95v1.4h-0.95zM247.2 274.6h0.95v1.9h-0.95zM248.1 274.7h0.95v1.8h-0.95zM249.0 274.3h0.95v2.2h-0.95zM249.9 275.1h0.95v1.4h-0.95zM250.8 273.6h0.95v2.9h-0.95zM251.7 275.1h0.95v1.4h-0.95zM252.6 274.8h0.95v1.7h-0.95zM253.5 274.6h0.95v1.9h-0.95zM254.4 274.2h0.95v2.3h-0.95zM255.3 274.9h0.95v1.6h-0.95zM256.2 274.4h0.95v2.1h-0.95zM257.1 274.6h0.95v1.9h-0.95zM258.0 274.9h0.95v1.6h-0.95zM258.9 275.1h0.95v1.4h-0.95zM259.8 273.4h0.95v3.1h-0.95zM260.7 275.1h0.95v1.4h-0.95zM261.6 273.9h0.95v2.6h-0.95zM262.5 274.2h0.95v2.3h-0.95zM263.4 274.6h0.95v1.9h-0.95zM264.3 274.2h0.95v2.3h-0.95zM265.2 273.4h0.95v3.1h-0.95zM266.1 273.5h0.95v3.0h-0.95zM267.0 274.8h0.95v1.7h-0.95zM267.9 275.1h0.95v1.4h-0.95zM268.8 274.0h0.95v2.5h-0.95zM269.7 274.1h0.95v2.4h-0.95zM270.6 275.1h0.95v1.4h-0.95zM271.5 274.4h0.95v2.1h-0.95zM272.4 274.5h0.95v2.0h-0.95zM273.3 274.0h0.95v2.5h-0.95zM274.2 275.1h0.95v1.4h-0.95zM275.1 274.5h0.95v2.0h-0.95zM276.0 274.0h0.95v2.5h-0.95zM276.9 273.9h0.95v2.6h-0.95zM277.8 274.8h0.95v1.7h-0.95zM278.7 274.7h0.95v1.8h-0.95zM279.6 274.4h0.95v2.1h-0.95zM280.5 274.7h0.95v1.8h-0.95zM281.4 274.0h0.95v2.5h-0.95zM282.3 275.0h0.95v1.5h-0.95zM283.2 274.4h0.95v2.1h-0.95zM284.1 274.2h0.95v2.3h-0.95zM285.0 274.1h0.95v2.4h-0.95zM285.9 274.5h0.95v2.0h-0.95zM286.8 274.3h0.95v2.2h-0.95zM287.7 274.0h0.95v2.5h-0.95zM288.6 274.1h0.95v2.4h-0.95zM289.5 274.0h0.95v2.5h-0.95zM290.4 275.0h0.95v1.5h-0.95zM291.3 274.2h0.95v2.3h-0.95zM292.2 275.1h0.95v1.4h-0.95zM293.1 274.7h0.95v1.8h-0.95zM294.0 273.6h0.95v2.9h-0.95zM294.9 274.8h0.95v1.7h-0.95zM295.8 274.0h0.95v2.5h-0.95zM296.7 274.2h0.95v2.3h-0.95zM297.6 274.3h0.95v2.2h-0.95zM298.5 274.2h0.95v2.3h-0.95zM299.4 273.8h0.95v2.7h-0.95zM300.3 273.8h0.95v2.7h-0.95zM301.2 273.9h0.95v2.6h-0.95zM302.1 273.9h0.95v2.6h-0.95zM303.0 274.6h0.95v1.9h-0.95zM303.9 274.4h0.95v2.1h-0.95zM304.8 273.2h0.95v3.3h-0.95zM305.7 275.1h0.95v1.4h-0.95zM306.6 274.8h0.95v1.7h-0.95zM307.5 273.7h0.95v2.8h-0.95zM308.4 274.4h0.95v2.1h-0.95zM309.3 274.0h0.95v2.5h-0.95zM310.2 274.7h0.95v1.8h-0.95zM311.1 272.6h0.95v3.9h-0.95zM312.0 275.0h0.95v1.5h-0.95zM312.9 274.7h0.95v1.8h-0.95zM313.8 273.7h0.95v2.8h-0.95zM314.7 275.1h0.95v1.4h-0.95zM315.6 274.5h0.95v2.0h-0.95zM316.5 275.1h0.95v1.4h-0.95zM317.4 274.4h0.95v2.1h-0.95zM318.3 274.6h0.95v1.9h-0.95zM319.2 274.4h0.95v2.1h-0.95zM320.1 273.7h0.95v2.8h-0.95zM321.0 274.3h0.95v2.2h-0.95zM321.9 273.8h0.95v2.7h-0.95zM322.8 274.1h0.95v2.4h-0.95zM323.7 274.2h0.95v2.3h-0.95zM324.6 274.1h0.95v2.4h-0.95zM325.5 274.1h0.95v2.4h-0.95zM326.4 275.0h0.95v1.5h-0.95zM327.3 274.0h0.95v2.5h-0.95zM328.2 274.3h0.95v2.2h-0.95zM329.1 275.1h0.95v1.4h-0.95zM330.0 274.9h0.95v1.6h-0.95zM330.9 274.0h0.95v2.5h-0.95zM331.8 273.9h0.95v2.6h-0.95zM332.7 275.1h0.95v1.4h-0.95zM333.6 274.2h0.95v2.3h-0.95zM334.5 275.1h0.95v1.4h-0.95zM335.4 274.3h0.95v2.2h-0.95zM336.3 274.1h0.95v2.4h-0.95zM337.2 273.9h0.95v2.6h-0.95zM338.1 274.5h0.95v2.0h-0.95zM339.0 275.0h0.95v1.5h-0.95zM339.9 273.6h0.95v2.9h-0.95zM340.8 274.2h0.95v2.3h-0.95zM341.7 274.3h0.95v2.2h-0.95zM342.6 274.6h0.95v1.9h-0.95zM343.5 273.7h0.95v2.8h-0.95zM344.4 275.1h0.95v1.4h-0.95zM345.3 273.8h0.95v2.7h-0.95zM346.2 274.6h0.95v1.9h-0.95zM347.1 274.4h0.95v2.1h-0.95zM348.0 274.3h0.95v2.2h-0.95zM348.9 274.5h0.95v2.0h-0.95zM349.8 275.1h0.95v1.4h-0.95zM350.7 275.1h0.95v1.4h-0.95zM351.6 274.5h0.95v2.0h-0.95zM352.5 275.1h0.95v1.4h-0.95zM353.4 274.1h0.95v2.4h-0.95zM354.3 274.4h0.95v2.1h-0.95zM355.2 273.9h0.95v2.6h-0.95zM356.1 274.7h0.95v1.8h-0.95zM357.0 274.5h0.95v2.0h-0.95zM357.9 275.0h0.95v1.5h-0.95zM358.8 274.3h0.95v2.2h-0.95zM359.7 274.1h0.95v2.4h-0.95zM360.6 274.4h0.95v2.1h-0.95zM361.5 274.0h0.95v2.5h-0.95zM362.4 273.6h0.95v2.9h-0.95zM363.3 274.1h0.95v2.4h-0.95zM364.2 274.8h0.95v1.7h-0.95zM365.1 275.1h0.95v1.4h-0.95zM366.0 273.9h0.95v2.6h-0.95zM366.9 275.1h0.95v1.4h-0.95zM367.8 273.8h0.95v2.7h-0.95zM368.7 274.9h0.95v1.6h-0.95zM369.6 275.0h0.95v1.5h-0.95zM370.5 274.2h0.95v2.3h-0.95zM371.4 274.1h0.95v2.4h-0.95zM372.3 274.2h0.95v2.3h-0.95zM373.2 275.1h0.95v1.4h-0.95zM374.1 273.4h0.95v3.1h-0.95zM375.0 273.8h0.95v2.7h-0.95zM375.9 274.1h0.95v2.4h-0.95zM376.8 274.2h0.95v2.3h-0.95zM377.7 273.6h0.95v2.9h-0.95zM378.6 274.4h0.95v2.1h-0.95zM379.5 274.7h0.95v1.8h-0.95zM380.4 274.9h0.95v1.6h-0.95zM381.3 273.8h0.95v2.7h-0.95zM382.2 275.1h0.95v1.4h-0.95zM383.1 274.8h0.95v1.7h-0.95zM384.0 274.1h0.95v2.4h-0.95zM384.9 274.6h0.95v1.9h-0.95zM385.8 274.2h0.95v2.3h-0.95zM386.7 274.1h0.95v2.4h-0.95zM387.6 274.1h0.95v2.4h-0.95zM388.5 273.7h0.95v2.8h-0.95zM389.4 274.8h0.95v1.7h-0.95zM390.3 274.5h0.95v2.0h-0.95zM391.2 274.5h0.95v2.0h-0.95zM392.1 274.0h0.95v2.5h-0.95zM393.0 275.1h0.95v1.4h-0.95zM393.9 274.0h0.95v2.5h-0.95zM394.8 274.1h0.95v2.4h-0.95zM395.7 275.1h0.95v1.4h-0.95zM396.6 275.1h0.95v1.4h-0.95zM397.5 274.7h0.95v1.8h-0.95zM398.4 274.4h0.95v2.1h-0.95zM399.3 274.3h0.95v2.2h-0.95zM400.2 274.4h0.95v2.1h-0.95zM401.1 274.4h0.95v2.1h-0.95zM402.0 275.1h0.95v1.4h-0.95zM402.9 275.0h0.95v1.5h-0.95zM403.8 275.1h0.95v1.4h-0.95zM404.7 274.7h0.95v1.8h-0.95zM405.6 274.3h0.95v2.2h-0.95zM407.6 274.6h0.95v1.9h-0.95zM408.5 273.8h0.95v2.7h-0.95zM409.4 274.5h0.95v2.0h-0.95zM410.3 275.1h0.95v1.4h-0.95zM411.2 274.1h0.95v2.4h-0.95zM412.1 273.2h0.95v3.3h-0.95zM413.0 274.8h0.95v1.7h-0.95zM413.9 274.5h0.95v2.0h-0.95zM414.8 275.1h0.95v1.4h-0.95zM415.7 275.1h0.95v1.4h-0.95zM416.6 274.2h0.95v2.3h-0.95zM417.5 273.4h0.95v3.1h-0.95zM418.4 274.1h0.95v2.4h-0.95zM419.3 274.5h0.95v2.0h-0.95zM420.2 273.4h0.95v3.1h-0.95zM421.1 274.2h0.95v2.3h-0.95zM422.0 274.2h0.95v2.3h-0.95zM422.9 274.7h0.95v1.8h-0.95zM423.8 275.1h0.95v1.4h-0.95zM424.7 275.1h0.95v1.4h-0.95zM425.6 274.2h0.95v2.3h-0.95zM426.5 273.7h0.95v2.8h-0.95zM427.4 274.6h0.95v1.9h-0.95zM428.3 274.0h0.95v2.5h-0.95zM429.2 274.3h0.95v2.2h-0.95zM430.1 274.9h0.95v1.6h-0.95zM431.0 275.0h0.95v1.5h-0.95zM431.9 274.9h0.95v1.6h-0.95zM432.8 274.8h0.95v1.7h-0.95zM433.7 274.4h0.95v2.1h-0.95zM434.6 274.7h0.95v1.8h-0.95zM435.5 275.1h0.95v1.4h-0.95zM436.4 274.6h0.95v1.9h-0.95zM437.3 274.2h0.95v2.3h-0.95zM438.2 274.3h0.95v2.2h-0.95zM439.1 274.6h0.95v1.9h-0.95zM440.0 273.8h0.95v2.7h-0.95zM440.9 273.9h0.95v2.6h-0.95zM441.8 275.0h0.95v1.5h-0.95zM442.7 274.4h0.95v2.1h-0.95zM443.6 274.7h0.95v1.8h-0.95zM444.5 274.3h0.95v2.2h-0.95zM445.4 274.9h0.95v1.6h-0.95zM446.3 274.6h0.95v1.9h-0.95zM447.2 274.5h0.95v2.0h-0.95zM448.1 275.1h0.95v1.4h-0.95zM449.0 274.7h0.95v1.8h-0.95zM449.9 274.1h0.95v2.4h-0.95zM450.8 274.8h0.95v1.7h-0.95zM451.7 273.5h0.95v3.0h-0.95zM452.6 275.1h0.95v1.4h-0.95zM453.5 275.1h0.95v1.4h-0.95zM454.4 274.7h0.95v1.8h-0.95zM455.3 274.8h0.95v1.7h-0.95zM456.2 275.1h0.95v1.4h-0.95zM457.1 273.8h0.95v2.7h-0.95zM458.0 272.4h0.95v4.1h-0.95zM458.9 274.6h0.95v1.9h-0.95zM459.8 275.1h0.95v1.4h-0.95zM460.7 273.6h0.95v2.9h-0.95zM461.6 274.4h0.95v2.1h-0.95zM462.5 273.8h0.95v2.7h-0.95zM463.4 274.2h0.95v2.3h-0.95zM464.3 273.3h0.95v3.2h-0.95zM465.2 274.2h0.95v2.3h-0.95zM466.1 273.7h0.95v2.8h-0.95zM467.0 275.0h0.95v1.5h-0.95zM467.9 275.0h0.95v1.5h-0.95zM468.8 274.6h0.95v1.9h-0.95zM469.7 274.9h0.95v1.6h-0.95zM470.6 274.8h0.95v1.7h-0.95zM471.5 274.9h0.95v1.6h-0.95zM472.4 274.8h0.95v1.7h-0.95zM473.3 274.0h0.95v2.5h-0.95zM474.2 273.6h0.95v2.9h-0.95zM475.1 274.9h0.95v1.6h-0.95zM476.0 274.4h0.95v2.1h-0.95zM476.9 274.5h0.95v2.0h-0.95zM477.8 274.7h0.95v1.8h-0.95zM478.7 274.7h0.95v1.8h-0.95zM479.6 274.2h0.95v2.3h-0.95zM480.5 273.8h0.95v2.7h-0.95zM481.4 275.1h0.95v1.4h-0.95zM482.3 274.8h0.95v1.7h-0.95zM483.2 273.9h0.95v2.6h-0.95zM484.1 274.2h0.95v2.3h-0.95zM485.0 274.8h0.95v1.7h-0.95zM485.9 274.9h0.95v1.6h-0.95zM486.8 273.6h0.95v2.9h-0.95zM487.7 273.9h0.95v2.6h-0.95zM488.6 274.6h0.95v1.9h-0.95zM489.5 274.9h0.95v1.6h-0.95zM490.4 274.2h0.95v2.3h-0.95zM491.3 273.9h0.95v2.6h-0.95zM492.2 274.3h0.95v2.2h-0.95zM493.1 274.1h0.95v2.4h-0.95zM494.0 274.7h0.95v1.8h-0.95zM494.9 274.8h0.95v1.7h-0.95zM495.8 273.7h0.95v2.8h-0.95zM496.7 274.2h0.95v2.3h-0.95zM497.6 274.6h0.95v1.9h-0.95zM498.5 274.3h0.95v2.2h-0.95zM499.4 275.1h0.95v1.4h-0.95zM500.3 274.5h0.95v2.0h-0.95zM501.2 274.2h0.95v2.3h-0.95zM502.1 275.1h0.95v1.4h-0.95zM503.0 274.7h0.95v1.8h-0.95zM503.9 274.7h0.95v1.8h-0.95zM504.8 274.4h0.95v2.1h-0.95zM505.7 273.7h0.95v2.8h-0.95zM506.6 274.9h0.95v1.6h-0.95zM507.5 274.2h0.95v2.3h-0.95zM508.4 274.1h0.95v2.4h-0.95zM509.3 274.6h0.95v1.9h-0.95zM510.2 273.9h0.95v2.6h-0.95zM511.1 275.0h0.95v1.5h-0.95zM512.0 274.1h0.95v2.4h-0.95zM512.9 274.3h0.95v2.2h-0.95zM513.8 274.8h0.95v1.7h-0.95zM514.7 275.1h0.95v1.4h-0.95zM515.6 275.1h0.95v1.4h-0.95zM516.5 273.9h0.95v2.6h-0.95zM517.4 274.3h0.95v2.2h-0.95zM518.3 274.4h0.95v2.1h-0.95zM519.2 273.6h0.95v2.9h-0.95zM520.1 274.0h0.95v2.5h-0.95zM521.0 274.8h0.95v1.7h-0.95zM521.9 274.3h0.95v2.2h-0.95zM522.8 274.8h0.95v1.7h-0.95zM523.7 274.1h0.95v2.4h-0.95zM524.6 274.6h0.95v1.9h-0.95zM525.5 274.6h0.95v1.9h-0.95zM526.4 274.5h0.95v2.0h-0.95zM527.3 274.9h0.95v1.6h-0.95zM528.2 275.1h0.95v1.4h-0.95zM529.1 273.1h0.95v3.4h-0.95zM530.0 274.2h0.95v2.3h-0.95zM530.9 273.9h0.95v2.6h-0.95zM531.8 274.6h0.95v1.9h-0.95zM532.7 275.1h0.95v1.4h-0.95zM533.6 274.3h0.95v2.2h-0.95zM534.5 273.6h0.95v2.9h-0.95zM535.4 275.1h0.95v1.4h-0.95zM536.3 274.1h0.95v2.4h-0.95zM537.2 274.4h0.95v2.1h-0.95zM538.1 273.8h0.95v2.7h-0.95zM539.0 274.3h0.95v2.2h-0.95zM539.9 272.1h0.95v4.4h-0.95zM540.8 274.2h0.95v2.3h-0.95zM541.7 274.6h0.95v1.9h-0.95zM542.6 274.0h0.95v2.5h-0.95zM543.5 275.1h0.95v1.4h-0.95zM544.4 274.8h0.95v1.7h-0.95zM545.3 275.0h0.95v1.5h-0.95zM546.2 274.9h0.95v1.6h-0.95zM547.1 274.7h0.95v1.8h-0.95zM548.0 273.1h0.95v3.4h-0.95zM548.9 275.1h0.95v1.4h-0.95zM549.8 274.7h0.95v1.8h-0.95zM550.7 274.8h0.95v1.7h-0.95zM551.6 274.0h0.95v2.5h-0.95zM552.5 274.7h0.95v1.8h-0.95zM553.4 275.1h0.95v1.4h-0.95zM554.3 273.7h0.95v2.8h-0.95zM555.2 274.7h0.95v1.8h-0.95zM556.1 275.0h0.95v1.5h-0.95zM557.0 274.7h0.95v1.8h-0.95zM557.9 274.6h0.95v1.9h-0.95zM558.8 274.5h0.95v2.0h-0.95zM559.7 274.8h0.95v1.7h-0.95zM560.6 274.7h0.95v1.8h-0.95zM561.5 274.3h0.95v2.2h-0.95zM562.4 274.6h0.95v1.9h-0.95zM563.3 274.2h0.95v2.3h-0.95zM564.2 274.7h0.95v1.8h-0.95zM565.1 274.7h0.95v1.8h-0.95zM566.0 274.3h0.95v2.2h-0.95zM566.9 274.2h0.95v2.3h-0.95zM567.8 274.3h0.95v2.2h-0.95zM568.7 274.1h0.95v2.4h-0.95zM569.6 273.7h0.95v2.8h-0.95zM570.5 275.1h0.95v1.4h-0.95zM571.4 274.2h0.95v2.3h-0.95zM572.3 274.0h0.95v2.5h-0.95zM573.2 273.4h0.95v3.1h-0.95zM574.1 274.8h0.95v1.7h-0.95zM575.0 274.5h0.95v2.0h-0.95zM575.9 275.1h0.95v1.4h-0.95zM576.8 275.1h0.95v1.4h-0.95zM577.7 274.5h0.95v2.0h-0.95zM578.6 275.1h0.95v1.4h-0.95zM579.5 275.1h0.95v1.4h-0.95zM580.4 275.0h0.95v1.5h-0.95zM581.3 274.8h0.95v1.7h-0.95zM582.2 275.1h0.95v1.4h-0.95zM583.1 275.1h0.95v1.4h-0.95zM584.0 274.2h0.95v2.3h-0.95zM584.9 274.9h0.95v1.6h-0.95zM585.8 273.2h0.95v3.3h-0.95zM586.7 274.7h0.95v1.8h-0.95zM587.6 274.7h0.95v1.8h-0.95zM588.5 274.5h0.95v2.0h-0.95zM589.4 274.1h0.95v2.4h-0.95zM590.3 274.4h0.95v2.1h-0.95zM591.2 274.9h0.95v1.6h-0.95zM592.1 273.8h0.95v2.7h-0.95zM593.0 274.2h0.95v2.3h-0.95zM593.9 274.0h0.95v2.5h-0.95zM594.8 274.9h0.95v1.6h-0.95zM595.7 275.1h0.95v1.4h-0.95zM596.6 274.2h0.95v2.3h-0.95zM597.5 275.1h0.95v1.4h-0.95zM598.4 274.7h0.95v1.8h-0.95zM599.3 274.5h0.95v2.0h-0.95zM600.2 275.1h0.95v1.4h-0.95zM601.1 274.5h0.95v2.0h-0.95zM602.0 274.6h0.95v1.9h-0.95zM602.9 274.3h0.95v2.2h-0.95zM603.8 274.8h0.95v1.7h-0.95zM604.7 274.1h0.95v2.4h-0.95zM605.6 275.1h0.95v1.4h-0.95zM606.5 274.0h0.95v2.5h-0.95zM607.4 275.0h0.95v1.5h-0.95zM608.3 275.1h0.95v1.4h-0.95zM609.2 273.8h0.95v2.7h-0.95zM610.1 275.1h0.95v1.4h-0.95zM611.0 273.7h0.95v2.8h-0.95zM611.9 275.1h0.95v1.4h-0.95zM612.8 275.1h0.95v1.4h-0.95zM613.7 273.5h0.95v3.0h-0.95zM614.6 273.9h0.95v2.6h-0.95zM615.5 274.3h0.95v2.2h-0.95zM616.4 274.5h0.95v2.0h-0.95zM617.3 274.3h0.95v2.2h-0.95zM618.2 274.7h0.95v1.8h-0.95zM619.1 275.0h0.95v1.5h-0.95zM620.0 274.6h0.95v1.9h-0.95zM620.9 274.6h0.95v1.9h-0.95zM621.8 273.6h0.95v2.9h-0.95zM622.7 274.3h0.95v2.2h-0.95zM623.6 275.1h0.95v1.4h-0.95zM624.5 274.5h0.95v2.0h-0.95zM625.4 274.3h0.95v2.2h-0.95zM626.3 274.6h0.95v1.9h-0.95zM627.2 274.0h0.95v2.5h-0.95zM628.1 274.4h0.95v2.1h-0.95zM629.0 273.4h0.95v3.1h-0.95zM523.2 270.4h1v6.1h-1zM656.0 274.9h0.95v1.6h-0.95zM656.9 275.2h0.95v1.3h-0.95zM657.8 274.5h0.95v2.0h-0.95zM658.7 274.7h0.95v1.8h-0.95zM659.6 275.1h0.95v1.4h-0.95zM660.5 274.8h0.95v1.7h-0.95zM661.4 274.7h0.95v1.8h-0.95zM662.3 275.2h0.95v1.3h-0.95zM663.2 275.2h0.95v1.3h-0.95zM664.1 274.7h0.95v1.8h-0.95zM665.0 274.6h0.95v1.9h-0.95zM665.9 274.7h0.95v1.8h-0.95zM666.8 274.6h0.95v1.9h-0.95zM667.7 274.3h0.95v2.2h-0.95zM668.6 274.9h0.95v1.6h-0.95zM669.5 274.5h0.95v2.0h-0.95zM670.4 274.9h0.95v1.6h-0.95zM671.3 274.6h0.95v1.9h-0.95zM672.2 274.4h0.95v2.1h-0.95zM673.1 274.8h0.95v1.7h-0.95zM674.0 275.1h0.95v1.4h-0.95zM674.9 274.6h0.95v1.9h-0.95zM675.8 275.2h0.95v1.3h-0.95zM676.7 275.2h0.95v1.3h-0.95zM677.6 274.7h0.95v1.8h-0.95zM678.5 275.2h0.95v1.3h-0.95zM679.4 274.5h0.95v2.0h-0.95zM680.3 275.0h0.95v1.5h-0.95zM681.2 274.5h0.95v2.0h-0.95zM682.1 274.6h0.95v1.9h-0.95zM683.0 275.2h0.95v1.3h-0.95zM683.9 275.2h0.95v1.3h-0.95zM684.8 275.2h0.95v1.3h-0.95zM685.7 275.2h0.95v1.3h-0.95zM686.6 274.8h0.95v1.7h-0.95zM687.5 274.9h0.95v1.6h-0.95zM688.4 274.7h0.95v1.8h-0.95zM689.3 275.2h0.95v1.3h-0.95zM690.2 275.0h0.95v1.5h-0.95zM691.1 274.6h0.95v1.9h-0.95zM692.0 274.6h0.95v1.9h-0.95zM692.9 274.9h0.95v1.6h-0.95zM693.8 275.2h0.95v1.3h-0.95zM694.7 274.9h0.95v1.6h-0.95zM695.6 274.8h0.95v1.7h-0.95zM696.5 274.1h0.95v2.4h-0.95zM697.4 275.0h0.95v1.5h-0.95zM51.0 296.2h0.95v1.6h-0.95zM51.9 291.7h0.95v6.1h-0.95zM52.8 293.7h0.95v4.1h-0.95zM53.7 293.1h0.95v4.7h-0.95zM54.6 294.7h0.95v3.1h-0.95zM55.5 295.8h0.95v2.0h-0.95zM56.4 293.5h0.95v4.3h-0.95zM57.3 294.3h0.95v3.5h-0.95zM58.2 294.5h0.95v3.3h-0.95zM59.1 293.3h0.95v4.5h-0.95zM60.0 293.2h0.95v4.6h-0.95zM60.9 293.4h0.95v4.4h-0.95zM61.8 294.5h0.95v3.3h-0.95zM62.7 294.4h0.95v3.4h-0.95zM63.6 292.4h0.95v5.4h-0.95zM64.5 289.3h0.95v8.5h-0.95zM65.4 291.8h0.95v6.0h-0.95zM66.3 293.4h0.95v4.4h-0.95zM67.2 295.2h0.95v2.6h-0.95zM68.1 295.9h0.95v1.9h-0.95zM69.0 295.2h0.95v2.6h-0.95zM69.9 292.0h0.95v5.8h-0.95zM70.8 295.6h0.95v2.2h-0.95zM71.7 290.9h0.95v6.9h-0.95zM72.6 294.5h0.95v3.3h-0.95zM73.5 293.2h0.95v4.6h-0.95zM74.4 293.4h0.95v4.4h-0.95zM75.3 295.1h0.95v2.7h-0.95zM76.2 293.8h0.95v4.0h-0.95zM77.1 295.1h0.95v2.7h-0.95zM78.0 293.7h0.95v4.1h-0.95zM78.9 294.7h0.95v3.1h-0.95zM79.8 294.4h0.95v3.4h-0.95zM80.7 294.6h0.95v3.2h-0.95zM81.6 294.2h0.95v3.6h-0.95zM82.5 295.6h0.95v2.2h-0.95zM83.4 294.2h0.95v3.6h-0.95zM84.3 292.6h0.95v5.2h-0.95zM85.2 295.4h0.95v2.4h-0.95zM86.1 294.4h0.95v3.4h-0.95zM87.0 294.3h0.95v3.5h-0.95zM87.9 294.9h0.95v2.9h-0.95zM88.8 293.0h0.95v4.8h-0.95zM89.7 296.2h0.95v1.6h-0.95zM90.6 292.9h0.95v4.9h-0.95zM91.5 294.4h0.95v3.4h-0.95zM92.4 293.6h0.95v4.2h-0.95zM93.3 294.6h0.95v3.2h-0.95zM94.2 291.3h0.95v6.5h-0.95zM95.1 288.5h0.95v9.3h-0.95zM96.0 294.6h0.95v3.2h-0.95zM96.9 294.1h0.95v3.7h-0.95zM97.8 293.2h0.95v4.6h-0.95zM98.7 288.8h0.95v9.0h-0.95zM99.6 292.5h0.95v5.3h-0.95zM100.5 291.3h0.95v6.5h-0.95zM101.4 296.2h0.95v1.6h-0.95zM102.3 296.1h0.95v1.7h-0.95zM103.2 295.8h0.95v2.0h-0.95zM104.1 295.4h0.95v2.4h-0.95zM104.5 289.7h0.95v8.1h-0.95zM105.4 291.7h0.95v6.1h-0.95zM106.3 294.7h0.95v3.1h-0.95zM107.2 290.7h0.95v7.1h-0.95zM108.1 290.3h0.95v7.5h-0.95zM109.0 293.0h0.95v4.8h-0.95zM109.9 291.0h0.95v6.8h-0.95zM110.8 289.5h0.95v8.3h-0.95zM111.7 294.0h0.95v3.8h-0.95zM112.6 289.4h0.95v8.4h-0.95zM113.5 291.1h0.95v6.7h-0.95zM114.4 292.5h0.95v5.3h-0.95zM115.3 293.1h0.95v4.7h-0.95zM116.2 290.1h0.95v7.7h-0.95zM117.1 292.2h0.95v5.6h-0.95zM118.0 292.0h0.95v5.8h-0.95zM118.9 292.5h0.95v5.3h-0.95zM119.8 291.7h0.95v6.1h-0.95zM120.7 287.7h0.95v10.1h-0.95zM121.6 290.9h0.95v6.9h-0.95zM122.5 291.6h0.95v6.2h-0.95zM123.4 292.9h0.95v4.9h-0.95zM124.3 290.3h0.95v7.5h-0.95zM125.2 294.2h0.95v3.6h-0.95zM126.1 291.7h0.95v6.1h-0.95zM127.0 288.2h0.95v9.6h-0.95zM127.9 289.5h0.95v8.3h-0.95zM128.8 289.0h0.95v8.8h-0.95zM129.7 289.7h0.95v8.1h-0.95zM130.6 289.1h0.95v8.7h-0.95zM131.5 290.3h0.95v7.5h-0.95zM132.4 291.4h0.95v6.4h-0.95zM133.3 293.4h0.95v4.4h-0.95zM134.2 293.2h0.95v4.6h-0.95zM135.1 290.3h0.95v7.5h-0.95zM136.0 290.9h0.95v6.9h-0.95zM136.9 290.8h0.95v7.0h-0.95zM137.8 289.8h0.95v8.0h-0.95zM138.7 290.0h0.95v7.8h-0.95zM139.6 288.3h0.95v9.5h-0.95zM140.5 286.5h0.95v11.3h-0.95zM141.4 288.5h0.95v9.3h-0.95zM142.3 290.4h0.95v7.4h-0.95zM143.2 292.5h0.95v5.3h-0.95zM144.1 286.9h0.95v10.9h-0.95zM145.0 295.2h0.95v2.6h-0.95zM145.9 294.0h0.95v3.8h-0.95zM146.8 291.0h0.95v6.8h-0.95zM147.7 293.2h0.95v4.6h-0.95zM148.6 293.1h0.95v4.7h-0.95zM149.5 292.0h0.95v5.8h-0.95zM151.9 290.6h0.95v7.2h-0.95zM152.8 292.6h0.95v5.2h-0.95zM153.7 290.5h0.95v7.3h-0.95zM154.6 290.3h0.95v7.5h-0.95zM155.5 289.6h0.95v8.2h-0.95zM156.4 291.4h0.95v6.4h-0.95zM157.3 293.0h0.95v4.8h-0.95zM158.2 289.8h0.95v8.0h-0.95zM159.1 286.0h0.95v11.8h-0.95zM160.0 288.0h0.95v9.8h-0.95zM160.9 293.2h0.95v4.6h-0.95zM161.8 289.7h0.95v8.1h-0.95zM162.7 291.4h0.95v6.4h-0.95zM163.6 291.4h0.95v6.4h-0.95zM164.5 291.7h0.95v6.1h-0.95zM165.4 292.8h0.95v5.0h-0.95zM166.3 294.2h0.95v3.6h-0.95zM167.2 290.3h0.95v7.5h-0.95zM168.1 293.2h0.95v4.6h-0.95zM169.0 292.3h0.95v5.5h-0.95zM169.9 291.9h0.95v5.9h-0.95zM170.8 291.0h0.95v6.8h-0.95zM171.7 292.0h0.95v5.8h-0.95zM172.6 291.5h0.95v6.3h-0.95zM173.5 292.0h0.95v5.8h-0.95zM174.4 290.7h0.95v7.1h-0.95zM175.3 290.5h0.95v7.3h-0.95zM176.2 288.3h0.95v9.5h-0.95zM177.1 290.1h0.95v7.7h-0.95zM178.0 292.3h0.95v5.5h-0.95zM178.9 290.1h0.95v7.7h-0.95zM179.8 289.3h0.95v8.5h-0.95zM180.7 292.3h0.95v5.5h-0.95zM181.6 292.3h0.95v5.5h-0.95zM182.5 295.2h0.95v2.6h-0.95zM183.4 288.2h0.95v9.6h-0.95zM184.3 290.9h0.95v6.9h-0.95zM185.2 288.5h0.95v9.3h-0.95zM186.1 294.2h0.95v3.6h-0.95zM187.0 295.2h0.95v2.6h-0.95zM187.9 290.5h0.95v7.3h-0.95zM188.8 292.8h0.95v5.0h-0.95zM189.7 290.8h0.95v7.0h-0.95zM190.6 292.7h0.95v5.1h-0.95zM191.5 289.5h0.95v8.3h-0.95zM192.4 291.8h0.95v6.0h-0.95zM193.3 291.5h0.95v6.3h-0.95zM194.2 290.2h0.95v7.6h-0.95zM195.1 292.0h0.95v5.8h-0.95zM196.0 291.9h0.95v5.9h-0.95zM196.9 288.7h0.95v9.1h-0.95zM197.8 291.3h0.95v6.5h-0.95zM198.7 290.7h0.95v7.1h-0.95zM199.6 290.1h0.95v7.7h-0.95zM200.5 290.9h0.95v6.9h-0.95zM201.4 290.1h0.95v7.7h-0.95zM202.3 287.4h0.95v10.4h-0.95zM203.2 289.0h0.95v8.8h-0.95zM204.1 293.9h0.95v3.9h-0.95zM205.0 295.2h0.95v2.6h-0.95zM205.9 292.9h0.95v4.9h-0.95zM208.2 296.2h0.95v1.6h-0.95zM209.1 296.2h0.95v1.6h-0.95zM210.0 296.2h0.95v1.6h-0.95zM210.9 293.0h0.95v4.8h-0.95zM211.8 295.5h0.95v2.3h-0.95zM212.7 294.6h0.95v3.2h-0.95zM213.6 293.0h0.95v4.8h-0.95zM214.5 292.7h0.95v5.1h-0.95zM215.4 292.7h0.95v5.1h-0.95zM216.3 296.2h0.95v1.6h-0.95zM217.2 296.0h0.95v1.8h-0.95zM218.1 295.7h0.95v2.1h-0.95zM219.0 291.2h0.95v6.6h-0.95zM219.9 292.8h0.95v5.0h-0.95zM220.8 291.0h0.95v6.8h-0.95zM221.7 294.3h0.95v3.5h-0.95zM222.6 295.8h0.95v2.0h-0.95zM223.5 296.2h0.95v1.6h-0.95zM224.4 291.6h0.95v6.2h-0.95zM225.3 291.3h0.95v6.5h-0.95zM226.2 292.6h0.95v5.2h-0.95zM227.1 295.5h0.95v2.3h-0.95zM228.0 293.2h0.95v4.6h-0.95zM228.9 295.0h0.95v2.8h-0.95zM229.8 292.1h0.95v5.7h-0.95zM230.7 291.1h0.95v6.7h-0.95zM231.6 291.7h0.95v6.1h-0.95zM232.5 293.2h0.95v4.6h-0.95zM233.4 294.0h0.95v3.8h-0.95zM234.3 294.6h0.95v3.2h-0.95zM235.2 295.3h0.95v2.5h-0.95zM236.1 294.4h0.95v3.4h-0.95zM237.0 293.0h0.95v4.8h-0.95zM237.9 294.6h0.95v3.2h-0.95zM238.8 292.5h0.95v5.3h-0.95zM239.7 293.2h0.95v4.6h-0.95zM240.6 293.0h0.95v4.8h-0.95zM241.5 293.8h0.95v4.0h-0.95zM242.4 291.7h0.95v6.1h-0.95zM243.3 295.4h0.95v2.4h-0.95zM244.2 295.7h0.95v2.1h-0.95zM245.1 294.6h0.95v3.2h-0.95zM246.0 295.0h0.95v2.8h-0.95zM246.9 295.6h0.95v2.2h-0.95zM247.8 294.3h0.95v3.5h-0.95zM248.7 293.8h0.95v4.0h-0.95zM249.6 293.6h0.95v4.2h-0.95zM250.5 294.7h0.95v3.1h-0.95zM251.4 292.6h0.95v5.2h-0.95zM252.3 293.8h0.95v4.0h-0.95zM253.2 293.6h0.95v4.2h-0.95zM254.1 294.1h0.95v3.7h-0.95zM255.0 294.7h0.95v3.1h-0.95zM255.9 292.6h0.95v5.2h-0.95zM256.8 296.0h0.95v1.8h-0.95zM257.7 296.1h0.95v1.7h-0.95zM258.6 296.2h0.95v1.6h-0.95zM259.5 295.0h0.95v2.8h-0.95zM260.4 293.8h0.95v4.0h-0.95zM261.3 294.7h0.95v3.1h-0.95zM262.2 294.7h0.95v3.1h-0.95zM263.1 293.8h0.95v4.0h-0.95zM264.0 293.5h0.95v4.3h-0.95zM264.9 293.9h0.95v3.9h-0.95zM265.8 294.3h0.95v3.5h-0.95zM266.7 294.8h0.95v3.0h-0.95zM267.6 294.4h0.95v3.4h-0.95zM268.5 292.1h0.95v5.7h-0.95zM269.4 291.7h0.95v6.1h-0.95zM270.3 293.5h0.95v4.3h-0.95zM271.2 292.8h0.95v5.0h-0.95zM272.1 293.3h0.95v4.5h-0.95zM273.0 293.1h0.95v4.7h-0.95zM273.9 294.0h0.95v3.8h-0.95zM274.8 294.4h0.95v3.4h-0.95zM275.7 293.2h0.95v4.6h-0.95zM276.6 293.6h0.95v4.2h-0.95zM277.5 293.0h0.95v4.8h-0.95zM278.4 293.9h0.95v3.9h-0.95zM279.3 291.5h0.95v6.3h-0.95zM280.2 293.2h0.95v4.6h-0.95zM281.1 292.2h0.95v5.6h-0.95zM282.0 293.4h0.95v4.4h-0.95zM282.9 292.9h0.95v4.9h-0.95zM283.8 294.7h0.95v3.1h-0.95zM284.7 292.9h0.95v4.9h-0.95zM285.6 294.5h0.95v3.3h-0.95zM286.5 293.8h0.95v4.0h-0.95zM287.4 295.6h0.95v2.2h-0.95zM288.3 295.0h0.95v2.8h-0.95zM289.2 294.1h0.95v3.7h-0.95zM290.1 295.1h0.95v2.7h-0.95zM291.0 295.0h0.95v2.8h-0.95zM291.9 293.0h0.95v4.8h-0.95zM292.8 293.1h0.95v4.7h-0.95zM293.7 293.0h0.95v4.8h-0.95zM294.6 293.6h0.95v4.2h-0.95zM295.5 295.5h0.95v2.3h-0.95zM296.4 296.2h0.95v1.6h-0.95zM297.3 291.6h0.95v6.2h-0.95zM298.2 293.5h0.95v4.3h-0.95zM299.1 292.8h0.95v5.0h-0.95zM300.0 292.9h0.95v4.9h-0.95zM300.9 295.3h0.95v2.5h-0.95zM301.8 293.0h0.95v4.8h-0.95zM302.7 293.1h0.95v4.7h-0.95zM303.6 291.4h0.95v6.4h-0.95zM304.5 289.3h0.95v8.5h-0.95zM305.4 292.0h0.95v5.8h-0.95zM306.3 293.2h0.95v4.6h-0.95zM307.2 293.5h0.95v4.3h-0.95zM308.1 294.4h0.95v3.4h-0.95zM309.0 294.1h0.95v3.7h-0.95zM309.9 293.7h0.95v4.1h-0.95zM310.8 295.6h0.95v2.2h-0.95zM311.7 296.2h0.95v1.6h-0.95zM312.6 295.7h0.95v2.1h-0.95zM313.5 293.1h0.95v4.7h-0.95zM314.4 292.9h0.95v4.9h-0.95zM315.3 293.6h0.95v4.2h-0.95zM316.2 290.3h0.95v7.5h-0.95zM317.1 292.2h0.95v5.6h-0.95zM318.0 290.6h0.95v7.2h-0.95zM318.9 293.2h0.95v4.6h-0.95zM319.8 293.1h0.95v4.7h-0.95zM320.7 292.0h0.95v5.8h-0.95zM321.6 296.2h0.95v1.6h-0.95zM322.5 295.7h0.95v2.1h-0.95zM323.4 296.2h0.95v1.6h-0.95zM324.3 289.2h0.95v8.6h-0.95zM325.2 287.8h0.95v10.0h-0.95zM326.1 287.2h0.95v10.6h-0.95zM327.0 294.6h0.95v3.2h-0.95zM327.9 293.8h0.95v4.0h-0.95zM328.8 293.0h0.95v4.8h-0.95zM329.7 294.4h0.95v3.4h-0.95zM330.6 292.3h0.95v5.5h-0.95zM331.5 293.3h0.95v4.5h-0.95zM332.4 294.2h0.95v3.6h-0.95zM333.3 294.8h0.95v3.0h-0.95zM334.2 294.1h0.95v3.7h-0.95zM335.1 289.0h0.95v8.8h-0.95zM336.0 290.6h0.95v7.2h-0.95zM336.9 291.8h0.95v6.0h-0.95zM337.8 294.7h0.95v3.1h-0.95zM338.7 296.2h0.95v1.6h-0.95zM339.6 294.3h0.95v3.5h-0.95zM340.5 291.7h0.95v6.1h-0.95zM341.4 295.7h0.95v2.1h-0.95zM342.3 293.8h0.95v4.0h-0.95zM343.2 294.9h0.95v2.9h-0.95zM344.1 294.1h0.95v3.7h-0.95zM345.0 294.0h0.95v3.8h-0.95zM345.9 288.6h0.95v9.2h-0.95zM346.8 290.3h0.95v7.5h-0.95zM347.7 290.6h0.95v7.2h-0.95zM348.6 288.6h0.95v9.2h-0.95zM349.5 288.3h0.95v9.5h-0.95zM350.4 290.1h0.95v7.7h-0.95zM351.3 296.2h0.95v1.6h-0.95zM352.2 296.2h0.95v1.6h-0.95zM353.1 296.2h0.95v1.6h-0.95zM354.0 294.9h0.95v2.9h-0.95zM354.9 294.1h0.95v3.7h-0.95zM355.8 294.3h0.95v3.5h-0.95zM356.7 293.0h0.95v4.8h-0.95zM357.6 295.9h0.95v1.9h-0.95zM358.5 293.6h0.95v4.2h-0.95zM359.4 294.6h0.95v3.2h-0.95zM360.3 294.4h0.95v3.4h-0.95zM361.2 294.2h0.95v3.6h-0.95zM362.1 295.2h0.95v2.6h-0.95zM363.0 295.0h0.95v2.8h-0.95zM363.9 296.2h0.95v1.6h-0.95zM364.8 293.5h0.95v4.3h-0.95zM365.7 293.6h0.95v4.2h-0.95zM366.6 292.1h0.95v5.7h-0.95zM367.5 292.1h0.95v5.7h-0.95zM368.4 292.5h0.95v5.3h-0.95zM369.3 291.3h0.95v6.5h-0.95zM370.2 294.5h0.95v3.3h-0.95zM371.1 295.5h0.95v2.3h-0.95zM372.0 293.3h0.95v4.5h-0.95zM372.9 295.1h0.95v2.7h-0.95zM373.8 293.4h0.95v4.4h-0.95zM374.7 295.7h0.95v2.1h-0.95zM375.6 292.7h0.95v5.1h-0.95zM376.5 294.8h0.95v3.0h-0.95zM377.4 295.9h0.95v1.9h-0.95zM378.3 294.7h0.95v3.1h-0.95zM379.2 294.3h0.95v3.5h-0.95zM380.1 293.7h0.95v4.1h-0.95zM381.0 295.9h0.95v1.9h-0.95zM381.9 295.6h0.95v2.2h-0.95zM382.8 294.7h0.95v3.1h-0.95zM383.7 292.0h0.95v5.8h-0.95zM384.6 294.2h0.95v3.6h-0.95zM385.5 293.4h0.95v4.4h-0.95zM386.4 290.8h0.95v7.0h-0.95zM387.3 287.5h0.95v10.3h-0.95zM388.2 288.2h0.95v9.6h-0.95zM389.1 294.2h0.95v3.6h-0.95zM390.0 294.8h0.95v3.0h-0.95zM390.9 294.8h0.95v3.0h-0.95zM391.8 296.2h0.95v1.6h-0.95zM392.7 296.2h0.95v1.6h-0.95zM393.6 295.0h0.95v2.8h-0.95zM394.5 296.2h0.95v1.6h-0.95zM395.4 294.9h0.95v2.9h-0.95zM396.3 293.5h0.95v4.3h-0.95zM397.2 294.1h0.95v3.7h-0.95zM398.1 294.4h0.95v3.4h-0.95zM399.0 295.9h0.95v1.9h-0.95zM399.9 291.9h0.95v5.9h-0.95zM400.8 294.9h0.95v2.9h-0.95zM401.7 295.5h0.95v2.3h-0.95zM402.6 295.5h0.95v2.3h-0.95zM403.5 296.2h0.95v1.6h-0.95zM404.4 296.2h0.95v1.6h-0.95zM405.3 292.0h0.95v5.8h-0.95zM407.6 295.4h0.95v2.4h-0.95zM408.5 294.4h0.95v3.4h-0.95zM409.4 293.2h0.95v4.6h-0.95zM410.3 296.5h0.95v1.3h-0.95zM411.2 296.5h0.95v1.3h-0.95zM412.1 296.5h0.95v1.3h-0.95zM413.0 290.2h0.95v7.6h-0.95zM413.9 289.4h0.95v8.4h-0.95zM414.8 290.8h0.95v7.0h-0.95zM415.7 294.4h0.95v3.4h-0.95zM416.6 296.5h0.95v1.3h-0.95zM417.5 296.4h0.95v1.4h-0.95zM418.4 293.9h0.95v3.9h-0.95zM419.3 296.3h0.95v1.5h-0.95zM420.2 294.9h0.95v2.9h-0.95zM421.1 296.2h0.95v1.6h-0.95zM422.0 296.5h0.95v1.3h-0.95zM422.9 296.3h0.95v1.5h-0.95zM423.8 296.4h0.95v1.4h-0.95zM424.7 296.5h0.95v1.3h-0.95zM425.6 296.3h0.95v1.5h-0.95zM426.5 296.5h0.95v1.3h-0.95zM427.4 296.5h0.95v1.3h-0.95zM428.3 296.5h0.95v1.3h-0.95zM429.2 294.7h0.95v3.1h-0.95zM430.1 296.5h0.95v1.3h-0.95zM431.0 294.7h0.95v3.1h-0.95zM431.9 296.4h0.95v1.4h-0.95zM432.8 296.5h0.95v1.3h-0.95zM433.7 294.8h0.95v3.0h-0.95zM434.6 292.8h0.95v5.0h-0.95zM435.5 293.6h0.95v4.2h-0.95zM436.4 292.8h0.95v5.0h-0.95zM437.3 289.2h0.95v8.6h-0.95zM438.2 290.0h0.95v7.8h-0.95zM439.1 289.9h0.95v7.9h-0.95zM440.0 294.6h0.95v3.2h-0.95zM440.9 294.5h0.95v3.3h-0.95zM441.8 292.2h0.95v5.6h-0.95zM442.7 290.0h0.95v7.8h-0.95zM443.6 289.8h0.95v8.0h-0.95zM444.5 289.2h0.95v8.6h-0.95zM445.4 294.9h0.95v2.9h-0.95zM446.3 295.8h0.95v2.0h-0.95zM447.2 295.2h0.95v2.6h-0.95zM448.1 296.5h0.95v1.3h-0.95zM449.0 294.7h0.95v3.1h-0.95zM449.9 294.2h0.95v3.6h-0.95zM450.8 293.5h0.95v4.3h-0.95zM451.7 292.6h0.95v5.2h-0.95zM452.6 293.2h0.95v4.6h-0.95zM453.5 292.5h0.95v5.3h-0.95zM454.4 292.3h0.95v5.5h-0.95zM455.3 292.0h0.95v5.8h-0.95zM456.2 295.3h0.95v2.5h-0.95zM457.1 296.5h0.95v1.3h-0.95zM458.0 295.9h0.95v1.9h-0.95zM458.9 294.3h0.95v3.5h-0.95zM459.8 294.6h0.95v3.2h-0.95zM460.7 293.8h0.95v4.0h-0.95zM461.6 295.8h0.95v2.0h-0.95zM462.5 295.4h0.95v2.4h-0.95zM463.4 295.3h0.95v2.5h-0.95zM464.3 294.4h0.95v3.4h-0.95zM465.2 293.8h0.95v4.0h-0.95zM466.1 293.9h0.95v3.9h-0.95zM467.0 295.7h0.95v2.1h-0.95zM467.9 295.0h0.95v2.8h-0.95zM468.8 295.9h0.95v1.9h-0.95zM469.7 293.3h0.95v4.5h-0.95zM470.6 294.4h0.95v3.4h-0.95zM471.5 293.9h0.95v3.9h-0.95zM472.4 292.7h0.95v5.1h-0.95zM473.3 293.6h0.95v4.2h-0.95zM474.2 292.7h0.95v5.1h-0.95zM475.1 292.4h0.95v5.4h-0.95zM476.0 292.0h0.95v5.8h-0.95zM476.9 291.0h0.95v6.8h-0.95zM477.8 295.8h0.95v2.0h-0.95zM478.7 296.3h0.95v1.5h-0.95zM479.6 294.8h0.95v3.0h-0.95zM480.5 296.3h0.95v1.5h-0.95zM481.4 295.4h0.95v2.4h-0.95zM482.3 295.0h0.95v2.8h-0.95zM483.2 296.3h0.95v1.5h-0.95zM484.1 294.5h0.95v3.3h-0.95zM485.0 294.8h0.95v3.0h-0.95zM485.9 293.4h0.95v4.4h-0.95zM486.8 293.5h0.95v4.3h-0.95zM487.7 292.7h0.95v5.1h-0.95zM488.6 295.1h0.95v2.7h-0.95zM489.5 293.9h0.95v3.9h-0.95zM490.4 294.9h0.95v2.9h-0.95zM491.3 296.5h0.95v1.3h-0.95zM492.2 294.6h0.95v3.2h-0.95zM493.1 296.5h0.95v1.3h-0.95zM494.0 294.3h0.95v3.5h-0.95zM494.9 295.0h0.95v2.8h-0.95zM495.8 293.7h0.95v4.1h-0.95zM496.7 294.8h0.95v3.0h-0.95zM497.6 294.6h0.95v3.2h-0.95zM498.5 296.3h0.95v1.5h-0.95zM499.4 296.5h0.95v1.3h-0.95zM500.3 296.5h0.95v1.3h-0.95zM501.2 296.5h0.95v1.3h-0.95zM502.1 294.2h0.95v3.6h-0.95zM503.0 295.4h0.95v2.4h-0.95zM503.9 295.1h0.95v2.7h-0.95zM504.8 293.7h0.95v4.1h-0.95zM505.7 293.6h0.95v4.2h-0.95zM506.6 292.7h0.95v5.1h-0.95zM507.5 295.0h0.95v2.8h-0.95zM508.4 294.4h0.95v3.4h-0.95zM509.3 295.4h0.95v2.4h-0.95zM510.2 294.5h0.95v3.3h-0.95zM511.1 294.8h0.95v3.0h-0.95zM512.0 295.4h0.95v2.4h-0.95zM512.9 290.8h0.95v7.0h-0.95zM513.8 290.5h0.95v7.3h-0.95zM514.7 289.1h0.95v8.7h-0.95zM515.6 295.0h0.95v2.8h-0.95zM516.5 295.5h0.95v2.3h-0.95zM517.4 295.0h0.95v2.8h-0.95zM518.3 293.1h0.95v4.7h-0.95zM519.2 293.1h0.95v4.7h-0.95zM520.1 293.5h0.95v4.3h-0.95zM521.0 296.0h0.95v1.8h-0.95zM521.9 296.5h0.95v1.3h-0.95zM522.8 294.8h0.95v3.0h-0.95zM523.7 295.9h0.95v1.9h-0.95zM524.6 296.5h0.95v1.3h-0.95zM525.5 294.8h0.95v3.0h-0.95zM526.4 293.2h0.95v4.6h-0.95zM527.3 293.8h0.95v4.0h-0.95zM528.2 292.4h0.95v5.4h-0.95zM529.1 291.8h0.95v6.0h-0.95zM530.0 293.8h0.95v4.0h-0.95zM530.9 290.8h0.95v7.0h-0.95zM531.8 294.1h0.95v3.7h-0.95zM532.7 293.5h0.95v4.3h-0.95zM533.6 293.4h0.95v4.4h-0.95zM534.5 293.9h0.95v3.9h-0.95zM535.4 293.9h0.95v3.9h-0.95zM536.3 294.4h0.95v3.4h-0.95zM537.2 293.2h0.95v4.6h-0.95zM538.1 294.1h0.95v3.7h-0.95zM539.0 293.1h0.95v4.7h-0.95zM539.9 295.8h0.95v2.0h-0.95zM540.8 295.0h0.95v2.8h-0.95zM541.7 296.2h0.95v1.6h-0.95zM542.6 293.8h0.95v4.0h-0.95zM543.5 294.8h0.95v3.0h-0.95zM544.4 295.2h0.95v2.6h-0.95zM545.3 294.8h0.95v3.0h-0.95zM546.2 296.3h0.95v1.5h-0.95zM547.1 295.2h0.95v2.6h-0.95zM548.0 296.4h0.95v1.4h-0.95zM548.9 296.0h0.95v1.8h-0.95zM549.8 294.4h0.95v3.4h-0.95zM550.7 295.1h0.95v2.7h-0.95zM551.6 296.5h0.95v1.3h-0.95zM552.5 296.5h0.95v1.3h-0.95zM553.4 296.5h0.95v1.3h-0.95zM554.3 296.5h0.95v1.3h-0.95zM555.2 296.0h0.95v1.8h-0.95zM556.1 291.8h0.95v6.0h-0.95zM557.0 294.0h0.95v3.8h-0.95zM557.9 291.5h0.95v6.3h-0.95zM558.8 295.9h0.95v1.9h-0.95zM559.7 295.0h0.95v2.8h-0.95zM560.6 293.3h0.95v4.5h-0.95zM561.5 295.4h0.95v2.4h-0.95zM562.4 294.2h0.95v3.6h-0.95zM563.3 296.5h0.95v1.3h-0.95zM564.2 294.4h0.95v3.4h-0.95zM565.1 294.6h0.95v3.2h-0.95zM566.0 294.7h0.95v3.1h-0.95zM566.9 290.9h0.95v6.9h-0.95zM567.8 289.4h0.95v8.4h-0.95zM568.7 291.1h0.95v6.7h-0.95zM569.6 296.2h0.95v1.6h-0.95zM570.5 295.8h0.95v2.0h-0.95zM571.4 295.8h0.95v2.0h-0.95zM572.3 294.2h0.95v3.6h-0.95zM573.2 295.4h0.95v2.4h-0.95zM574.1 295.8h0.95v2.0h-0.95zM575.0 292.8h0.95v5.0h-0.95zM575.9 295.8h0.95v2.0h-0.95zM576.8 295.6h0.95v2.2h-0.95zM577.7 292.4h0.95v5.4h-0.95zM578.6 293.5h0.95v4.3h-0.95zM579.5 291.6h0.95v6.2h-0.95zM580.4 294.9h0.95v2.9h-0.95zM581.3 296.5h0.95v1.3h-0.95zM582.2 296.0h0.95v1.8h-0.95zM583.1 291.1h0.95v6.7h-0.95zM584.0 292.1h0.95v5.7h-0.95zM584.9 292.4h0.95v5.4h-0.95zM585.8 294.1h0.95v3.7h-0.95zM586.7 295.3h0.95v2.5h-0.95zM587.6 294.2h0.95v3.6h-0.95zM588.5 295.7h0.95v2.1h-0.95zM589.4 294.3h0.95v3.5h-0.95zM590.3 295.7h0.95v2.1h-0.95zM591.2 296.4h0.95v1.4h-0.95zM592.1 296.5h0.95v1.3h-0.95zM593.0 295.0h0.95v2.8h-0.95zM593.9 296.5h0.95v1.3h-0.95zM594.8 295.7h0.95v2.1h-0.95zM595.7 296.2h0.95v1.6h-0.95zM596.6 296.5h0.95v1.3h-0.95zM597.5 296.4h0.95v1.4h-0.95zM598.4 294.7h0.95v3.1h-0.95zM599.3 296.5h0.95v1.3h-0.95zM600.2 295.4h0.95v2.4h-0.95zM601.1 294.8h0.95v3.0h-0.95zM602.0 296.5h0.95v1.3h-0.95zM602.9 296.4h0.95v1.4h-0.95zM603.8 296.5h0.95v1.3h-0.95zM604.7 293.5h0.95v4.3h-0.95zM605.6 294.0h0.95v3.8h-0.95zM606.5 295.2h0.95v2.6h-0.95zM607.4 294.2h0.95v3.6h-0.95zM608.3 295.6h0.95v2.2h-0.95zM609.2 296.5h0.95v1.3h-0.95zM610.1 293.6h0.95v4.2h-0.95zM611.0 295.2h0.95v2.6h-0.95zM611.9 294.9h0.95v2.9h-0.95zM612.8 295.0h0.95v2.8h-0.95zM613.7 296.3h0.95v1.5h-0.95zM614.6 295.3h0.95v2.5h-0.95zM615.5 293.5h0.95v4.3h-0.95zM616.4 292.7h0.95v5.1h-0.95zM617.3 293.2h0.95v4.6h-0.95zM618.2 292.4h0.95v5.4h-0.95zM619.1 292.1h0.95v5.7h-0.95zM620.0 293.9h0.95v3.9h-0.95zM620.9 294.2h0.95v3.6h-0.95zM621.8 295.3h0.95v2.5h-0.95zM622.7 293.8h0.95v4.0h-0.95zM623.6 296.4h0.95v1.4h-0.95zM624.5 294.3h0.95v3.5h-0.95zM625.4 296.3h0.95v1.5h-0.95zM626.3 296.0h0.95v1.8h-0.95zM627.2 295.7h0.95v2.1h-0.95zM628.1 296.0h0.95v1.8h-0.95zM629.0 293.4h0.95v4.4h-0.95zM656.0 291.7h0.95v6.1h-0.95zM656.9 294.9h0.95v2.9h-0.95zM657.8 296.5h0.95v1.3h-0.95zM658.7 294.8h0.95v3.0h-0.95zM659.6 291.4h0.95v6.4h-0.95zM660.5 295.9h0.95v1.9h-0.95zM661.4 293.4h0.95v4.4h-0.95zM662.3 293.5h0.95v4.3h-0.95zM663.2 296.5h0.95v1.3h-0.95zM664.1 292.0h0.95v5.8h-0.95zM665.0 293.8h0.95v4.0h-0.95zM665.9 293.1h0.95v4.7h-0.95zM666.8 293.8h0.95v4.0h-0.95zM667.7 294.3h0.95v3.5h-0.95zM668.6 292.3h0.95v5.5h-0.95zM669.5 296.4h0.95v1.4h-0.95zM670.4 290.8h0.95v7.0h-0.95zM671.3 296.5h0.95v1.3h-0.95zM672.2 292.5h0.95v5.3h-0.95zM673.1 294.0h0.95v3.8h-0.95zM674.0 292.7h0.95v5.1h-0.95zM674.9 294.3h0.95v3.5h-0.95zM675.8 296.2h0.95v1.6h-0.95zM676.7 293.3h0.95v4.5h-0.95zM677.6 294.4h0.95v3.4h-0.95zM678.5 292.9h0.95v4.9h-0.95zM679.4 296.5h0.95v1.3h-0.95zM680.3 295.0h0.95v2.8h-0.95zM681.2 291.8h0.95v6.0h-0.95zM682.1 292.6h0.95v5.2h-0.95zM683.0 296.0h0.95v1.8h-0.95zM683.9 294.1h0.95v3.7h-0.95zM684.8 293.1h0.95v4.7h-0.95zM685.7 296.5h0.95v1.3h-0.95zM686.6 296.5h0.95v1.3h-0.95zM687.5 293.7h0.95v4.1h-0.95zM688.4 291.5h0.95v6.3h-0.95zM689.3 295.3h0.95v2.5h-0.95zM690.2 293.1h0.95v4.7h-0.95zM691.1 292.7h0.95v5.1h-0.95zM692.0 291.0h0.95v6.8h-0.95zM692.9 290.8h0.95v7.0h-0.95zM693.8 292.5h0.95v5.3h-0.95zM694.7 292.3h0.95v5.5h-0.95zM695.6 296.5h0.95v1.3h-0.95zM696.5 293.3h0.95v4.5h-0.95zM697.4 292.1h0.95v5.7h-0.95z"/>
<path fill="#bdbdbd" d="M296.4 157.5h0.7v12.1h-0.7z"/>
<path fill="#d0d0d0" d="M51.0 229.9h1v3.8h-1zM51.8 229.5h1v4.2h-1zM53.5 229.4h1v4.3h-1zM55.1 228.8h1v4.9h-1zM56.0 229.5h1v4.2h-1zM56.8 229.6h1v4.1h-1zM57.6 227.8h1v5.9h-1zM58.5 226.9h1v6.8h-1zM59.3 226.9h1v6.8h-1zM60.1 228.0h1v5.7h-1zM61.0 225.4h1v8.3h-1zM61.8 226.3h1v7.4h-1zM63.4 225.8h1v7.9h-1zM64.3 228.5h1v5.2h-1zM65.1 229.7h1v4.0h-1zM65.9 228.5h1v5.2h-1zM66.8 230.2h1v3.5h-1zM67.6 230.7h1v3.0h-1zM68.4 231.1h1v2.6h-1zM69.3 230.1h1v3.6h-1zM70.1 230.9h1v2.8h-1zM70.9 229.0h1v4.7h-1zM71.7 227.7h1v6.0h-1zM72.6 228.2h1v5.5h-1zM74.2 228.2h1v5.5h-1zM75.1 230.1h1v3.6h-1zM75.9 227.9h1v5.8h-1zM76.7 228.3h1v5.4h-1zM77.6 230.1h1v3.6h-1zM78.4 231.0h1v2.7h-1zM79.2 230.0h1v3.7h-1zM80.0 230.6h1v3.1h-1zM80.9 229.2h1v4.5h-1zM81.7 229.0h1v4.7h-1zM82.5 230.9h1v2.8h-1zM83.4 228.8h1v4.9h-1zM84.2 231.1h1v2.6h-1zM85.9 230.4h1v3.3h-1zM86.7 230.5h1v3.2h-1zM87.5 228.9h1v4.8h-1zM88.3 227.6h1v6.1h-1zM89.2 228.2h1v5.5h-1zM90.0 228.8h1v4.9h-1zM90.8 231.1h1v2.6h-1zM91.7 229.0h1v4.7h-1zM92.5 229.2h1v4.5h-1zM93.3 228.7h1v5.0h-1zM94.2 228.4h1v5.3h-1zM95.8 229.2h1v4.5h-1zM96.6 228.6h1v5.1h-1zM98.3 228.6h1v5.1h-1zM99.1 228.7h1v5.0h-1zM100.0 227.5h1v6.2h-1zM100.8 227.2h1v6.5h-1zM101.6 227.0h1v6.7h-1zM102.5 226.2h1v7.5h-1zM103.3 226.4h1v7.3h-1zM104.1 229.5h1v4.2h-1zM104.5 228.6h1v5.1h-1zM105.3 227.6h1v6.1h-1zM106.2 227.5h1v6.2h-1zM107.0 227.1h1v6.6h-1zM107.8 227.0h1v6.7h-1zM108.6 227.0h1v6.7h-1zM109.5 226.2h1v7.5h-1zM110.3 226.6h1v7.1h-1zM111.1 226.8h1v6.9h-1zM112.0 226.9h1v6.8h-1zM112.8 228.2h1v5.5h-1zM113.6 227.9h1v5.8h-1zM114.5 227.4h1v6.3h-1zM115.3 227.3h1v6.4h-1zM116.1 226.6h1v7.1h-1zM116.9 227.9h1v5.8h-1zM117.8 225.1h1v8.6h-1zM119.4 225.1h1v8.6h-1zM120.3 224.8h1v8.9h-1zM121.1 226.4h1v7.3h-1zM121.9 227.6h1v6.1h-1zM122.8 227.3h1v6.4h-1zM123.6 227.3h1v6.4h-1zM124.4 226.7h1v7.0h-1zM125.2 227.8h1v5.9h-1zM126.1 228.1h1v5.6h-1zM126.9 227.1h1v6.6h-1zM127.7 228.2h1v5.5h-1zM128.6 227.1h1v6.6h-1zM130.2 227.5h1v6.2h-1zM131.9 227.8h1v5.9h-1zM132.7 227.2h1v6.5h-1zM133.6 229.5h1v4.2h-1zM134.4 226.9h1v6.8h-1zM135.2 227.3h1v6.4h-1zM136.0 225.6h1v8.1h-1zM136.9 228.7h1v5.0h-1zM137.7 226.1h1v7.6h-1zM138.5 226.3h1v7.4h-1zM139.4 226.2h1v7.5h-1zM140.2 228.1h1v5.6h-1zM141.0 228.4h1v5.3h-1zM141.9 228.3h1v5.4h-1zM142.7 228.0h1v5.7h-1zM143.5 228.4h1v5.3h-1zM144.3 227.5h1v6.2h-1zM145.2 227.5h1v6.2h-1zM146.0 228.3h1v5.4h-1zM146.8 228.2h1v5.5h-1zM147.7 228.2h1v5.5h-1zM148.5 227.2h1v6.5h-1zM149.3 227.6h1v6.1h-1zM150.2 227.4h1v6.3h-1zM151.0 226.8h1v6.9h-1zM151.8 228.5h1v5.2h-1zM152.6 227.9h1v5.8h-1zM153.5 227.8h1v5.9h-1zM154.3 228.5h1v5.2h-1zM155.1 227.0h1v6.7h-1zM156.0 228.1h1v5.6h-1zM156.8 226.9h1v6.8h-1zM157.6 226.9h1v6.8h-1zM158.5 225.8h1v7.9h-1zM159.3 225.5h1v8.2h-1zM160.1 225.5h1v8.2h-1zM160.9 226.5h1v7.2h-1zM161.8 225.8h1v7.9h-1zM162.6 228.0h1v5.7h-1zM163.4 226.4h1v7.3h-1zM164.3 227.5h1v6.2h-1zM165.1 226.0h1v7.7h-1zM165.9 228.1h1v5.6h-1zM166.8 228.3h1v5.4h-1zM167.6 229.0h1v4.7h-1zM168.4 228.1h1v5.6h-1zM170.1 228.0h1v5.7h-1zM170.9 228.3h1v5.4h-1zM171.7 227.2h1v6.5h-1zM172.6 228.7h1v5.0h-1zM173.4 227.6h1v6.1h-1zM174.2 228.0h1v5.7h-1zM175.1 226.8h1v6.9h-1zM175.9 226.8h1v6.9h-1zM176.7 227.7h1v6.0h-1zM177.5 226.7h1v7.0h-1zM178.4 228.6h1v5.1h-1zM179.2 228.4h1v5.3h-1zM180.0 228.6h1v5.1h-1zM180.9 227.3h1v6.4h-1zM181.7 228.5h1v5.2h-1zM182.5 227.5h1v6.2h-1zM183.4 226.9h1v6.8h-1zM184.2 227.6h1v6.1h-1zM185.0 227.7h1v6.0h-1zM185.8 227.6h1v6.1h-1zM186.7 228.9h1v4.8h-1zM187.5 226.3h1v7.4h-1zM189.2 226.6h1v7.1h-1zM190.8 229.1h1v4.6h-1zM191.7 227.6h1v6.1h-1zM192.5 228.2h1v5.5h-1zM193.3 228.7h1v5.0h-1zM195.0 227.0h1v6.7h-1zM195.8 228.2h1v5.5h-1zM196.6 228.6h1v5.1h-1zM197.5 228.0h1v5.7h-1zM198.3 227.4h1v6.3h-1zM199.1 228.8h1v4.9h-1zM200.8 228.1h1v5.6h-1zM201.6 227.5h1v6.2h-1zM202.4 229.4h1v4.3h-1zM203.3 228.2h1v5.5h-1zM204.1 225.6h1v8.1h-1zM204.9 225.7h1v8.0h-1zM205.8 227.2h1v6.5h-1zM206.6 226.5h1v7.2h-1zM208.3 229.3h1v4.4h-1zM209.1 229.2h1v4.5h-1zM209.9 229.5h1v4.2h-1zM210.7 228.0h1v5.7h-1zM211.6 226.7h1v7.0h-1zM212.4 227.3h1v6.4h-1zM213.2 227.1h1v6.6h-1zM214.1 228.2h1v5.5h-1zM214.9 228.5h1v5.2h-1zM216.6 228.1h1v5.6h-1zM218.2 227.3h1v6.4h-1zM219.0 228.6h1v5.1h-1zM219.9 228.7h1v5.0h-1zM220.7 226.0h1v7.7h-1zM221.5 227.5h1v6.2h-1zM222.4 227.9h1v5.8h-1zM224.0 227.9h1v5.8h-1zM224.9 227.7h1v6.0h-1zM225.7 227.4h1v6.3h-1zM226.5 228.1h1v5.6h-1zM227.3 226.3h1v7.4h-1zM228.2 227.1h1v6.6h-1zM229.0 225.3h1v8.4h-1zM229.8 228.1h1v5.6h-1zM230.7 227.9h1v5.8h-1zM231.5 227.6h1v6.1h-1zM232.3 227.1h1v6.6h-1zM233.2 227.9h1v5.8h-1zM234.0 229.0h1v4.7h-1zM234.8 229.4h1v4.3h-1zM235.6 228.3h1v5.4h-1zM236.5 228.0h1v5.7h-1zM237.3 227.3h1v6.4h-1zM238.1 228.0h1v5.7h-1zM239.8 227.1h1v6.6h-1zM240.6 229.0h1v4.7h-1zM241.5 228.1h1v5.6h-1zM242.3 228.7h1v5.0h-1zM243.1 229.2h1v4.5h-1zM243.9 227.2h1v6.5h-1zM245.6 227.5h1v6.2h-1zM246.4 226.8h1v6.9h-1zM247.3 226.8h1v6.9h-1zM248.1 225.9h1v7.8h-1zM248.9 226.6h1v7.1h-1zM249.8 226.5h1v7.2h-1zM250.6 227.4h1v6.3h-1zM251.4 229.1h1v4.6h-1zM252.2 228.9h1v4.8h-1zM253.1 228.1h1v5.6h-1zM253.9 229.0h1v4.7h-1zM254.7 228.4h1v5.3h-1zM255.6 228.2h1v5.5h-1zM256.4 227.6h1v6.1h-1zM257.2 229.3h1v4.4h-1zM258.1 227.7h1v6.0h-1zM258.9 230.0h1v3.7h-1zM259.7 229.6h1v4.1h-1zM260.5 227.2h1v6.5h-1zM262.2 228.5h1v5.2h-1zM263.0 228.0h1v5.7h-1zM263.9 226.5h1v7.2h-1zM264.7 227.7h1v6.0h-1zM265.5 227.1h1v6.6h-1zM266.4 227.4h1v6.3h-1zM267.2 226.5h1v7.2h-1zM268.8 225.8h1v7.9h-1zM269.7 225.9h1v7.8h-1zM270.5 226.5h1v7.2h-1zM271.3 226.3h1v7.4h-1zM272.2 226.2h1v7.5h-1zM273.0 225.1h1v8.6h-1zM274.7 228.0h1v5.7h-1zM275.5 227.3h1v6.4h-1zM276.3 227.3h1v6.4h-1zM277.1 227.5h1v6.2h-1zM278.0 226.7h1v7.0h-1zM278.8 226.8h1v6.9h-1zM279.6 225.7h1v8.0h-1zM280.5 227.9h1v5.8h-1zM281.3 227.9h1v5.8h-1zM282.1 228.0h1v5.7h-1zM283.0 228.8h1v4.9h-1zM283.8 226.8h1v6.9h-1zM284.6 226.8h1v6.9h-1zM285.4 226.8h1v6.9h-1zM286.3 227.2h1v6.5h-1zM287.1 226.8h1v6.9h-1zM287.9 226.3h1v7.4h-1zM288.8 226.8h1v6.9h-1zM289.6 227.0h1v6.7h-1zM290.4 226.7h1v7.0h-1zM291.3 228.1h1v5.6h-1zM292.1 227.3h1v6.4h-1zM292.9 228.1h1v5.6h-1zM293.7 229.4h1v4.3h-1zM294.6 229.0h1v4.7h-1zM295.4 228.5h1v5.2h-1zM296.2 228.8h1v4.9h-1zM297.1 228.4h1v5.3h-1zM297.9 228.3h1v5.4h-1zM298.7 227.7h1v6.0h-1zM299.6 227.0h1v6.7h-1zM301.2 227.7h1v6.0h-1zM302.0 225.9h1v7.8h-1zM302.9 226.3h1v7.4h-1zM303.7 229.0h1v4.7h-1zM304.5 227.8h1v5.9h-1zM305.4 229.4h1v4.3h-1zM306.2 229.1h1v4.6h-1zM307.0 226.9h1v6.8h-1zM307.9 228.3h1v5.4h-1zM308.7 227.8h1v5.9h-1zM309.5 227.5h1v6.2h-1zM310.3 229.0h1v4.7h-1zM311.2 228.2h1v5.5h-1zM312.0 226.5h1v7.2h-1zM312.8 227.4h1v6.3h-1zM313.7 226.6h1v7.1h-1zM314.5 227.1h1v6.6h-1zM316.2 226.8h1v6.9h-1zM317.0 228.9h1v4.8h-1zM317.8 227.6h1v6.1h-1zM318.6 226.7h1v7.0h-1zM319.5 227.5h1v6.2h-1zM320.3 228.3h1v5.4h-1zM321.1 228.2h1v5.5h-1zM322.0 228.2h1v5.5h-1zM322.8 227.6h1v6.1h-1zM323.6 227.3h1v6.4h-1zM324.5 227.8h1v5.9h-1zM325.3 227.2h1v6.5h-1zM326.1 228.3h1v5.4h-1zM326.9 227.0h1v6.7h-1zM327.8 228.3h1v5.4h-1zM328.6 228.1h1v5.6h-1zM329.4 228.8h1v4.9h-1zM330.3 227.2h1v6.5h-1zM331.1 226.9h1v6.8h-1zM331.9 227.1h1v6.6h-1zM332.8 227.8h1v5.9h-1zM333.6 226.8h1v6.9h-1zM334.4 226.2h1v7.5h-1zM335.2 225.0h1v8.7h-1zM336.1 225.9h1v7.8h-1zM336.9 227.0h1v6.7h-1zM337.7 226.7h1v7.0h-1zM338.6 226.3h1v7.4h-1zM339.4 227.1h1v6.6h-1zM340.2 228.7h1v5.0h-1zM341.1 226.5h1v7.2h-1zM341.9 227.4h1v6.3h-1zM342.7 226.4h1v7.3h-1zM343.5 226.5h1v7.2h-1zM345.2 227.2h1v6.5h-1zM346.0 226.5h1v7.2h-1zM346.9 227.5h1v6.2h-1zM348.5 227.4h1v6.3h-1zM349.4 226.5h1v7.2h-1zM350.2 228.0h1v5.7h-1zM351.0 228.0h1v5.7h-1zM351.8 229.6h1v4.1h-1zM352.7 228.7h1v5.0h-1zM353.5 227.9h1v5.8h-1zM354.3 227.5h1v6.2h-1zM355.2 228.0h1v5.7h-1zM356.0 229.0h1v4.7h-1zM356.8 228.0h1v5.7h-1zM357.6 227.5h1v6.2h-1zM358.5 225.5h1v8.2h-1zM359.3 226.8h1v6.9h-1zM361.0 227.0h1v6.7h-1zM361.8 228.7h1v5.0h-1zM362.6 227.7h1v6.0h-1zM364.3 226.9h1v6.8h-1zM365.1 226.6h1v7.1h-1zM365.9 226.7h1v7.0h-1zM366.8 227.0h1v6.7h-1zM367.6 227.4h1v6.3h-1zM368.4 227.5h1v6.2h-1zM369.3 229.0h1v4.7h-1zM370.1 226.2h1v7.5h-1zM371.8 227.4h1v6.3h-1zM373.4 227.6h1v6.1h-1zM374.2 227.1h1v6.6h-1zM375.1 229.7h1v4.0h-1zM375.9 228.5h1v5.2h-1zM376.7 228.8h1v4.9h-1zM377.6 227.7h1v6.0h-1zM378.4 227.5h1v6.2h-1zM379.2 229.4h1v4.3h-1zM380.1 227.2h1v6.5h-1zM380.9 227.0h1v6.7h-1zM381.7 226.7h1v7.0h-1zM382.5 228.4h1v5.3h-1zM383.4 226.2h1v7.5h-1zM384.2 226.9h1v6.8h-1zM385.0 227.1h1v6.6h-1zM385.9 226.9h1v6.8h-1zM386.7 227.3h1v6.4h-1zM387.5 228.1h1v5.6h-1zM388.4 227.5h1v6.2h-1zM389.2 229.0h1v4.7h-1zM390.0 228.1h1v5.6h-1zM390.8 228.9h1v4.8h-1zM391.7 227.8h1v5.9h-1zM392.5 228.0h1v5.7h-1zM393.3 227.6h1v6.1h-1zM394.2 228.2h1v5.5h-1zM395.0 228.1h1v5.6h-1zM395.8 227.8h1v5.9h-1zM396.7 227.0h1v6.7h-1zM397.5 226.3h1v7.4h-1zM398.3 227.1h1v6.6h-1zM399.1 227.2h1v6.5h-1zM400.0 227.1h1v6.6h-1zM400.8 228.3h1v5.4h-1zM401.6 227.0h1v6.7h-1zM402.5 226.7h1v7.0h-1zM403.3 230.2h1v3.5h-1zM404.1 228.3h1v5.4h-1zM405.0 227.9h1v5.8h-1zM407.6 226.0h1v7.7h-1zM408.4 227.0h1v6.7h-1zM409.3 226.3h1v7.4h-1zM410.9 227.3h1v6.4h-1zM411.7 226.7h1v7.0h-1zM412.6 226.3h1v7.4h-1zM413.4 226.9h1v6.8h-1zM414.2 227.1h1v6.6h-1zM415.9 227.3h1v6.4h-1zM416.7 226.3h1v7.4h-1zM417.6 226.0h1v7.7h-1zM418.4 226.7h1v7.0h-1zM420.0 227.3h1v6.4h-1zM420.9 226.7h1v7.0h-1zM421.7 227.5h1v6.2h-1zM422.5 227.2h1v6.5h-1zM423.4 226.5h1v7.2h-1zM425.0 226.2h1v7.5h-1zM426.7 226.7h1v7.0h-1zM428.3 227.1h1v6.6h-1zM429.2 226.2h1v7.5h-1zM430.0 226.5h1v7.2h-1zM430.8 228.6h1v5.1h-1zM431.7 228.4h1v5.3h-1zM432.5 227.4h1v6.3h-1zM433.3 225.8h1v7.9h-1zM434.2 225.4h1v8.3h-1zM435.0 225.9h1v7.8h-1zM435.8 225.1h1v8.6h-1zM436.6 226.1h1v7.6h-1zM437.5 226.7h1v7.0h-1zM438.3 227.1h1v6.6h-1zM439.1 227.0h1v6.7h-1zM440.0 226.0h1v7.7h-1zM440.8 227.4h1v6.3h-1zM441.6 227.5h1v6.2h-1zM442.5 228.0h1v5.7h-1zM443.3 228.9h1v4.8h-1zM444.1 226.9h1v6.8h-1zM444.9 227.6h1v6.1h-1zM445.8 227.1h1v6.6h-1zM446.6 229.6h1v4.1h-1zM447.4 228.4h1v5.3h-1zM448.3 227.4h1v6.3h-1zM449.1 227.9h1v5.8h-1zM450.8 227.4h1v6.3h-1zM451.6 226.7h1v7.0h-1zM453.2 226.8h1v6.9h-1zM454.1 226.9h1v6.8h-1zM454.9 227.1h1v6.6h-1zM455.7 227.2h1v6.5h-1zM456.6 227.8h1v5.9h-1zM457.4 227.6h1v6.1h-1zM458.2 226.0h1v7.7h-1zM459.1 226.9h1v6.8h-1zM459.9 227.0h1v6.7h-1zM460.7 227.3h1v6.4h-1zM462.4 227.6h1v6.1h-1zM464.0 227.7h1v6.0h-1zM464.9 226.4h1v7.3h-1zM465.7 227.9h1v5.8h-1zM466.5 227.8h1v5.9h-1zM467.4 227.6h1v6.1h-1zM468.2 229.1h1v4.6h-1zM469.0 227.3h1v6.4h-1zM469.8 227.5h1v6.2h-1zM470.7 227.6h1v6.1h-1zM471.5 227.5h1v6.2h-1zM472.3 227.7h1v6.0h-1zM473.2 229.0h1v4.7h-1zM474.0 225.6h1v8.1h-1zM474.8 226.2h1v7.5h-1zM475.7 225.9h1v7.8h-1zM476.5 226.5h1v7.2h-1zM477.3 227.2h1v6.5h-1zM478.1 228.1h1v5.6h-1zM479.0 227.7h1v6.0h-1zM479.8 228.6h1v5.1h-1zM480.6 226.7h1v7.0h-1zM481.5 226.6h1v7.1h-1zM482.3 226.2h1v7.5h-1zM483.1 226.2h1v7.5h-1zM484.8 226.1h1v7.6h-1zM486.4 227.8h1v5.9h-1zM487.3 228.5h1v5.2h-1zM488.1 227.4h1v6.3h-1zM488.9 227.5h1v6.2h-1zM489.8 227.5h1v6.2h-1zM490.6 227.7h1v6.0h-1zM491.4 227.2h1v6.5h-1zM492.3 226.2h1v7.5h-1zM493.1 228.2h1v5.5h-1zM493.9 226.7h1v7.0h-1zM494.7 226.4h1v7.3h-1zM495.6 225.5h1v8.2h-1zM496.4 226.9h1v6.8h-1zM497.2 227.9h1v5.8h-1zM498.1 227.8h1v5.9h-1zM498.9 227.5h1v6.2h-1zM499.7 228.6h1v5.1h-1zM500.6 227.4h1v6.3h-1zM501.4 228.5h1v5.2h-1zM502.2 227.3h1v6.4h-1zM503.9 227.4h1v6.3h-1zM504.7 226.3h1v7.4h-1zM506.4 227.3h1v6.4h-1zM507.2 227.0h1v6.7h-1zM508.0 225.8h1v7.9h-1zM508.9 227.3h1v6.4h-1zM509.7 229.3h1v4.4h-1zM510.5 227.2h1v6.5h-1zM511.3 227.8h1v5.9h-1zM512.2 227.4h1v6.3h-1zM513.0 228.8h1v4.9h-1zM513.8 226.8h1v6.9h-1zM514.7 227.0h1v6.7h-1zM517.2 226.7h1v7.0h-1zM518.0 228.9h1v4.8h-1zM518.8 228.9h1v4.8h-1zM519.6 227.9h1v5.8h-1zM520.5 228.6h1v5.1h-1zM521.3 227.6h1v6.1h-1zM522.1 228.6h1v5.1h-1zM523.8 225.6h1v8.1h-1zM524.6 225.1h1v8.6h-1zM525.5 226.8h1v6.9h-1zM526.3 227.5h1v6.2h-1zM527.1 227.2h1v6.5h-1zM527.9 226.7h1v7.0h-1zM528.8 226.9h1v6.8h-1zM529.6 227.3h1v6.4h-1zM531.3 226.5h1v7.2h-1zM532.1 227.2h1v6.5h-1zM532.9 227.6h1v6.1h-1zM533.8 228.7h1v5.0h-1zM534.6 228.7h1v5.0h-1zM535.4 229.4h1v4.3h-1zM536.2 228.7h1v5.0h-1zM537.1 227.9h1v5.8h-1zM537.9 227.6h1v6.1h-1zM538.7 227.5h1v6.2h-1zM539.6 226.8h1v6.9h-1zM540.4 228.1h1v5.6h-1zM541.2 226.2h1v7.5h-1zM542.1 228.3h1v5.4h-1zM542.9 227.3h1v6.4h-1zM543.7 226.4h1v7.3h-1zM545.4 226.1h1v7.6h-1zM546.2 226.9h1v6.8h-1zM547.0 224.7h1v9.0h-1zM547.9 226.3h1v7.4h-1zM548.7 225.7h1v8.0h-1zM549.5 225.7h1v8.0h-1zM550.4 228.6h1v5.1h-1zM552.0 228.2h1v5.5h-1zM553.7 227.6h1v6.1h-1zM554.5 228.9h1v4.8h-1zM555.3 228.5h1v5.2h-1zM556.2 227.7h1v6.0h-1zM557.0 227.4h1v6.3h-1zM557.8 227.5h1v6.2h-1zM558.7 228.7h1v5.0h-1zM559.5 228.0h1v5.7h-1zM560.3 227.5h1v6.2h-1zM561.2 226.6h1v7.1h-1zM562.0 226.8h1v6.9h-1zM562.8 226.9h1v6.8h-1zM563.6 229.2h1v4.5h-1zM564.5 228.1h1v5.6h-1zM565.3 228.5h1v5.2h-1zM566.1 230.2h1v3.5h-1zM567.0 228.2h1v5.5h-1zM567.8 227.8h1v5.9h-1zM568.6 228.1h1v5.6h-1zM569.5 227.5h1v6.2h-1zM570.3 227.4h1v6.3h-1zM571.9 227.9h1v5.8h-1zM572.8 228.2h1v5.5h-1zM573.6 228.1h1v5.6h-1zM574.4 226.5h1v7.2h-1zM575.3 227.1h1v6.6h-1zM576.1 226.9h1v6.8h-1zM576.9 226.2h1v7.5h-1zM577.8 225.2h1v8.5h-1zM578.6 226.4h1v7.3h-1zM580.2 228.2h1v5.5h-1zM581.1 227.6h1v6.1h-1zM583.6 227.2h1v6.5h-1zM584.4 226.5h1v7.2h-1zM585.2 225.7h1v8.0h-1zM586.1 227.2h1v6.5h-1zM586.9 228.4h1v5.3h-1zM587.7 228.1h1v5.6h-1zM588.5 228.1h1v5.6h-1zM589.4 228.1h1v5.6h-1zM590.2 227.4h1v6.3h-1zM591.0 227.7h1v6.0h-1zM591.9 226.3h1v7.4h-1zM592.7 226.7h1v7.0h-1zM593.5 226.8h1v6.9h-1zM594.4 226.9h1v6.8h-1zM596.0 226.6h1v7.1h-1zM596.8 226.5h1v7.2h-1zM597.7 227.8h1v5.9h-1zM598.5 226.0h1v7.7h-1zM599.3 226.9h1v6.8h-1zM600.2 226.8h1v6.9h-1zM601.0 226.3h1v7.4h-1zM601.8 226.5h1v7.2h-1zM602.7 226.5h1v7.2h-1zM603.5 228.7h1v5.0h-1zM604.3 227.9h1v5.8h-1zM605.1 227.3h1v6.4h-1zM606.0 226.8h1v6.9h-1zM607.6 228.3h1v5.4h-1zM609.3 227.4h1v6.3h-1zM610.1 228.2h1v5.5h-1zM611.0 228.9h1v4.8h-1zM611.8 228.3h1v5.4h-1zM613.4 227.0h1v6.7h-1zM614.3 227.4h1v6.3h-1zM615.9 227.5h1v6.2h-1zM616.8 228.5h1v5.2h-1zM617.6 227.9h1v5.8h-1zM618.4 228.3h1v5.4h-1zM619.3 226.6h1v7.1h-1zM620.1 226.0h1v7.7h-1zM621.7 226.7h1v7.0h-1zM622.6 228.2h1v5.5h-1zM623.4 226.2h1v7.5h-1zM624.2 227.1h1v6.6h-1zM625.1 225.5h1v8.2h-1zM625.9 226.4h1v7.3h-1zM626.7 227.3h1v6.4h-1zM627.6 227.6h1v6.1h-1zM628.4 227.1h1v6.6h-1zM629.2 227.3h1v6.4h-1z"/>
<path fill="#9272d2" d="M62.3 97.5h1.2v2.1h-1.2zM62.3 168.0h1.2v1.6h-1.2zM62.3 210.9h1.2v1.1h-1.2zM62.3 229.6h1.2v4.1h-1.2zM61.9 229.6h1.9v1.2h-1.9zM62.3 251.9h1.2v3.1h-1.2zM62.3 273.4h1.2v3.1h-1.2zM62.3 294.7h1.2v3.1h-1.2zM95.3 97.5h1.2v2.1h-1.2zM95.3 168.0h1.2v1.6h-1.2zM95.3 189.9h1.2v1.1h-1.2zM95.3 210.4h1.2v1.6h-1.2zM95.3 227.6h1.2v6.1h-1.2zM95.0 227.6h1.9v1.2h-1.9zM95.3 251.9h1.2v3.1h-1.2zM95.3 273.4h1.2v3.1h-1.2zM95.3 295.2h1.2v2.6h-1.2zM101.8 97.5h1.2v2.1h-1.2zM101.8 168.0h1.2v1.6h-1.2zM101.8 189.9h1.2v1.1h-1.2zM101.8 210.4h1.2v1.6h-1.2zM101.8 228.6h1.2v5.1h-1.2zM101.5 228.6h1.9v1.2h-1.9zM101.8 252.4h1.2v2.6h-1.2zM101.8 272.9h1.2v3.6h-1.2zM101.5 272.9h1.9v1.2h-1.9zM101.8 294.7h1.2v3.1h-1.2zM118.3 97.5h1.2v2.1h-1.2zM127.8 87.7h1.2v11.9h-1.2zM127.5 87.7h1.9v1.2h-1.9zM127.8 166.5h1.2v3.1h-1.2zM127.8 189.9h1.2v1.1h-1.2zM127.8 209.9h1.2v2.1h-1.2zM127.8 227.6h1.2v6.1h-1.2zM127.5 227.6h1.9v1.2h-1.9zM127.8 249.9h1.2v5.1h-1.2zM127.5 249.9h1.9v1.2h-1.9zM127.8 270.4h1.2v6.1h-1.2zM127.5 270.4h1.9v1.2h-1.9zM127.8 288.7h1.2v9.1h-1.2zM127.5 288.7h1.9v1.2h-1.9zM396.1 110.6h1v10.6h-1zM395.8 110.6h1.7v1.2h-1.7zM396.1 164.0h1v5.6h-1zM395.8 164.0h1.7v1.2h-1.7zM396.1 189.4h1v1.6h-1zM396.1 205.6h1v6.4h-1zM395.8 205.6h1.7v1.2h-1.7zM396.1 224.6h1v9.1h-1zM395.8 224.6h1.7v1.2h-1.7zM396.1 249.4h1v5.6h-1zM395.8 249.4h1.7v1.2h-1.7zM396.1 273.4h1v3.1h-1zM396.1 289.2h1v8.6h-1zM395.8 289.2h1.7v1.2h-1.7zM398.5 110.6h1v10.6h-1zM398.1 110.6h1.7v1.2h-1.7zM398.5 189.4h1v1.6h-1zM398.5 206.4h1v5.6h-1zM398.1 206.4h1.7v1.2h-1.7zM398.5 224.6h1v9.1h-1zM398.1 224.6h1.7v1.2h-1.7zM398.5 249.4h1v5.6h-1zM398.1 249.4h1.7v1.2h-1.7zM398.5 273.4h1v3.1h-1zM398.5 289.3h1v8.5h-1zM398.1 289.3h1.7v1.2h-1.7zM400.1 110.6h1v10.6h-1zM399.8 110.6h1.7v1.2h-1.7zM400.1 189.4h1v1.6h-1zM400.1 205.5h1v6.5h-1zM399.8 205.5h1.7v1.2h-1.7zM400.1 224.6h1v9.1h-1zM399.8 224.6h1.7v1.2h-1.7zM400.1 249.4h1v5.6h-1zM399.8 249.4h1.7v1.2h-1.7zM400.1 273.4h1v3.1h-1zM400.1 288.3h1v9.5h-1zM399.8 288.3h1.7v1.2h-1.7zM551.7 67.0h1v11.1h-1zM551.4 67.0h1.7v1.2h-1.7zM551.7 147.0h1v1.1h-1zM551.7 189.9h1v1.1h-1zM551.7 210.9h1v1.1h-1zM551.7 229.6h1v4.1h-1zM551.4 229.6h1.7v1.2h-1.7zM551.7 253.9h1v1.1h-1zM551.7 275.4h1v1.1h-1zM551.7 295.7h1v2.1h-1zM607.9 69.5h1.2v8.6h-1.2zM607.5 69.5h1.9v1.2h-1.9zM607.9 189.9h1.2v1.1h-1.2zM607.9 210.9h1.2v1.1h-1.2zM607.9 230.6h1.2v3.1h-1.2zM607.9 253.9h1.2v1.1h-1.2zM607.9 275.4h1.2v1.1h-1.2zM607.9 292.7h1.2v5.1h-1.2zM607.5 292.7h1.9v1.2h-1.9zM401.3 112.1h1v9.1h-1zM400.9 112.1h1.7v1.2h-1.7zM401.3 189.4h1v1.6h-1zM401.3 207.9h1v4.1h-1zM400.9 207.9h1.7v1.2h-1.7zM401.3 225.6h1v8.1h-1zM400.9 225.6h1.7v1.2h-1.7zM401.3 249.9h1v5.1h-1zM400.9 249.9h1.7v1.2h-1.7zM401.3 273.4h1v3.1h-1zM401.3 287.7h1v10.1h-1zM400.9 287.7h1.7v1.2h-1.7zM634.2 66.8h0.8v11.3h-0.8zM636.1 66.8h0.8v11.3h-0.8zM638.1 66.8h0.8v11.3h-0.8zM641.3 66.8h0.8v11.3h-0.8zM643.9 66.8h0.8v11.3h-0.8zM646.5 68.0h0.8v10.1h-0.8zM648.5 68.0h0.8v10.1h-0.8zM650.4 66.8h0.8v11.3h-0.8zM653.7 66.8h0.8v11.3h-0.8zM634.8 135.7h0.95v12.4h-0.95zM638.4 135.7h0.95v12.4h-0.95zM631.7 116.1h1v5.1h-1zM635.0 168.5h1v1.1h-1zM640.9 158.5h0.95v11.1h-0.95zM644.4 158.5h0.95v11.1h-0.95zM648.2 164.5h1v5.1h-1zM651.8 167.5h1v2.1h-1zM654.1 166.5h1v3.1h-1zM632.8 189.9h1v1.1h-1zM637.6 184.9h1v6.1h-1zM641.6 179.9h1v11.1h-1zM648.2 186.4h1v4.6h-1zM651.5 188.4h1v2.6h-1zM653.7 187.9h1v3.1h-1zM632.3 208.9h1v3.1h-1zM637.9 210.4h1v1.6h-1zM641.3 209.9h1v2.1h-1zM654.7 208.9h1v3.1h-1zM632.8 229.1h1v4.6h-1zM637.9 226.1h1v7.6h-1zM640.9 224.6h1v9.1h-1zM648.0 225.1h1v8.6h-1zM651.1 225.6h1v8.1h-1zM654.1 225.1h1v8.6h-1zM631.8 247.9h1v7.1h-1zM637.4 249.9h1v5.1h-1zM641.0 243.9h1v11.1h-1zM648.2 248.9h1v6.1h-1zM651.5 252.9h1v2.1h-1zM653.7 251.9h1v3.1h-1zM631.8 271.4h1v5.1h-1zM637.4 269.4h1v7.1h-1zM641.0 266.9h1v9.6h-1zM648.2 269.4h1v7.1h-1zM651.5 273.4h1v3.1h-1zM653.7 272.9h1v3.6h-1zM631.8 287.7h1v10.1h-1zM639.3 285.7h1v12.1h-1zM641.0 285.7h1v12.1h-1zM651.8 292.7h1v5.1h-1zM654.1 291.7h1v6.1h-1z"/>
<path fill="#3b86c6" d="M115.9 69.0h1.2v9.1h-1.2zM115.6 69.0h1.9v1.2h-1.9zM115.9 166.5h1.2v3.1h-1.2zM115.9 189.9h1.2v1.1h-1.2zM115.9 209.9h1.2v2.1h-1.2zM115.9 227.6h1.2v6.1h-1.2zM115.6 227.6h1.9v1.2h-1.9zM115.9 253.4h1.2v1.6h-1.2zM115.9 274.4h1.2v2.1h-1.2zM115.9 291.7h1.2v6.1h-1.2zM115.6 291.7h1.9v1.2h-1.9zM129.2 96.5h1.2v3.1h-1.2zM129.2 166.5h1.2v3.1h-1.2zM129.2 189.9h1.2v1.1h-1.2zM129.2 209.9h1.2v2.1h-1.2zM129.2 227.6h1.2v6.1h-1.2zM128.9 227.6h1.9v1.2h-1.9zM129.2 249.9h1.2v5.1h-1.2zM128.9 249.9h1.9v1.2h-1.9zM129.2 271.4h1.2v5.1h-1.2zM128.9 271.4h1.9v1.2h-1.9zM129.2 290.7h1.2v7.1h-1.2zM128.9 290.7h1.9v1.2h-1.9zM142.4 95.5h1.2v4.1h-1.2zM142.1 95.5h1.9v1.2h-1.9zM142.4 189.9h1.2v1.1h-1.2zM142.4 209.4h1.2v2.6h-1.2zM142.4 227.6h1.2v6.1h-1.2zM142.1 227.6h1.9v1.2h-1.9zM142.4 250.9h1.2v4.1h-1.2zM142.1 250.9h1.9v1.2h-1.9zM142.4 272.4h1.2v4.1h-1.2zM142.1 272.4h1.9v1.2h-1.9zM142.4 289.7h1.2v8.1h-1.2zM142.1 289.7h1.9v1.2h-1.9zM175.8 97.0h1.2v2.6h-1.2zM175.8 189.9h1.2v1.1h-1.2zM175.8 209.9h1.2v2.1h-1.2zM175.8 229.0h1.2v4.7h-1.2zM175.5 229.0h1.9v1.2h-1.9zM175.8 251.9h1.2v3.1h-1.2zM175.8 273.4h1.2v3.1h-1.2zM175.8 290.1h1.2v7.7h-1.2zM175.5 290.1h1.9v1.2h-1.9zM189.2 96.0h1.2v3.6h-1.2zM188.9 96.0h1.9v1.2h-1.9zM189.2 189.9h1.2v1.1h-1.2zM189.2 209.9h1.2v2.1h-1.2zM189.2 227.9h1.2v5.8h-1.2zM188.9 227.9h1.9v1.2h-1.9zM189.2 251.3h1.2v3.7h-1.2zM188.9 251.3h1.9v1.2h-1.9zM189.2 272.8h1.2v3.7h-1.2zM188.9 272.8h1.9v1.2h-1.9zM189.2 288.3h1.2v9.5h-1.2zM188.9 288.3h1.9v1.2h-1.9zM195.7 97.0h1.2v2.6h-1.2zM195.7 189.9h1.2v1.1h-1.2zM195.7 209.9h1.2v2.1h-1.2zM195.7 228.9h1.2v4.8h-1.2zM195.4 228.9h1.9v1.2h-1.9zM195.7 251.9h1.2v3.1h-1.2zM195.7 273.4h1.2v3.1h-1.2zM195.7 290.0h1.2v7.8h-1.2zM195.4 290.0h1.9v1.2h-1.9zM199.3 98.0h1.2v1.6h-1.2zM199.3 189.9h1.2v1.1h-1.2zM199.3 209.9h1.2v2.1h-1.2zM199.3 228.4h1.2v5.3h-1.2zM199.0 228.4h1.9v1.2h-1.9zM199.3 251.6h1.2v3.4h-1.2zM199.0 251.6h1.9v1.2h-1.9zM199.3 273.1h1.2v3.4h-1.2zM199.0 273.1h1.9v1.2h-1.9zM199.3 289.2h1.2v8.6h-1.2zM199.0 289.2h1.9v1.2h-1.9zM182.4 68.6h1.2v9.5h-1.2zM182.1 68.6h1.9v1.2h-1.9zM182.4 97.0h1.2v2.6h-1.2zM182.4 189.9h1.2v1.1h-1.2zM182.4 209.9h1.2v2.1h-1.2zM182.4 227.6h1.2v6.1h-1.2zM182.1 227.6h1.9v1.2h-1.9zM182.4 251.9h1.2v3.1h-1.2zM182.4 273.4h1.2v3.1h-1.2zM182.4 288.7h1.2v9.1h-1.2zM182.1 288.7h1.9v1.2h-1.9zM202.3 110.9h1.2v10.3h-1.2zM202.0 110.9h1.9v1.2h-1.9zM202.3 189.4h1.2v1.6h-1.2zM202.3 209.9h1.2v2.1h-1.2zM202.3 227.6h1.2v6.1h-1.2zM202.0 227.6h1.9v1.2h-1.9zM202.3 242.9h1.2v12.1h-1.2zM202.0 242.9h1.9v1.2h-1.9zM202.3 267.4h1.2v9.1h-1.2zM202.0 267.4h1.9v1.2h-1.9zM202.3 285.7h1.2v12.1h-1.2zM202.0 285.7h1.9v1.2h-1.9zM258.3 111.6h1.2v9.6h-1.2zM257.9 111.6h1.9v1.2h-1.9zM258.3 189.4h1.2v1.6h-1.2zM258.3 200.0h1.2v12.0h-1.2zM257.9 200.0h1.9v1.2h-1.9zM258.3 228.6h1.2v5.1h-1.2zM257.9 228.6h1.9v1.2h-1.9zM258.3 244.9h1.2v10.1h-1.2zM257.9 244.9h1.9v1.2h-1.9zM258.3 268.4h1.2v8.1h-1.2zM257.9 268.4h1.9v1.2h-1.9zM258.3 285.7h1.2v12.1h-1.2zM257.9 285.7h1.9v1.2h-1.9zM271.6 112.6h1.2v8.6h-1.2zM271.2 112.6h1.9v1.2h-1.9zM271.6 189.4h1.2v1.6h-1.2zM271.6 200.0h1.2v12.0h-1.2zM271.2 200.0h1.9v1.2h-1.9zM271.6 227.6h1.2v6.1h-1.2zM271.2 227.6h1.9v1.2h-1.9zM271.6 244.9h1.2v10.1h-1.2zM271.2 244.9h1.9v1.2h-1.9zM271.6 269.9h1.2v6.6h-1.2zM271.2 269.9h1.9v1.2h-1.9zM271.6 285.7h1.2v12.1h-1.2zM271.2 285.7h1.9v1.2h-1.9zM278.2 95.5h1.2v4.1h-1.2zM277.9 95.5h1.9v1.2h-1.9zM278.2 118.1h1.2v3.1h-1.2zM278.2 189.4h1.2v1.6h-1.2zM278.2 208.9h1.2v3.1h-1.2zM278.2 228.6h1.2v5.1h-1.2zM277.9 228.6h1.9v1.2h-1.9zM278.2 250.4h1.2v4.6h-1.2zM277.9 250.4h1.9v1.2h-1.9zM278.2 274.4h1.2v2.1h-1.2zM278.2 290.7h1.2v7.1h-1.2zM277.9 290.7h1.9v1.2h-1.9zM321.1 110.6h1.2v10.6h-1.2zM320.7 110.6h1.9v1.2h-1.9zM321.1 188.9h1.2v2.1h-1.2zM321.1 200.0h1.2v12.0h-1.2zM320.7 200.0h1.9v1.2h-1.9zM321.1 227.1h1.2v6.6h-1.2zM320.7 227.1h1.9v1.2h-1.9zM321.1 242.9h1.2v12.1h-1.2zM320.7 242.9h1.9v1.2h-1.9zM321.1 266.4h1.2v10.1h-1.2zM320.7 266.4h1.9v1.2h-1.9zM321.1 285.7h1.2v12.1h-1.2zM320.7 285.7h1.9v1.2h-1.9zM324.6 112.1h1.2v9.1h-1.2zM324.2 112.1h1.9v1.2h-1.9zM324.6 166.0h1.2v3.6h-1.2zM324.2 166.0h1.9v1.2h-1.9zM324.6 189.4h1.2v1.6h-1.2zM324.6 200.0h1.2v12.0h-1.2zM324.2 200.0h1.9v1.2h-1.9zM324.6 227.6h1.2v6.1h-1.2zM324.2 227.6h1.9v1.2h-1.9zM324.6 243.9h1.2v11.1h-1.2zM324.2 243.9h1.9v1.2h-1.9zM324.6 267.9h1.2v8.6h-1.2zM324.2 267.9h1.9v1.2h-1.9zM324.6 288.7h1.2v9.1h-1.2zM324.2 288.7h1.9v1.2h-1.9zM331.2 95.0h1.2v4.6h-1.2zM330.9 95.0h1.9v1.2h-1.9zM331.2 116.6h1.2v4.6h-1.2zM330.9 116.6h1.9v1.2h-1.9zM331.2 188.9h1.2v2.1h-1.2zM331.2 200.0h1.2v12.0h-1.2zM330.9 200.0h1.9v1.2h-1.9zM331.2 228.6h1.2v5.1h-1.2zM330.9 228.6h1.9v1.2h-1.9zM331.2 250.9h1.2v4.1h-1.2zM330.9 250.9h1.9v1.2h-1.9zM331.2 274.4h1.2v2.1h-1.2zM331.2 287.7h1.2v10.1h-1.2zM330.9 287.7h1.9v1.2h-1.9zM360.7 118.1h1.2v3.1h-1.2zM360.7 188.9h1.2v2.1h-1.2zM360.7 200.0h1.2v12.0h-1.2zM360.4 200.0h1.9v1.2h-1.9zM360.7 227.1h1.2v6.6h-1.2zM360.4 227.1h1.9v1.2h-1.9zM360.7 246.9h1.2v8.1h-1.2zM360.4 246.9h1.9v1.2h-1.9zM360.7 271.4h1.2v5.1h-1.2zM360.4 271.4h1.9v1.2h-1.9zM360.7 287.7h1.2v10.1h-1.2zM360.4 287.7h1.9v1.2h-1.9zM364.2 116.6h1.2v4.6h-1.2zM363.9 116.6h1.9v1.2h-1.9zM364.2 162.5h1.2v7.1h-1.2zM363.9 162.5h1.9v1.2h-1.9zM364.2 188.9h1.2v2.1h-1.2zM364.2 200.0h1.2v12.0h-1.2zM363.9 200.0h1.9v1.2h-1.9zM364.2 227.6h1.2v6.1h-1.2zM363.9 227.6h1.9v1.2h-1.9zM364.2 246.9h1.2v8.1h-1.2zM363.9 246.9h1.9v1.2h-1.9zM364.2 272.4h1.2v4.1h-1.2zM363.9 272.4h1.9v1.2h-1.9zM364.2 287.7h1.2v10.1h-1.2zM363.9 287.7h1.9v1.2h-1.9zM367.4 118.6h1.2v2.6h-1.2zM367.4 188.9h1.2v2.1h-1.2zM367.4 202.9h1.2v9.1h-1.2zM367.0 202.9h1.9v1.2h-1.9zM367.4 227.6h1.2v6.1h-1.2zM367.0 227.6h1.9v1.2h-1.9zM367.4 250.9h1.2v4.1h-1.2zM367.0 250.9h1.9v1.2h-1.9zM367.4 274.4h1.2v2.1h-1.2zM367.4 287.7h1.2v10.1h-1.2zM367.0 287.7h1.9v1.2h-1.9zM395.3 110.6h1v10.6h-1zM394.9 110.6h1.7v1.2h-1.7zM395.3 164.0h1v5.6h-1zM394.9 164.0h1.7v1.2h-1.7zM395.3 189.4h1v1.6h-1zM395.3 204.3h1v7.7h-1zM394.9 204.3h1.7v1.2h-1.7zM395.3 224.6h1v9.1h-1zM394.9 224.6h1.7v1.2h-1.7zM395.3 249.4h1v5.6h-1zM394.9 249.4h1.7v1.2h-1.7zM395.3 273.4h1v3.1h-1zM395.3 287.7h1v10.1h-1zM394.9 287.7h1.7v1.2h-1.7zM397.7 110.6h1v10.6h-1zM397.4 110.6h1.7v1.2h-1.7zM397.7 189.4h1v1.6h-1zM397.7 206.5h1v5.5h-1zM397.4 206.5h1.7v1.2h-1.7zM397.7 224.6h1v9.1h-1zM397.4 224.6h1.7v1.2h-1.7zM397.7 249.4h1v5.6h-1zM397.4 249.4h1.7v1.2h-1.7zM397.7 273.4h1v3.1h-1zM397.7 287.5h1v10.3h-1zM397.4 287.5h1.7v1.2h-1.7zM633.5 66.8h0.8v11.3h-0.8zM636.8 66.8h0.8v11.3h-0.8zM638.7 66.8h0.8v11.3h-0.8zM640.7 66.8h0.8v11.3h-0.8zM643.3 66.8h0.8v11.3h-0.8zM644.6 66.8h0.8v11.3h-0.8zM647.8 68.0h0.8v10.1h-0.8zM651.1 66.8h0.8v11.3h-0.8zM652.4 66.8h0.8v11.3h-0.8zM655.0 66.8h0.8v11.3h-0.8zM633.9 135.7h0.95v12.4h-0.95zM637.5 135.7h0.95v12.4h-0.95zM640.0 158.5h0.95v11.1h-0.95zM642.7 158.5h0.95v11.1h-0.95zM650.6 168.0h1v1.6h-1zM652.9 167.0h1v2.6h-1zM655.0 167.5h1v2.1h-1zM631.8 188.4h1v2.6h-1zM635.4 186.9h1v4.1h-1zM639.9 181.9h1v9.1h-1zM642.6 182.9h1v8.1h-1zM650.3 188.9h1v2.1h-1zM652.7 187.9h1v3.1h-1zM654.7 187.9h1v3.1h-1zM631.8 207.9h1v4.1h-1zM635.8 200.0h1v12.0h-1zM639.0 200.0h1v12.0h-1zM652.4 203.9h1v8.1h-1zM631.8 228.6h1v5.1h-1zM635.8 227.1h1v6.6h-1zM639.9 224.6h1v9.1h-1zM642.9 224.6h1v9.1h-1zM652.1 225.1h1v8.6h-1zM632.2 249.9h1v5.1h-1zM635.4 251.9h1v3.1h-1zM639.3 244.9h1v10.1h-1zM641.9 243.9h1v11.1h-1zM652.7 251.9h1v3.1h-1zM632.2 272.4h1v4.1h-1zM635.4 272.4h1v4.1h-1zM639.3 267.4h1v9.1h-1zM641.9 266.9h1v9.6h-1zM652.7 273.4h1v3.1h-1zM632.3 289.7h1v8.1h-1zM635.8 287.2h1v10.6h-1zM637.6 287.7h1v10.1h-1zM641.9 285.7h1v12.1h-1zM652.4 287.7h1v10.1h-1zM654.7 288.2h1v9.6h-1z"/>
<path fill="#3aa64a" d="M117.3 68.5h1.2v9.6h-1.2zM117.0 68.5h1.9v1.2h-1.9zM117.3 166.5h1.2v3.1h-1.2zM117.3 189.9h1.2v1.1h-1.2zM117.3 209.9h1.2v2.1h-1.2zM117.3 228.6h1.2v5.1h-1.2zM117.0 228.6h1.9v1.2h-1.9zM117.3 253.4h1.2v1.6h-1.2zM117.3 274.4h1.2v2.1h-1.2zM117.3 291.7h1.2v6.1h-1.2zM117.0 291.7h1.9v1.2h-1.9zM121.4 67.5h1.2v10.6h-1.2zM121.1 67.5h1.9v1.2h-1.9zM121.4 166.5h1.2v3.1h-1.2zM121.4 189.9h1.2v1.1h-1.2zM121.4 209.9h1.2v2.1h-1.2zM121.4 227.6h1.2v6.1h-1.2zM121.1 227.6h1.9v1.2h-1.9zM121.4 252.4h1.2v2.6h-1.2zM121.4 273.9h1.2v2.6h-1.2zM121.4 289.7h1.2v8.1h-1.2zM121.1 289.7h1.9v1.2h-1.9zM144.8 91.5h1.2v8.1h-1.2zM144.5 91.5h1.9v1.2h-1.9zM144.8 189.9h1.2v1.1h-1.2zM144.8 208.9h1.2v3.1h-1.2zM144.8 227.6h1.2v6.1h-1.2zM144.5 227.6h1.9v1.2h-1.9zM144.8 249.4h1.2v5.6h-1.2zM144.5 249.4h1.9v1.2h-1.9zM144.8 269.9h1.2v6.6h-1.2zM144.5 269.9h1.9v1.2h-1.9zM144.8 286.7h1.2v11.1h-1.2zM144.5 286.7h1.9v1.2h-1.9zM147.0 96.5h1.2v3.1h-1.2zM147.0 189.9h1.2v1.1h-1.2zM147.0 209.4h1.2v2.6h-1.2zM147.0 228.6h1.2v5.1h-1.2zM146.7 228.6h1.9v1.2h-1.9zM147.0 250.9h1.2v4.1h-1.2zM146.7 250.9h1.9v1.2h-1.9zM147.0 272.4h1.2v4.1h-1.2zM146.7 272.4h1.9v1.2h-1.9zM147.0 288.7h1.2v9.1h-1.2zM146.7 288.7h1.9v1.2h-1.9zM161.5 94.2h1.2v5.4h-1.2zM161.2 94.2h1.9v1.2h-1.9zM161.5 189.9h1.2v1.1h-1.2zM161.5 209.9h1.2v2.1h-1.2zM161.5 227.1h1.2v6.6h-1.2zM161.2 227.1h1.9v1.2h-1.9zM161.5 250.8h1.2v4.2h-1.2zM161.2 250.8h1.9v1.2h-1.9zM161.5 272.3h1.2v4.2h-1.2zM161.2 272.3h1.9v1.2h-1.9zM161.5 287.1h1.2v10.7h-1.2zM161.2 287.1h1.9v1.2h-1.9zM168.1 94.8h1.2v4.8h-1.2zM167.8 94.8h1.9v1.2h-1.9zM168.1 189.9h1.2v1.1h-1.2zM168.1 209.9h1.2v2.1h-1.2zM168.1 227.1h1.2v6.6h-1.2zM167.8 227.1h1.9v1.2h-1.9zM168.1 250.8h1.2v4.2h-1.2zM167.8 250.8h1.9v1.2h-1.9zM168.1 272.3h1.2v4.2h-1.2zM167.8 272.3h1.9v1.2h-1.9zM168.1 287.1h1.2v10.7h-1.2zM167.8 287.1h1.9v1.2h-1.9zM174.6 95.0h1.2v4.6h-1.2zM174.2 95.0h1.9v1.2h-1.9zM174.6 189.9h1.2v1.1h-1.2zM174.6 209.9h1.2v2.1h-1.2zM174.6 227.2h1.2v6.5h-1.2zM174.2 227.2h1.9v1.2h-1.9zM174.6 250.8h1.2v4.2h-1.2zM174.2 250.8h1.9v1.2h-1.9zM174.6 272.3h1.2v4.2h-1.2zM174.2 272.3h1.9v1.2h-1.9zM174.6 287.2h1.2v10.6h-1.2zM174.2 287.2h1.9v1.2h-1.9zM177.7 97.0h1.2v2.6h-1.2zM177.7 189.9h1.2v1.1h-1.2zM177.7 209.9h1.2v2.1h-1.2zM177.7 227.2h1.2v6.5h-1.2zM177.4 227.2h1.9v1.2h-1.9zM177.7 250.8h1.2v4.2h-1.2zM177.4 250.8h1.9v1.2h-1.9zM177.7 272.3h1.2v4.2h-1.2zM177.4 272.3h1.9v1.2h-1.9zM177.7 287.2h1.2v10.6h-1.2zM177.4 287.2h1.9v1.2h-1.9zM181.2 97.0h1.2v2.6h-1.2zM181.2 189.9h1.2v1.1h-1.2zM181.2 209.9h1.2v2.1h-1.2zM181.2 229.2h1.2v4.5h-1.2zM180.9 229.2h1.9v1.2h-1.9zM181.2 252.1h1.2v2.9h-1.2zM181.2 273.6h1.2v2.9h-1.2zM181.2 290.5h1.2v7.3h-1.2zM180.9 290.5h1.9v1.2h-1.9zM184.8 95.5h1.2v4.1h-1.2zM184.5 95.5h1.9v1.2h-1.9zM184.8 189.9h1.2v1.1h-1.2zM184.8 209.9h1.2v2.1h-1.2zM184.8 228.1h1.2v5.6h-1.2zM184.5 228.1h1.9v1.2h-1.9zM184.8 251.4h1.2v3.6h-1.2zM184.5 251.4h1.9v1.2h-1.9zM184.8 272.9h1.2v3.6h-1.2zM184.5 272.9h1.9v1.2h-1.9zM184.8 288.6h1.2v9.2h-1.2zM184.5 288.6h1.9v1.2h-1.9zM191.4 94.5h1.2v5.1h-1.2zM191.1 94.5h1.9v1.2h-1.9zM191.4 189.9h1.2v1.1h-1.2zM191.4 209.9h1.2v2.1h-1.2zM191.4 227.5h1.2v6.2h-1.2zM191.1 227.5h1.9v1.2h-1.9zM191.4 251.0h1.2v4.0h-1.2zM191.1 251.0h1.9v1.2h-1.9zM191.4 272.5h1.2v4.0h-1.2zM191.1 272.5h1.9v1.2h-1.9zM191.4 287.8h1.2v10.0h-1.2zM191.1 287.8h1.9v1.2h-1.9zM198.0 95.5h1.2v4.1h-1.2zM197.7 95.5h1.9v1.2h-1.9zM198.0 189.9h1.2v1.1h-1.2zM198.0 209.9h1.2v2.1h-1.2zM198.0 227.7h1.2v6.0h-1.2zM197.7 227.7h1.9v1.2h-1.9zM198.0 251.1h1.2v3.9h-1.2zM197.7 251.1h1.9v1.2h-1.9zM198.0 272.6h1.2v3.9h-1.2zM197.7 272.6h1.9v1.2h-1.9zM198.0 288.0h1.2v9.8h-1.2zM197.7 288.0h1.9v1.2h-1.9zM201.0 96.5h1.2v3.1h-1.2zM201.0 189.9h1.2v1.1h-1.2zM201.0 209.9h1.2v2.1h-1.2zM201.0 227.4h1.2v6.3h-1.2zM200.7 227.4h1.9v1.2h-1.9zM201.0 251.0h1.2v4.0h-1.2zM200.7 251.0h1.9v1.2h-1.9zM201.0 272.5h1.2v4.0h-1.2zM200.7 272.5h1.9v1.2h-1.9zM201.0 287.6h1.2v10.2h-1.2zM200.7 287.6h1.9v1.2h-1.9zM204.6 92.5h1.2v7.1h-1.2zM204.2 92.5h1.9v1.2h-1.9zM204.6 189.9h1.2v1.1h-1.2zM204.6 209.9h1.2v2.1h-1.2zM204.6 228.1h1.2v5.6h-1.2zM204.2 228.1h1.9v1.2h-1.9zM204.6 251.4h1.2v3.6h-1.2zM204.2 251.4h1.9v1.2h-1.9zM204.6 272.9h1.2v3.6h-1.2zM204.2 272.9h1.9v1.2h-1.9zM204.6 288.8h1.2v9.0h-1.2zM204.2 288.8h1.9v1.2h-1.9zM214.5 114.1h1.2v7.1h-1.2zM214.2 114.1h1.9v1.2h-1.9zM214.5 189.9h1.2v1.1h-1.2zM214.5 210.9h1.2v1.1h-1.2zM214.5 228.6h1.2v5.1h-1.2zM214.2 228.6h1.9v1.2h-1.9zM214.5 245.9h1.2v9.1h-1.2zM214.2 245.9h1.9v1.2h-1.9zM214.5 271.4h1.2v5.1h-1.2zM214.2 271.4h1.9v1.2h-1.9zM214.5 289.7h1.2v8.1h-1.2zM214.2 289.7h1.9v1.2h-1.9zM226.1 111.6h1.2v9.6h-1.2zM225.8 111.6h1.9v1.2h-1.9zM226.1 189.9h1.2v1.1h-1.2zM226.1 210.4h1.2v1.6h-1.2zM226.1 227.6h1.2v6.1h-1.2zM225.8 227.6h1.9v1.2h-1.9zM226.1 242.9h1.2v12.1h-1.2zM225.8 242.9h1.9v1.2h-1.9zM226.1 266.4h1.2v10.1h-1.2zM225.8 266.4h1.9v1.2h-1.9zM226.1 285.7h1.2v12.1h-1.2zM225.8 285.7h1.9v1.2h-1.9zM229.9 111.6h1.2v9.6h-1.2zM229.5 111.6h1.9v1.2h-1.9zM229.9 189.9h1.2v1.1h-1.2zM229.9 210.4h1.2v1.6h-1.2zM229.9 228.6h1.2v5.1h-1.2zM229.5 228.6h1.9v1.2h-1.9zM229.9 242.9h1.2v12.1h-1.2zM229.5 242.9h1.9v1.2h-1.9zM229.9 267.4h1.2v9.1h-1.2zM229.5 267.4h1.9v1.2h-1.9zM229.9 285.7h1.2v12.1h-1.2zM229.5 285.7h1.9v1.2h-1.9zM233.1 111.1h1.2v10.1h-1.2zM232.7 111.1h1.9v1.2h-1.9zM233.1 189.4h1.2v1.6h-1.2zM233.1 200.0h1.2v12.0h-1.2zM232.7 200.0h1.9v1.2h-1.9zM233.1 228.6h1.2v5.1h-1.2zM232.7 228.6h1.9v1.2h-1.9zM233.1 242.9h1.2v12.1h-1.2zM232.7 242.9h1.9v1.2h-1.9zM233.1 267.4h1.2v9.1h-1.2zM232.7 267.4h1.9v1.2h-1.9zM233.1 285.7h1.2v12.1h-1.2zM232.7 285.7h1.9v1.2h-1.9zM247.2 97.0h1.2v2.6h-1.2zM247.2 167.5h1.2v2.1h-1.2zM247.2 189.9h1.2v1.1h-1.2zM247.2 210.9h1.2v1.1h-1.2zM247.2 227.6h1.2v6.1h-1.2zM246.9 227.6h1.9v1.2h-1.9zM247.2 251.4h1.2v3.6h-1.2zM246.9 251.4h1.9v1.2h-1.9zM247.2 272.9h1.2v3.6h-1.2zM246.9 272.9h1.9v1.2h-1.9zM247.2 290.7h1.2v7.1h-1.2zM246.9 290.7h1.9v1.2h-1.9zM253.0 110.6h1.2v10.6h-1.2zM252.7 110.6h1.9v1.2h-1.9zM253.0 189.4h1.2v1.6h-1.2zM253.0 200.0h1.2v12.0h-1.2zM252.7 200.0h1.9v1.2h-1.9zM253.0 227.6h1.2v6.1h-1.2zM252.7 227.6h1.9v1.2h-1.9zM253.0 242.9h1.2v12.1h-1.2zM252.7 242.9h1.9v1.2h-1.9zM253.0 267.4h1.2v9.1h-1.2zM252.7 267.4h1.9v1.2h-1.9zM253.0 285.7h1.2v12.1h-1.2zM252.7 285.7h1.9v1.2h-1.9zM255.4 111.6h1.2v9.6h-1.2zM255.0 111.6h1.9v1.2h-1.9zM255.4 166.5h1.2v3.1h-1.2zM255.4 189.4h1.2v1.6h-1.2zM255.4 200.0h1.2v12.0h-1.2zM255.0 200.0h1.9v1.2h-1.9zM255.4 226.6h1.2v7.1h-1.2zM255.0 226.6h1.9v1.2h-1.9zM255.4 244.9h1.2v10.1h-1.2zM255.0 244.9h1.9v1.2h-1.9zM255.4 269.4h1.2v7.1h-1.2zM255.0 269.4h1.9v1.2h-1.9zM255.4 285.7h1.2v12.1h-1.2zM255.0 285.7h1.9v1.2h-1.9zM256.7 111.6h1.2v9.6h-1.2zM256.3 111.6h1.9v1.2h-1.9zM256.7 189.4h1.2v1.6h-1.2zM256.7 200.0h1.2v12.0h-1.2zM256.3 200.0h1.9v1.2h-1.9zM256.7 228.6h1.2v5.1h-1.2zM256.3 228.6h1.9v1.2h-1.9zM256.7 244.9h1.2v10.1h-1.2zM256.3 244.9h1.9v1.2h-1.9zM256.7 269.4h1.2v7.1h-1.2zM256.3 269.4h1.9v1.2h-1.9zM256.7 285.7h1.2v12.1h-1.2zM256.3 285.7h1.9v1.2h-1.9zM260.9 111.1h1.2v10.1h-1.2zM260.5 111.1h1.9v1.2h-1.9zM260.9 189.4h1.2v1.6h-1.2zM260.9 200.0h1.2v12.0h-1.2zM260.5 200.0h1.9v1.2h-1.9zM260.9 227.6h1.2v6.1h-1.2zM260.5 227.6h1.9v1.2h-1.9zM260.9 242.9h1.2v12.1h-1.2zM260.5 242.9h1.9v1.2h-1.9zM260.9 266.4h1.2v10.1h-1.2zM260.5 266.4h1.9v1.2h-1.9zM260.9 285.7h1.2v12.1h-1.2zM260.5 285.7h1.9v1.2h-1.9zM292.7 110.6h1.2v10.6h-1.2zM292.4 110.6h1.9v1.2h-1.9zM292.7 188.9h1.2v2.1h-1.2zM292.7 200.0h1.2v12.0h-1.2zM292.4 200.0h1.9v1.2h-1.9zM292.7 228.6h1.2v5.1h-1.2zM292.4 228.6h1.9v1.2h-1.9zM292.7 244.4h1.2v10.6h-1.2zM292.4 244.4h1.9v1.2h-1.9zM292.7 267.4h1.2v9.1h-1.2zM292.4 267.4h1.9v1.2h-1.9zM292.7 287.7h1.2v10.1h-1.2zM292.4 287.7h1.9v1.2h-1.9zM299.4 111.1h1.2v10.1h-1.2zM299.0 111.1h1.9v1.2h-1.9zM299.4 189.4h1.2v1.6h-1.2zM299.4 200.0h1.2v12.0h-1.2zM299.0 200.0h1.9v1.2h-1.9zM299.4 228.1h1.2v5.6h-1.2zM299.0 228.1h1.9v1.2h-1.9zM299.4 242.9h1.2v12.1h-1.2zM299.0 242.9h1.9v1.2h-1.9zM299.4 266.4h1.2v10.1h-1.2zM299.0 266.4h1.9v1.2h-1.9zM299.4 285.7h1.2v12.1h-1.2zM299.0 285.7h1.9v1.2h-1.9zM307.2 111.6h1.2v9.6h-1.2zM306.8 111.6h1.9v1.2h-1.9zM307.2 189.4h1.2v1.6h-1.2zM307.2 200.0h1.2v12.0h-1.2zM306.8 200.0h1.9v1.2h-1.9zM307.2 227.6h1.2v6.1h-1.2zM306.8 227.6h1.9v1.2h-1.9zM307.2 242.9h1.2v12.1h-1.2zM306.8 242.9h1.9v1.2h-1.9zM307.2 266.4h1.2v10.1h-1.2zM306.8 266.4h1.9v1.2h-1.9zM307.2 285.7h1.2v12.1h-1.2zM306.8 285.7h1.9v1.2h-1.9zM342.5 117.1h1.2v4.1h-1.2zM342.2 117.1h1.9v1.2h-1.9zM342.5 187.9h1.2v3.1h-1.2zM342.5 200.0h1.2v12.0h-1.2zM342.2 200.0h1.9v1.2h-1.9zM342.5 228.6h1.2v5.1h-1.2zM342.2 228.6h1.9v1.2h-1.9zM342.5 250.4h1.2v4.6h-1.2zM342.2 250.4h1.9v1.2h-1.9zM342.5 274.4h1.2v2.1h-1.2zM342.5 287.7h1.2v10.1h-1.2zM342.2 287.7h1.9v1.2h-1.9zM349.2 113.1h1.2v8.1h-1.2zM348.8 113.1h1.9v1.2h-1.9zM349.2 188.9h1.2v2.1h-1.2zM349.2 200.0h1.2v12.0h-1.2zM348.8 200.0h1.9v1.2h-1.9zM349.2 228.1h1.2v5.6h-1.2zM348.8 228.1h1.9v1.2h-1.9zM349.2 244.9h1.2v10.1h-1.2zM348.8 244.9h1.9v1.2h-1.9zM349.2 269.4h1.2v7.1h-1.2zM348.8 269.4h1.9v1.2h-1.9zM349.2 285.7h1.2v12.1h-1.2zM348.8 285.7h1.9v1.2h-1.9zM351.2 116.6h1.2v4.6h-1.2zM350.8 116.6h1.9v1.2h-1.9zM351.2 188.4h1.2v2.6h-1.2zM351.2 200.0h1.2v12.0h-1.2zM350.8 200.0h1.9v1.2h-1.9zM351.2 228.6h1.2v5.1h-1.2zM350.8 228.6h1.9v1.2h-1.9zM351.2 246.9h1.2v8.1h-1.2zM350.8 246.9h1.9v1.2h-1.9zM351.2 271.4h1.2v5.1h-1.2zM350.8 271.4h1.9v1.2h-1.9zM351.2 285.7h1.2v12.1h-1.2zM350.8 285.7h1.9v1.2h-1.9zM352.3 117.1h1.2v4.1h-1.2zM352.0 117.1h1.9v1.2h-1.9zM352.3 187.9h1.2v3.1h-1.2zM352.3 200.0h1.2v12.0h-1.2zM352.0 200.0h1.9v1.2h-1.9zM352.3 228.6h1.2v5.1h-1.2zM352.0 228.6h1.9v1.2h-1.9zM352.3 246.9h1.2v8.1h-1.2zM352.0 246.9h1.9v1.2h-1.9zM352.3 271.4h1.2v5.1h-1.2zM352.0 271.4h1.9v1.2h-1.9zM352.3 285.7h1.2v12.1h-1.2zM352.0 285.7h1.9v1.2h-1.9zM379.0 97.5h1.2v2.1h-1.2zM379.0 117.6h1.2v3.6h-1.2zM378.6 117.6h1.9v1.2h-1.9zM379.0 187.9h1.2v3.1h-1.2zM379.0 202.9h1.2v9.1h-1.2zM378.6 202.9h1.9v1.2h-1.9zM379.0 228.6h1.2v5.1h-1.2zM378.6 228.6h1.9v1.2h-1.9zM379.0 252.4h1.2v2.6h-1.2zM379.0 274.4h1.2v2.1h-1.2zM379.0 287.7h1.2v10.1h-1.2zM378.6 287.7h1.9v1.2h-1.9zM381.9 118.1h1.2v3.1h-1.2zM381.9 188.9h1.2v2.1h-1.2zM381.9 202.9h1.2v9.1h-1.2zM381.5 202.9h1.9v1.2h-1.9zM381.9 228.6h1.2v5.1h-1.2zM381.5 228.6h1.9v1.2h-1.9zM381.9 251.4h1.2v3.6h-1.2zM381.5 251.4h1.9v1.2h-1.9zM381.9 274.4h1.2v2.1h-1.2zM381.9 287.7h1.2v10.1h-1.2zM381.5 287.7h1.9v1.2h-1.9zM385.3 114.1h1.2v7.1h-1.2zM385.0 114.1h1.9v1.2h-1.9zM385.3 188.9h1.2v2.1h-1.2zM385.3 201.9h1.2v10.1h-1.2zM385.0 201.9h1.9v1.2h-1.9zM385.3 227.1h1.2v6.6h-1.2zM385.0 227.1h1.9v1.2h-1.9zM385.3 250.4h1.2v4.6h-1.2zM385.0 250.4h1.9v1.2h-1.9zM385.3 274.4h1.2v2.1h-1.2zM385.3 287.7h1.2v10.1h-1.2zM385.0 287.7h1.9v1.2h-1.9zM392.1 110.6h1v10.6h-1zM391.8 110.6h1.7v1.2h-1.7zM392.1 189.4h1v1.6h-1zM392.1 205.7h1v6.3h-1zM391.8 205.7h1.7v1.2h-1.7zM392.1 224.6h1v9.1h-1zM391.8 224.6h1.7v1.2h-1.7zM392.1 249.4h1v5.6h-1zM391.8 249.4h1.7v1.2h-1.7zM392.1 273.4h1v3.1h-1zM392.1 289.6h1v8.2h-1zM391.8 289.6h1.7v1.2h-1.7zM393.7 110.6h1v10.6h-1zM393.4 110.6h1.7v1.2h-1.7zM393.7 164.0h1v5.6h-1zM393.4 164.0h1.7v1.2h-1.7zM393.7 189.4h1v1.6h-1zM393.7 206.4h1v5.6h-1zM393.4 206.4h1.7v1.2h-1.7zM393.7 224.6h1v9.1h-1zM393.4 224.6h1.7v1.2h-1.7zM393.7 249.4h1v5.6h-1zM393.4 249.4h1.7v1.2h-1.7zM393.7 273.4h1v3.1h-1zM393.7 287.9h1v9.9h-1zM393.4 287.9h1.7v1.2h-1.7zM396.9 110.6h1v10.6h-1zM396.6 110.6h1.7v1.2h-1.7zM396.9 164.0h1v5.6h-1zM396.6 164.0h1.7v1.2h-1.7zM396.9 189.4h1v1.6h-1zM396.9 206.2h1v5.8h-1zM396.6 206.2h1.7v1.2h-1.7zM396.9 224.6h1v9.1h-1zM396.6 224.6h1.7v1.2h-1.7zM396.9 249.4h1v5.6h-1zM396.6 249.4h1.7v1.2h-1.7zM396.9 273.4h1v3.1h-1zM396.9 289.4h1v8.4h-1zM396.6 289.4h1.7v1.2h-1.7zM525.5 69.5h1.2v8.6h-1.2zM525.1 69.5h1.9v1.2h-1.9zM525.5 136.0h1.2v12.1h-1.2zM525.1 136.0h1.9v1.2h-1.9zM525.5 189.4h1.2v1.6h-1.2zM525.5 210.9h1.2v1.1h-1.2zM525.5 225.6h1.2v8.1h-1.2zM525.1 225.6h1.9v1.2h-1.9zM525.5 243.9h1.2v11.1h-1.2zM525.1 243.9h1.9v1.2h-1.9zM525.5 268.4h1.2v8.1h-1.2zM525.1 268.4h1.9v1.2h-1.9zM525.5 285.7h1.2v12.1h-1.2zM525.1 285.7h1.9v1.2h-1.9zM603.5 68.5h1.2v9.6h-1.2zM603.1 68.5h1.9v1.2h-1.9zM603.5 136.0h1.2v12.1h-1.2zM603.1 136.0h1.9v1.2h-1.9zM603.5 166.5h1.2v3.1h-1.2zM603.5 188.9h1.2v2.1h-1.2zM603.5 210.4h1.2v1.6h-1.2zM603.5 226.6h1.2v7.1h-1.2zM603.1 226.6h1.9v1.2h-1.9zM603.5 253.4h1.2v1.6h-1.2zM603.5 274.9h1.2v1.6h-1.2zM603.5 295.7h1.2v2.1h-1.2zM632.9 66.8h0.8v11.3h-0.8zM635.5 66.8h0.8v11.3h-0.8zM639.4 66.8h0.8v11.3h-0.8zM642.0 66.8h0.8v11.3h-0.8zM645.9 66.8h0.8v11.3h-0.8zM649.1 68.0h0.8v10.1h-0.8zM651.7 66.8h0.8v11.3h-0.8zM654.3 66.8h0.8v11.3h-0.8zM633.0 135.7h0.95v12.4h-0.95zM636.6 135.7h0.95v12.4h-0.95zM633.5 168.3h1v1.3h-1zM643.6 158.5h0.95v11.1h-0.95zM645.3 158.5h0.95v11.1h-0.95zM644.4 182.4h1v8.6h-1zM645.4 185.9h1v5.1h-1zM647.1 187.9h1v3.1h-1zM633.5 206.9h1v5.1h-1zM644.7 200.9h1v11.1h-1zM646.3 201.9h1v10.1h-1zM647.3 208.9h1v3.1h-1zM633.8 228.6h1v5.1h-1zM643.9 224.6h1v9.1h-1zM646.0 224.6h1v9.1h-1zM643.7 243.9h1v11.1h-1zM644.5 244.9h1v10.1h-1zM646.3 248.9h1v6.1h-1zM643.7 266.9h1v9.6h-1zM644.5 266.9h1v9.6h-1zM646.3 269.9h1v6.6h-1zM633.9 289.7h1v8.1h-1zM644.5 285.7h1v12.1h-1zM645.4 286.2h1v11.6h-1zM646.3 286.7h1v11.1h-1zM648.2 287.7h1v10.1h-1z"/>
<path fill="#e8560f" d="M120.2 68.0h1.2v10.1h-1.2zM119.9 68.0h1.9v1.2h-1.9zM120.2 166.5h1.2v3.1h-1.2zM120.2 189.9h1.2v1.1h-1.2zM120.2 209.9h1.2v2.1h-1.2zM120.2 228.6h1.2v5.1h-1.2zM119.9 228.6h1.9v1.2h-1.9zM120.2 252.9h1.2v2.1h-1.2zM120.2 273.9h1.2v2.6h-1.2zM120.2 290.7h1.2v7.1h-1.2zM119.9 290.7h1.9v1.2h-1.9zM126.2 93.5h1.2v6.1h-1.2zM125.9 93.5h1.9v1.2h-1.9zM126.2 166.5h1.2v3.1h-1.2zM126.2 189.9h1.2v1.1h-1.2zM126.2 209.9h1.2v2.1h-1.2zM126.2 228.6h1.2v5.1h-1.2zM125.9 228.6h1.9v1.2h-1.9zM126.2 250.9h1.2v4.1h-1.2zM125.9 250.9h1.9v1.2h-1.9zM126.2 272.4h1.2v4.1h-1.2zM125.9 272.4h1.9v1.2h-1.9zM126.2 289.7h1.2v8.1h-1.2zM125.9 289.7h1.9v1.2h-1.9zM143.4 96.5h1.2v3.1h-1.2zM143.4 189.9h1.2v1.1h-1.2zM143.4 208.9h1.2v3.1h-1.2zM143.4 228.6h1.2v5.1h-1.2zM143.1 228.6h1.9v1.2h-1.9zM143.4 249.9h1.2v5.1h-1.2zM143.1 249.9h1.9v1.2h-1.9zM143.4 271.4h1.2v5.1h-1.2zM143.1 271.4h1.9v1.2h-1.9zM143.4 288.7h1.2v9.1h-1.2zM143.1 288.7h1.9v1.2h-1.9zM173.4 97.0h1.2v2.6h-1.2zM173.4 189.9h1.2v1.1h-1.2zM173.4 209.9h1.2v2.1h-1.2zM173.4 227.6h1.2v6.1h-1.2zM173.1 227.6h1.9v1.2h-1.9zM173.4 251.1h1.2v3.9h-1.2zM173.1 251.1h1.9v1.2h-1.9zM173.4 272.6h1.2v3.9h-1.2zM173.1 272.6h1.9v1.2h-1.9zM173.4 287.9h1.2v9.9h-1.2zM173.1 287.9h1.9v1.2h-1.9zM183.6 90.0h1.2v9.6h-1.2zM183.2 90.0h1.9v1.2h-1.9zM183.6 189.9h1.2v1.1h-1.2zM183.6 209.9h1.2v2.1h-1.2zM183.6 227.5h1.2v6.2h-1.2zM183.2 227.5h1.9v1.2h-1.9zM183.6 251.0h1.2v4.0h-1.2zM183.2 251.0h1.9v1.2h-1.9zM183.6 272.5h1.2v4.0h-1.2zM183.2 272.5h1.9v1.2h-1.9zM183.6 287.7h1.2v10.1h-1.2zM183.2 287.7h1.9v1.2h-1.9zM190.3 97.5h1.2v2.1h-1.2zM190.3 189.9h1.2v1.1h-1.2zM190.3 209.9h1.2v2.1h-1.2zM190.3 227.7h1.2v6.0h-1.2zM190.0 227.7h1.9v1.2h-1.9zM190.3 251.2h1.2v3.8h-1.2zM190.0 251.2h1.9v1.2h-1.9zM190.3 272.7h1.2v3.8h-1.2zM190.0 272.7h1.9v1.2h-1.9zM190.3 288.1h1.2v9.7h-1.2zM190.0 288.1h1.9v1.2h-1.9zM203.4 95.0h1.2v4.6h-1.2zM203.1 95.0h1.9v1.2h-1.9zM203.4 189.9h1.2v1.1h-1.2zM203.4 209.9h1.2v2.1h-1.2zM203.4 227.9h1.2v5.8h-1.2zM203.1 227.9h1.9v1.2h-1.9zM203.4 251.3h1.2v3.7h-1.2zM203.1 251.3h1.9v1.2h-1.9zM203.4 272.8h1.2v3.7h-1.2zM203.1 272.8h1.9v1.2h-1.9zM203.4 288.4h1.2v9.4h-1.2zM203.1 288.4h1.9v1.2h-1.9zM392.9 110.6h1v10.6h-1zM392.6 110.6h1.7v1.2h-1.7zM392.9 189.4h1v1.6h-1zM392.9 204.0h1v8.0h-1zM392.6 204.0h1.7v1.2h-1.7zM392.9 224.6h1v9.1h-1zM392.6 224.6h1.7v1.2h-1.7zM392.9 249.4h1v5.6h-1zM392.6 249.4h1.7v1.2h-1.7zM392.9 273.4h1v3.1h-1zM392.9 289.0h1v8.8h-1zM392.6 289.0h1.7v1.2h-1.7zM394.5 110.6h1v10.6h-1zM394.1 110.6h1.7v1.2h-1.7zM394.5 164.0h1v5.6h-1zM394.1 164.0h1.7v1.2h-1.7zM394.5 189.4h1v1.6h-1zM394.5 206.3h1v5.7h-1zM394.1 206.3h1.7v1.2h-1.7zM394.5 224.6h1v9.1h-1zM394.1 224.6h1.7v1.2h-1.7zM394.5 249.4h1v5.6h-1zM394.1 249.4h1.7v1.2h-1.7zM394.5 273.4h1v3.1h-1zM394.5 287.0h1v10.8h-1zM394.1 287.0h1.7v1.2h-1.7zM399.3 110.6h1v10.6h-1zM398.9 110.6h1.7v1.2h-1.7zM399.3 189.4h1v1.6h-1zM399.3 205.1h1v6.9h-1zM398.9 205.1h1.7v1.2h-1.7zM399.3 224.6h1v9.1h-1zM398.9 224.6h1.7v1.2h-1.7zM399.3 249.4h1v5.6h-1zM398.9 249.4h1.7v1.2h-1.7zM399.3 273.4h1v3.1h-1zM399.3 288.2h1v9.6h-1zM398.9 288.2h1.7v1.2h-1.7zM576.0 67.0h1.2v11.1h-1.2zM575.6 67.0h1.9v1.2h-1.9zM576.0 143.5h1.2v4.6h-1.2zM575.6 143.5h1.9v1.2h-1.9zM576.0 189.4h1.2v1.6h-1.2zM576.0 210.9h1.2v1.1h-1.2zM576.0 227.6h1.2v6.1h-1.2zM575.6 227.6h1.9v1.2h-1.9zM576.0 253.4h1.2v1.6h-1.2zM576.0 274.9h1.2v1.6h-1.2zM576.0 293.7h1.2v4.1h-1.2zM575.6 293.7h1.9v1.2h-1.9zM632.2 66.8h0.8v11.3h-0.8zM634.8 66.8h0.8v11.3h-0.8zM637.4 66.8h0.8v11.3h-0.8zM640.0 66.8h0.8v11.3h-0.8zM642.6 66.8h0.8v11.3h-0.8zM645.2 66.8h0.8v11.3h-0.8zM647.2 68.0h0.8v10.1h-0.8zM649.8 66.8h0.8v11.3h-0.8zM653.0 66.8h0.8v11.3h-0.8zM632.1 135.7h0.95v12.4h-0.95zM635.7 135.7h0.95v12.4h-0.95zM632.3 168.5h1v1.1h-1zM639.1 158.5h0.95v11.1h-0.95zM641.8 158.5h0.95v11.1h-0.95zM646.3 165.5h1v4.1h-1zM647.3 168.0h1v1.6h-1zM649.5 168.0h1v1.6h-1zM634.1 189.4h1v1.6h-1zM636.4 185.9h1v5.1h-1zM638.7 182.9h1v8.1h-1zM640.8 181.9h1v9.1h-1zM643.5 182.4h1v8.6h-1zM646.3 186.9h1v4.1h-1zM649.2 188.9h1v2.1h-1zM634.7 210.4h1v1.6h-1zM636.8 208.9h1v3.1h-1zM640.2 209.9h1v2.1h-1zM643.1 200.0h1v12.0h-1zM644.1 200.0h1v12.0h-1zM648.2 210.4h1v1.6h-1zM649.2 206.9h1v5.1h-1zM650.3 210.4h1v1.6h-1zM653.5 210.4h1v1.6h-1zM634.8 228.1h1v5.6h-1zM636.8 226.6h1v7.1h-1zM638.9 225.1h1v8.6h-1zM641.9 224.4h1v9.3h-1zM645.0 224.6h1v9.1h-1zM647.0 225.1h1v8.6h-1zM649.0 225.1h1v8.6h-1zM650.0 225.1h1v8.6h-1zM653.1 225.1h1v8.6h-1zM654.8 225.1h1v8.6h-1zM633.2 253.9h1v1.1h-1zM634.4 253.4h1v1.6h-1zM636.4 250.9h1v4.1h-1zM638.4 246.9h1v8.1h-1zM640.2 243.9h1v11.1h-1zM642.8 244.4h1v10.6h-1zM645.4 246.9h1v8.1h-1zM647.3 251.9h1v3.1h-1zM649.2 253.4h1v1.6h-1zM650.3 253.9h1v1.1h-1zM654.7 252.9h1v2.1h-1zM633.2 275.4h1v1.1h-1zM634.4 274.4h1v2.1h-1zM636.4 270.4h1v6.1h-1zM638.4 267.9h1v8.6h-1zM640.2 267.4h1v9.1h-1zM642.8 266.9h1v9.6h-1zM645.4 268.4h1v8.1h-1zM647.3 272.4h1v4.1h-1zM649.2 274.4h1v2.1h-1zM650.3 274.9h1v1.6h-1zM654.7 273.4h1v3.1h-1zM633.2 291.7h1v6.1h-1zM634.8 291.7h1v6.1h-1zM636.8 291.7h1v6.1h-1zM638.4 286.7h1v11.1h-1zM640.2 285.7h1v12.1h-1zM642.8 285.7h1v12.1h-1zM643.7 285.7h1v12.1h-1zM647.3 288.7h1v9.1h-1zM649.2 287.7h1v10.1h-1zM650.0 287.7h1v10.1h-1zM651.1 293.7h1v4.1h-1zM653.2 293.7h1v4.1h-1z"/>
<line x1="51.0" x2="401.2" y1="31.0" y2="31.0" stroke="#111" stroke-width="0.75" stroke-dasharray="4.1,2.9"/>
<line x1="51.0" x2="143.8" y1="50.55" y2="50.55" stroke="#111" stroke-width="0.75" stroke-dasharray="4.1,2.9"/>
<line x1="637.2" x2="699.0" y1="32.45" y2="32.45" stroke="#111" stroke-width="0.75" stroke-dasharray="4.1,2.9"/>
<line x1="637.2" x2="699.0" y1="51.95" y2="51.95" stroke="#111" stroke-width="0.75" stroke-dasharray="4.1,2.9"/>
<rect x="143.8" y="41.2" width="490.59999999999997" height="16.8" fill="#fdc700"/>
<rect x="401.2" y="26.0" width="233.2" height="13.8" fill="#1a2a4c"/>
<rect x="397" y="39.8" width="237.39999999999998" height="1.4" fill="#fff"/>
<rect x="50.5" y="4.0" width="648.5" height="338.8" fill="none" stroke="#0a0a0a" stroke-width="1.6"/>
<line x1="151.4" x2="151.4" y1="4.0" y2="342.8" stroke="#0a0a0a" stroke-width="1.7"/>
<line x1="207.7" x2="207.7" y1="4.0" y2="342.8" stroke="#0a0a0a" stroke-width="1.7"/>
<line x1="407.1" x2="407.1" y1="4.0" y2="342.8" stroke="#0a0a0a" stroke-width="1.7"/>
<line x1="631.1" x2="631.1" y1="4.0" y2="342.8" stroke="#0a0a0a" stroke-width="1.7"/>
<text x="5.6" y="16.8" font-size="24.3" text-anchor="start" font-weight="normal" fill="#111" stroke="#111" stroke-width="0.68" >A.</text>
<text x="6.6" y="374.6" font-size="24.3" text-anchor="start" font-weight="normal" fill="#111" stroke="#111" stroke-width="0.68" >B.</text>
<text x="99.5" y="16.7" font-size="10.45" text-anchor="middle" font-weight="normal" fill="#111" stroke="#111" stroke-width="0.29" >BETA acceptor</text>
<text x="178.8" y="16.7" font-size="10.45" text-anchor="middle" font-weight="normal" fill="#111" stroke="#111" stroke-width="0.29" >BETA ESS</text>
<text x="314" y="16.7" font-size="10.45" text-anchor="middle" font-weight="normal" fill="#111" stroke="#111" stroke-width="0.29" >Alternate SS</text>
<text x="530" y="16.7" font-size="10.45" text-anchor="middle" font-weight="normal" fill="#111" stroke="#111" stroke-width="0.29" >ALPHA exon</text>
<text x="666.1" y="16.0" font-size="10.3" text-anchor="middle" font-weight="normal" fill="#111" stroke="#111" stroke-width="0.29" >Donor</text>
<text x="237.3" y="54.4" font-size="13.9" font-weight="bold" fill="#111"><tspan font-style="italic">POU1F1</tspan> exon 2 beta</text>
<text x="442.2" y="38.3" font-size="13.9" font-weight="bold" fill="#fff"><tspan font-style="italic">POU1F1</tspan> exon 2 alpha</text>
<text x="25.3" y="73.4" font-size="7.75" text-anchor="middle" font-weight="normal" fill="#111" stroke="#111" stroke-width="0.28" >SKIP</text>
<text x="25.1" y="95.1" font-size="7.75" text-anchor="middle" font-weight="normal" fill="#111" stroke="#111" stroke-width="0.28" >BETA</text>
<text x="23.3" y="116.5" font-size="7.75" text-anchor="middle" font-weight="normal" fill="#111" stroke="#111" stroke-width="0.28" >OTHER</text>
<text x="25.8" y="144.0" font-size="7.75" text-anchor="middle" font-weight="normal" fill="#111" stroke="#111" stroke-width="0.28" >HAL</text>
<text x="28.8" y="164.9" font-size="7.75" text-anchor="middle" font-weight="normal" fill="#111" stroke="#111" stroke-width="0.28" >S-Cap</text>
<text x="25.9" y="186.7" font-size="7.75" text-anchor="middle" font-weight="normal" fill="#111" stroke="#111" stroke-width="0.28" >MMSplice</text>
<text x="25.9" y="207.8" font-size="7.75" text-anchor="middle" font-weight="normal" fill="#111" stroke="#111" stroke-width="0.28" >SQUIRLS</text>
<text x="26.0" y="228.7" font-size="7.75" text-anchor="middle" font-weight="normal" fill="#111" stroke="#111" stroke-width="0.28" >SPANR</text>
<text x="27.0" y="250.5" font-size="7.75" text-anchor="middle" font-weight="normal" fill="#111" stroke="#111" stroke-width="0.28" >SpliceAI</text>
<text x="26.0" y="270.7" font-size="7.75" text-anchor="middle" font-weight="normal" fill="#111" stroke="#111" stroke-width="0.28" >Pangolin</text>
<text x="22.9" y="293.2" font-size="7.55" text-anchor="middle" font-weight="normal" fill="#111" stroke="#111" stroke-width="0.27" >ConSpliceML</text>
<text x="48.4" y="73.4" font-size="8.0" text-anchor="end" font-weight="normal" fill="#111" stroke="#111" stroke-width="0.29" >50</text>
<text x="48.6" y="81.2" font-size="8.0" text-anchor="end" font-weight="normal" fill="#111" stroke="#111" stroke-width="0.29" >0</text>
<text x="48.4" y="95.3" font-size="8.0" text-anchor="end" font-weight="normal" fill="#111" stroke="#111" stroke-width="0.29" >25</text>
<text x="48.6" y="102.8" font-size="8.0" text-anchor="end" font-weight="normal" fill="#111" stroke="#111" stroke-width="0.29" >0</text>
<text x="48.4" y="112.2" font-size="8.0" text-anchor="end" font-weight="normal" fill="#111" stroke="#111" stroke-width="0.29" >50</text>
<text x="48.6" y="124.2" font-size="8.0" text-anchor="end" font-weight="normal" fill="#111" stroke="#111" stroke-width="0.29" >0</text>
<text x="48.4" y="144.7" font-size="8.0" text-anchor="end" font-weight="normal" fill="#111" stroke="#111" stroke-width="0.29" >50</text>
<text x="48.6" y="151.4" font-size="8.0" text-anchor="end" font-weight="normal" fill="#111" stroke="#111" stroke-width="0.29" >0</text>
<text x="48.4" y="160.8" font-size="8.0" text-anchor="end" font-weight="normal" fill="#111" stroke="#111" stroke-width="0.29" >1</text>
<text x="48.6" y="172.3" font-size="8.0" text-anchor="end" font-weight="normal" fill="#111" stroke="#111" stroke-width="0.29" >0</text>
<text x="48.4" y="185.4" font-size="8.0" text-anchor="end" font-weight="normal" fill="#111" stroke="#111" stroke-width="0.29" >5</text>
<text x="48.6" y="194.3" font-size="8.0" text-anchor="end" font-weight="normal" fill="#111" stroke="#111" stroke-width="0.29" >0</text>
<text x="48.4" y="203.8" font-size="8.0" text-anchor="end" font-weight="normal" fill="#111" stroke="#111" stroke-width="0.29" >1</text>
<text x="48.6" y="214.9" font-size="8.0" text-anchor="end" font-weight="normal" fill="#111" stroke="#111" stroke-width="0.29" >0</text>
<text x="48.4" y="224.9" font-size="8.0" text-anchor="end" font-weight="normal" fill="#111" stroke="#111" stroke-width="0.29" >5</text>
<text x="48.6" y="237.0" font-size="8.0" text-anchor="end" font-weight="normal" fill="#111" stroke="#111" stroke-width="0.29" >0</text>
<text x="48.4" y="246.5" font-size="8.0" text-anchor="end" font-weight="normal" fill="#111" stroke="#111" stroke-width="0.29" >1</text>
<text x="48.6" y="258.2" font-size="8.0" text-anchor="end" font-weight="normal" fill="#111" stroke="#111" stroke-width="0.29" >0</text>
<text x="48.4" y="268.0" font-size="8.0" text-anchor="end" font-weight="normal" fill="#111" stroke="#111" stroke-width="0.29" >1</text>
<text x="48.6" y="279.5" font-size="8.0" text-anchor="end" font-weight="normal" fill="#111" stroke="#111" stroke-width="0.29" >0</text>
<text x="48.4" y="289.5" font-size="8.0" text-anchor="end" font-weight="normal" fill="#111" stroke="#111" stroke-width="0.29" >1</text>
<text x="48.6" y="300.8" font-size="8.0" text-anchor="end" font-weight="normal" fill="#111" stroke="#111" stroke-width="0.29" >0</text>
<rect x="15.9" y="76.0" width="8.6" height="4.4" fill="#acacac" stroke="#242424" stroke-width="1.7"/>
<rect x="24.5" y="76.0" width="8.8" height="4.4" fill="#acacac" stroke="#242424" stroke-width="1.7"/>
<rect x="7.2" y="97.2" width="9.9" height="4.4" fill="#acacac" stroke="#242424" stroke-width="1.7"/>
<rect x="17.1" y="97.2" width="12.2" height="4.4" fill="#fdc700" stroke="#242424" stroke-width="1.7"/>
<rect x="29.3" y="97.2" width="9.6" height="4.4" fill="#acacac" stroke="#242424" stroke-width="1.7"/>
<rect x="21.6" y="98.3" width="3.0" height="2.2" fill="#8f7d24"/>
<rect x="12.6" y="119.3" width="9.0" height="4.4" fill="#acacac" stroke="#242424" stroke-width="1.7"/>
<rect x="25.4" y="119.3" width="9.0" height="4.4" fill="#acacac" stroke="#242424" stroke-width="1.7"/>
<path d="M22.6,126.3 C22.9,124 23.5,121 24.5,118.3" stroke="#1b3270" stroke-width="1.8" fill="none"/>
<path d="M22.9,124.6 C23.2,122.8 23.6,120.8 24.2,118.9" stroke="#e8edf8" stroke-width="0.55" fill="none"/>
<text transform="translate(700.8,77.2) rotate(90)" font-size="7" fill="#111" stroke="#111" stroke-width="0.25">Measured</text>
<text transform="translate(702.3,203.9) rotate(90)" font-size="7" fill="#111" stroke="#111" stroke-width="0.25">Predicted</text>
<text transform="translate(71.2,335.4) rotate(-90) scale(1,1.13)" font-size="8.05" fill="#111" stroke="#111" stroke-width="0.28">87322669</text>
<text transform="translate(104.3,335.4) rotate(-90) scale(1,1.13)" font-size="8.05" fill="#111" stroke="#111" stroke-width="0.28">87322659</text>
<text transform="translate(137.3,335.4) rotate(-90) scale(1,1.13)" font-size="8.05" fill="#111" stroke="#111" stroke-width="0.28">87322649</text>
<text transform="translate(170.4,335.4) rotate(-90) scale(1,1.13)" font-size="8.05" fill="#111" stroke="#111" stroke-width="0.28">87322639</text>
<text transform="translate(203.5,335.4) rotate(-90) scale(1,1.13)" font-size="8.05" fill="#111" stroke="#111" stroke-width="0.28">87322629</text>
<text transform="translate(236.5,335.4) rotate(-90) scale(1,1.13)" font-size="8.05" fill="#111" stroke="#111" stroke-width="0.28">87322619</text>
<text transform="translate(269.6,335.4) rotate(-90) scale(1,1.13)" font-size="8.05" fill="#111" stroke="#111" stroke-width="0.28">87322609</text>
<text transform="translate(302.7,335.4) rotate(-90) scale(1,1.13)" font-size="8.05" fill="#111" stroke="#111" stroke-width="0.28">87322599</text>
<text transform="translate(335.8,335.4) rotate(-90) scale(1,1.13)" font-size="8.05" fill="#111" stroke="#111" stroke-width="0.28">87322589</text>
<text transform="translate(368.8,335.4) rotate(-90) scale(1,1.13)" font-size="8.05" fill="#111" stroke="#111" stroke-width="0.28">87322579</text>
<text transform="translate(401.9,335.4) rotate(-90) scale(1,1.13)" font-size="8.05" fill="#111" stroke="#111" stroke-width="0.28">87322569</text>
<text transform="translate(435.0,335.4) rotate(-90) scale(1,1.13)" font-size="8.05" fill="#111" stroke="#111" stroke-width="0.28">87322559</text>
<text transform="translate(468.0,335.4) rotate(-90) scale(1,1.13)" font-size="8.05" fill="#111" stroke="#111" stroke-width="0.28">87322549</text>
<text transform="translate(501.1,335.4) rotate(-90) scale(1,1.13)" font-size="8.05" fill="#111" stroke="#111" stroke-width="0.28">87322539</text>
<text transform="translate(534.2,335.4) rotate(-90) scale(1,1.13)" font-size="8.05" fill="#111" stroke="#111" stroke-width="0.28">87322529</text>
<text transform="translate(567.2,335.4) rotate(-90) scale(1,1.13)" font-size="8.05" fill="#111" stroke="#111" stroke-width="0.28">87322519</text>
<text transform="translate(600.3,335.4) rotate(-90) scale(1,1.13)" font-size="8.05" fill="#111" stroke="#111" stroke-width="0.28">87322509</text>
<text transform="translate(633.4,335.4) rotate(-90) scale(1,1.13)" font-size="8.05" fill="#111" stroke="#111" stroke-width="0.28">87322499</text>
<text transform="translate(666.5,335.4) rotate(-90) scale(1,1.13)" font-size="8.05" fill="#111" stroke="#111" stroke-width="0.28">87322489</text>
<text transform="translate(699.5,335.4) rotate(-90) scale(1,1.13)" font-size="8.05" fill="#111" stroke="#111" stroke-width="0.28">87322479</text>
<text x="374.6" y="350.4" font-size="8" text-anchor="middle" font-weight="normal" fill="#111" stroke="#111" stroke-width="0.29" >hg19 position</text>
<rect x="87.60" y="383.30" width="18.82" height="18.82" fill="#fff"/>
<path d="M87.60,383.30 L106.12,401.82 M106.12,383.30 L87.60,401.82" stroke="#111" stroke-width="2.8" fill="none"/>
<rect x="106.12" y="383.30" width="18.82" height="18.82" fill="#fff"/>
<path d="M106.12,383.30 L124.64,401.82 M124.64,383.30 L106.12,401.82" stroke="#111" stroke-width="2.8" fill="none"/>
<rect x="124.64" y="383.30" width="18.82" height="18.82" fill="#fff"/>
<path d="M124.64,383.30 L143.16,401.82 M143.16,383.30 L124.64,401.82" stroke="#111" stroke-width="2.8" fill="none"/>
<rect x="143.16" y="383.30" width="18.82" height="18.82" fill="#2a1210" shape-rendering="crispEdges"/>
<rect x="161.68" y="383.30" width="18.82" height="18.82" fill="#fff"/>
<path d="M161.68,383.30 L180.20,401.82 M180.20,383.30 L161.68,401.82" stroke="#111" stroke-width="2.8" fill="none"/>
<rect x="87.60" y="401.82" width="18.82" height="18.82" fill="#fbb90e" shape-rendering="crispEdges"/>
<rect x="106.12" y="401.82" width="18.82" height="18.82" fill="#fff"/>
<path d="M106.12,401.82 L124.64,420.34 M124.64,401.82 L106.12,420.34" stroke="#111" stroke-width="2.8" fill="none"/>
<rect x="124.64" y="401.82" width="18.82" height="18.82" fill="#e0341a" shape-rendering="crispEdges"/>
<rect x="143.16" y="401.82" width="18.82" height="18.82" fill="#fbe120" shape-rendering="crispEdges"/>
<rect x="161.68" y="401.82" width="18.82" height="18.82" fill="#f57708" shape-rendering="crispEdges"/>
<rect x="87.60" y="420.34" width="18.82" height="18.82" fill="#8e1e18" shape-rendering="crispEdges"/>
<rect x="106.12" y="420.34" width="18.82" height="18.82" fill="#e03414" shape-rendering="crispEdges"/>
<rect x="124.64" y="420.34" width="18.82" height="18.82" fill="#8c1c1a" shape-rendering="crispEdges"/>
<rect x="143.16" y="420.34" width="18.82" height="18.82" fill="#6e1816" shape-rendering="crispEdges"/>
<rect x="161.68" y="420.34" width="18.82" height="18.82" fill="#4a1614" shape-rendering="crispEdges"/>
<rect x="87.60" y="438.86" width="18.82" height="18.82" fill="#e03414" shape-rendering="crispEdges"/>
<rect x="106.12" y="438.86" width="18.82" height="18.82" fill="#e03614" shape-rendering="crispEdges"/>
<rect x="124.64" y="438.86" width="18.82" height="18.82" fill="#851c18" shape-rendering="crispEdges"/>
<rect x="143.16" y="438.86" width="18.82" height="18.82" fill="#b2241e" shape-rendering="crispEdges"/>
<rect x="161.68" y="438.86" width="18.82" height="18.82" fill="#3a1412" shape-rendering="crispEdges"/>
<rect x="87.60" y="457.38" width="18.82" height="18.82" fill="#f98a04" shape-rendering="crispEdges"/>
<rect x="106.12" y="457.38" width="18.82" height="18.82" fill="#f57a06" shape-rendering="crispEdges"/>
<rect x="124.64" y="457.38" width="18.82" height="18.82" fill="#f06406" shape-rendering="crispEdges"/>
<rect x="143.16" y="457.38" width="18.82" height="18.82" fill="#fdd20a" shape-rendering="crispEdges"/>
<rect x="161.68" y="457.38" width="18.82" height="18.82" fill="#6e1812" shape-rendering="crispEdges"/>
<rect x="87.60" y="475.90" width="18.82" height="18.82" fill="#851a16" shape-rendering="crispEdges"/>
<rect x="106.12" y="475.90" width="18.82" height="18.82" fill="#481614" shape-rendering="crispEdges"/>
<rect x="124.64" y="475.90" width="18.82" height="18.82" fill="#381412" shape-rendering="crispEdges"/>
<rect x="143.16" y="475.90" width="18.82" height="18.82" fill="#6e1814" shape-rendering="crispEdges"/>
<rect x="161.68" y="475.90" width="18.82" height="18.82" fill="#421816" shape-rendering="crispEdges"/>
<rect x="87.60" y="494.42" width="18.82" height="18.82" fill="#851a16" shape-rendering="crispEdges"/>
<rect x="106.12" y="494.42" width="18.82" height="18.82" fill="#2a1210" shape-rendering="crispEdges"/>
<rect x="124.64" y="494.42" width="18.82" height="18.82" fill="#2a1210" shape-rendering="crispEdges"/>
<rect x="143.16" y="494.42" width="18.82" height="18.82" fill="#5a1614" shape-rendering="crispEdges"/>
<rect x="161.68" y="494.42" width="18.82" height="18.82" fill="#0e0a08" shape-rendering="crispEdges"/>
<rect x="87.60" y="512.94" width="18.82" height="18.82" fill="#ec5a08" shape-rendering="crispEdges"/>
<rect x="106.12" y="512.94" width="18.82" height="18.82" fill="#e84010" shape-rendering="crispEdges"/>
<rect x="124.64" y="512.94" width="18.82" height="18.82" fill="#b0241c" shape-rendering="crispEdges"/>
<rect x="143.16" y="512.94" width="18.82" height="18.82" fill="#de2c1a" shape-rendering="crispEdges"/>
<rect x="161.68" y="512.94" width="18.82" height="18.82" fill="#a0201a" shape-rendering="crispEdges"/>
<rect x="87.6" y="383.3" width="92.60" height="148.16" fill="none" stroke="#111" stroke-width="1.2"/>
<line x1="84.0" x2="87.6" y1="392.56" y2="392.56" stroke="#111" stroke-width="1"/>
<text x="81.3" y="397.1" font-size="12.5" text-anchor="end" font-weight="normal" fill="#111" stroke="#111" stroke-width="0.35" >HAL</text>
<line x1="84.0" x2="87.6" y1="411.08" y2="411.08" stroke="#111" stroke-width="1"/>
<text x="81.3" y="415.6" font-size="12.5" text-anchor="end" font-weight="normal" fill="#111" stroke="#111" stroke-width="0.35" >S-Cap</text>
<line x1="84.0" x2="87.6" y1="429.60" y2="429.60" stroke="#111" stroke-width="1"/>
<text x="81.3" y="434.1" font-size="12.5" text-anchor="end" font-weight="normal" fill="#111" stroke="#111" stroke-width="0.35" >MMSplice</text>
<line x1="84.0" x2="87.6" y1="448.12" y2="448.12" stroke="#111" stroke-width="1"/>
<text x="81.3" y="452.6" font-size="12.5" text-anchor="end" font-weight="normal" fill="#111" stroke="#111" stroke-width="0.35" >SQUIRLS</text>
<line x1="84.0" x2="87.6" y1="466.64" y2="466.64" stroke="#111" stroke-width="1"/>
<text x="81.3" y="471.1" font-size="12.5" text-anchor="end" font-weight="normal" fill="#111" stroke="#111" stroke-width="0.35" >SPANR</text>
<line x1="84.0" x2="87.6" y1="485.16" y2="485.16" stroke="#111" stroke-width="1"/>
<text x="81.3" y="489.7" font-size="12.5" text-anchor="end" font-weight="normal" fill="#111" stroke="#111" stroke-width="0.35" >SpliceAI</text>
<line x1="84.0" x2="87.6" y1="503.68" y2="503.68" stroke="#111" stroke-width="1"/>
<text x="81.3" y="508.2" font-size="12.5" text-anchor="end" font-weight="normal" fill="#111" stroke="#111" stroke-width="0.35" >Pangolin</text>
<line x1="84.0" x2="87.6" y1="522.20" y2="522.20" stroke="#111" stroke-width="1"/>
<text x="81.3" y="526.7" font-size="12.5" text-anchor="end" font-weight="normal" fill="#111" stroke="#111" stroke-width="0.35" >ConSpliceML</text>
<line x1="96.86" x2="96.86" y1="531.46" y2="535.26" stroke="#111" stroke-width="1"/>
<text transform="translate(100.6,537.6) rotate(-90)" font-size="12.4" text-anchor="end" fill="#111" stroke="#111" stroke-width="0.27">BETA Acceptor</text>
<line x1="115.38" x2="115.38" y1="531.46" y2="535.26" stroke="#111" stroke-width="1"/>
<text transform="translate(119.1,537.6) rotate(-90)" font-size="12.4" text-anchor="end" fill="#111" stroke="#111" stroke-width="0.27">BETA ESS</text>
<line x1="133.90" x2="133.90" y1="531.46" y2="535.26" stroke="#111" stroke-width="1"/>
<text transform="translate(137.6,537.6) rotate(-90)" font-size="12.4" text-anchor="end" fill="#111" stroke="#111" stroke-width="0.27">Alternate SS</text>
<line x1="152.42" x2="152.42" y1="531.46" y2="535.26" stroke="#111" stroke-width="1"/>
<text transform="translate(156.1,537.6) rotate(-90)" font-size="12.4" text-anchor="end" fill="#111" stroke="#111" stroke-width="0.27">ALPHA exon</text>
<line x1="170.94" x2="170.94" y1="531.46" y2="535.26" stroke="#111" stroke-width="1"/>
<text transform="translate(174.6,537.6) rotate(-90)" font-size="12.4" text-anchor="end" fill="#111" stroke="#111" stroke-width="0.27">Donor</text>
<rect x="187.3" y="383.3" width="9.3" height="148.16" fill="url(#cb)" stroke="#111" stroke-width="1.1"/>
<line x1="196.6" x2="200" y1="383.30" y2="383.30" stroke="#111" stroke-width="1"/>
<text x="200.6" y="387.8" font-size="12.3" text-anchor="start" font-weight="normal" fill="#111" stroke="#111" stroke-width="0.34" >100</text>
<line x1="196.6" x2="200" y1="412.93" y2="412.93" stroke="#111" stroke-width="1"/>
<text x="200.6" y="417.4" font-size="12.3" text-anchor="start" font-weight="normal" fill="#111" stroke="#111" stroke-width="0.34" >80</text>
<line x1="196.6" x2="200" y1="442.56" y2="442.56" stroke="#111" stroke-width="1"/>
<text x="200.6" y="447.1" font-size="12.3" text-anchor="start" font-weight="normal" fill="#111" stroke="#111" stroke-width="0.34" >60</text>
<line x1="196.6" x2="200" y1="472.20" y2="472.20" stroke="#111" stroke-width="1"/>
<text x="200.6" y="476.7" font-size="12.3" text-anchor="start" font-weight="normal" fill="#111" stroke="#111" stroke-width="0.34" >40</text>
<line x1="196.6" x2="200" y1="501.83" y2="501.83" stroke="#111" stroke-width="1"/>
<text x="200.6" y="506.3" font-size="12.3" text-anchor="start" font-weight="normal" fill="#111" stroke="#111" stroke-width="0.34" >20</text>
<line x1="196.6" x2="200" y1="531.46" y2="531.46" stroke="#111" stroke-width="1"/>
<text x="200.6" y="536.0" font-size="12.3" text-anchor="start" font-weight="normal" fill="#111" stroke="#111" stroke-width="0.34" >0</text>
<text transform="translate(238.7,457) rotate(-90)" font-size="12.8" text-anchor="middle" fill="#111" stroke="#111" stroke-width="0.27">% concordant with MPSA</text>
<rect x="258.2" y="380.3" width="105.6" height="79" fill="#fff" stroke="#333" stroke-width="1"/>
<text x="312.3" y="391.7" font-size="11" text-anchor="middle" font-weight="normal" fill="#111" stroke="#111" stroke-width="0.31" >Measured</text>
<text x="312.3" y="402.6" font-size="11" text-anchor="middle" font-weight="normal" fill="#111" stroke="#111" stroke-width="0.31" >splice disruptive</text>
<rect x="274.2" y="409" width="10.4" height="9.4" fill="#3b86c6"/>
<text x="287.3" y="417.9" font-size="11.4" text-anchor="start" font-weight="normal" fill="#3b86c6" stroke="#3b86c6" stroke-width="0.32" >A</text>
<rect x="328.3" y="407.6" width="10.3" height="9.4" fill="#e8560f"/>
<text x="340.7" y="416.2" font-size="11.4" text-anchor="start" font-weight="normal" fill="#e8560f" stroke="#e8560f" stroke-width="0.32" >C</text>
<rect x="274.2" y="422.9" width="10.4" height="9.5" fill="#3aa64a"/>
<text x="287.3" y="432.4" font-size="11.4" text-anchor="start" font-weight="normal" fill="#3aa64a" stroke="#3aa64a" stroke-width="0.32" >G</text>
<rect x="328.3" y="421.4" width="10.3" height="9.6" fill="#9272d2"/>
<text x="340.7" y="431" font-size="11.4" text-anchor="start" font-weight="normal" fill="#9272d2" stroke="#9272d2" stroke-width="0.32" >T</text>
<line x1="274.2" x2="339.8" y1="438.6" y2="438.6" stroke="#222" stroke-width="1"/>
<rect x="274.7" y="442.9" width="9.9" height="9.6" fill="#cfcfcf" stroke="#333" stroke-width="1"/>
<text x="289.3" y="451.2" font-size="11.0" text-anchor="start" font-weight="normal" fill="#111" stroke="#111" stroke-width="0.31" >Neutral</text></svg>
</body></html>
